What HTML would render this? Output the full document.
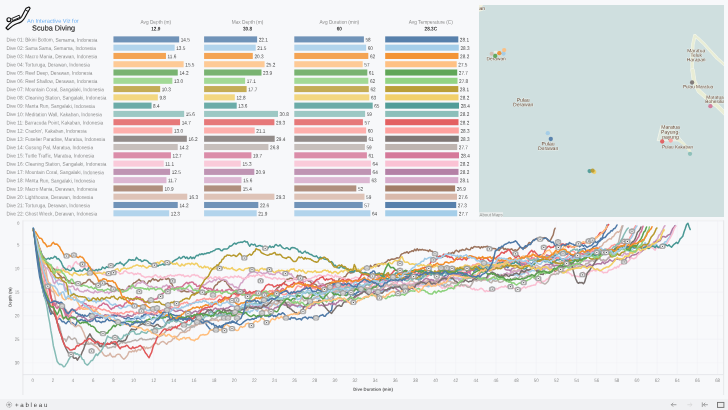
<!DOCTYPE html>
<html><head><meta charset="utf-8"><title>Scuba Diving</title>
<style>
html,body{margin:0;padding:0}
svg text{text-rendering:geometricPrecision}
svg{will-change:transform}
body{width:728px;height:410px;overflow:hidden;background:#f7f8fa;font-family:"Liberation Sans",sans-serif;position:relative}
.abs{position:absolute}
.tl{font-size:5.3px;fill:#8e8e8e;font-family:"Liberation Sans",sans-serif}
.tn{font-size:5.25px;fill:#4a4a4a;font-family:"Liberation Sans",sans-serif}
.th{font-size:5.35px;fill:#8b8b8b;font-family:"Liberation Sans",sans-serif}
.tv{font-size:5.25px;fill:#333;font-weight:bold;font-family:"Liberation Sans",sans-serif}
.mp{fill:#684a39;font-family:"Liberation Sans",sans-serif;paint-order:stroke;stroke:#eef3ee;stroke-width:0.9px;stroke-opacity:0.75}
.tk{font-size:4.9px;fill:#8f8f8f;font-family:"Liberation Sans",sans-serif}
</style></head><body>

<svg class="abs" style="left:0;top:0" width="100" height="36" viewBox="0 0 100 36">
<g fill="none" stroke="#111" stroke-width="1.15" stroke-linecap="round" stroke-linejoin="round">
<path d="M6 28 L7.9 29.7 L12.6 25.9 Q14.8 24.3 17.2 23.5 Q20.2 22.7 21.7 21.5 Q23.4 20.1 24.6 18 L27.8 12.2 L30.1 8.2 L28.9 7 L26.1 8.3 L24.2 11.8 L21.6 16.8 Q20.8 18.1 19.5 18.7 L15.5 20.2 Q13.4 20.9 12.1 21.6 L9.3 24.2 Z"/>
<circle cx="8.9" cy="19.7" r="1.95"/>
<path d="M12.1 18.3 L19.2 15.2 L20.2 17.3 L13.1 20.4 Z" stroke-width="0.95"/>
<path d="M25.9 10.3 L28.2 11.4" stroke-width="0.9"/>
</g>
<text x="27" y="22.8" transform="rotate(0.03 27 22.8)" style="font-size:5.62px;fill:#6fb1f3;font-family:'Liberation Sans',sans-serif">An Interactive Viz for</text>
<text x="32.1" y="30.6" transform="rotate(0.03 32.1 30.6)" style="font-size:7.3px;fill:#222;stroke:#222;stroke-width:0.12px;font-family:'Liberation Sans',sans-serif">Scuba Diving</text>
</svg>
<svg class="abs" style="left:0;top:0" width="480" height="220" viewBox="0 0 480 220">
<text class="th" text-anchor="middle" transform="translate(155.80 23.70) scale(0.893 1) rotate(0.03)">Avg Depth (m)</text>
<text class="tv" text-anchor="middle" transform="translate(155.80 30.45) scale(0.893 1) rotate(0.03)">12.9</text>
<text class="th" text-anchor="middle" transform="translate(247.50 23.70) scale(0.893 1) rotate(0.03)">Max Depth (m)</text>
<text class="tv" text-anchor="middle" transform="translate(247.50 30.45) scale(0.893 1) rotate(0.03)">30.8</text>
<text class="th" text-anchor="middle" transform="translate(339.30 23.70) scale(0.893 1) rotate(0.03)">Avg Duration (min)</text>
<text class="tv" text-anchor="middle" transform="translate(339.30 30.45) scale(0.893 1) rotate(0.03)">60</text>
<text class="th" text-anchor="middle" transform="translate(430.80 23.70) scale(0.893 1) rotate(0.03)">Avg Temperature (C)</text>
<text class="tv" text-anchor="middle" transform="translate(430.80 30.45) scale(0.893 1) rotate(0.03)">28.3C</text>
<text class="tl" transform="translate(6.50 41.60) scale(0.893 1) rotate(0.03)">Dive 01: Bikini Bottom, Semama, Indonesia</text>
<rect x="113.45" y="36.38" width="65.7" height="6.05" fill="#4e79a7" opacity="0.8"/>
<text class="tn" transform="translate(180.73 41.60) scale(0.893 1) rotate(0.03)">14.5</text>
<rect x="204.1" y="36.38" width="53.0" height="6.05" fill="#4e79a7" opacity="0.8"/>
<text class="tn" transform="translate(258.74 41.60) scale(0.893 1) rotate(0.03)">22.1</text>
<rect x="294.3" y="36.38" width="69.6" height="6.05" fill="#4e79a7" opacity="0.8"/>
<text class="tn" transform="translate(365.50 41.60) scale(0.893 1) rotate(0.03)">58</text>
<rect x="385.2" y="36.38" width="73.1" height="6.05" fill="#4e79a7" opacity="0.95"/>
<text class="tn" transform="translate(459.86 41.60) scale(0.893 1) rotate(0.03)">28.1</text>
<text class="tl" transform="translate(6.50 49.88) scale(0.893 1) rotate(0.03)">Dive 02: Sama Sama, Semama, Indonesia</text>
<rect x="113.45" y="44.66" width="61.2" height="6.05" fill="#a0cbe8" opacity="0.8"/>
<text class="tn" transform="translate(176.21 49.88) scale(0.893 1) rotate(0.03)">13.5</text>
<rect x="204.1" y="44.66" width="51.6" height="6.05" fill="#a0cbe8" opacity="0.8"/>
<text class="tn" transform="translate(257.30 49.88) scale(0.893 1) rotate(0.03)">21.5</text>
<rect x="294.3" y="44.66" width="71.8" height="6.05" fill="#a0cbe8" opacity="0.8"/>
<text class="tn" transform="translate(367.66 49.88) scale(0.893 1) rotate(0.03)">60</text>
<rect x="385.2" y="44.66" width="73.6" height="6.05" fill="#a0cbe8" opacity="0.95"/>
<text class="tn" transform="translate(460.38 49.88) scale(0.893 1) rotate(0.03)">28.3</text>
<text class="tl" transform="translate(6.50 58.16) scale(0.893 1) rotate(0.03)">Dive 03: Macro Mania, Derawan, Indonesia</text>
<rect x="113.45" y="52.93" width="52.5" height="6.05" fill="#f28e2b" opacity="0.8"/>
<text class="tn" transform="translate(167.60 58.16) scale(0.893 1) rotate(0.03)">11.6</text>
<rect x="204.1" y="52.93" width="48.7" height="6.05" fill="#f28e2b" opacity="0.8"/>
<text class="tn" transform="translate(254.42 58.16) scale(0.893 1) rotate(0.03)">20.3</text>
<rect x="294.3" y="52.93" width="74.0" height="6.05" fill="#f28e2b" opacity="0.8"/>
<text class="tn" transform="translate(369.94 58.16) scale(0.893 1) rotate(0.03)">62</text>
<rect x="385.2" y="52.93" width="73.3" height="6.05" fill="#f28e2b" opacity="0.95"/>
<text class="tn" transform="translate(460.12 58.16) scale(0.893 1) rotate(0.03)">28.2</text>
<text class="tl" transform="translate(6.50 66.44) scale(0.893 1) rotate(0.03)">Dive 04: Torturuga, Derawan, Indonesia</text>
<rect x="113.45" y="61.21" width="70.2" height="6.05" fill="#ffbe7d" opacity="0.8"/>
<text class="tn" transform="translate(185.27 66.44) scale(0.893 1) rotate(0.03)">15.5</text>
<rect x="204.1" y="61.21" width="60.5" height="6.05" fill="#ffbe7d" opacity="0.8"/>
<text class="tn" transform="translate(266.18 66.44) scale(0.893 1) rotate(0.03)">25.2</text>
<rect x="294.3" y="61.21" width="68.4" height="6.05" fill="#ffbe7d" opacity="0.8"/>
<text class="tn" transform="translate(364.30 66.44) scale(0.893 1) rotate(0.03)">57</text>
<rect x="385.2" y="61.21" width="71.5" height="6.05" fill="#ffbe7d" opacity="0.95"/>
<text class="tn" transform="translate(458.30 66.44) scale(0.893 1) rotate(0.03)">27.5</text>
<text class="tl" transform="translate(6.50 74.72) scale(0.893 1) rotate(0.03)">Dive 05: Reef Deep, Derawan, Indonesia</text>
<rect x="113.45" y="69.49" width="64.3" height="6.05" fill="#59a14f" opacity="0.8"/>
<text class="tn" transform="translate(179.38 74.72) scale(0.893 1) rotate(0.03)">14.2</text>
<rect x="204.1" y="69.49" width="57.4" height="6.05" fill="#59a14f" opacity="0.8"/>
<text class="tn" transform="translate(263.06 74.72) scale(0.893 1) rotate(0.03)">23.9</text>
<rect x="294.3" y="69.49" width="73.0" height="6.05" fill="#59a14f" opacity="0.8"/>
<text class="tn" transform="translate(368.86 74.72) scale(0.893 1) rotate(0.03)">61</text>
<rect x="385.2" y="69.49" width="72.0" height="6.05" fill="#59a14f" opacity="0.95"/>
<text class="tn" transform="translate(458.82 74.72) scale(0.893 1) rotate(0.03)">27.7</text>
<text class="tl" transform="translate(6.50 83.00) scale(0.893 1) rotate(0.03)">Dive 06: Reef Shallow, Derawan, Indonesia</text>
<rect x="113.45" y="77.77" width="58.9" height="6.05" fill="#8cd17d" opacity="0.8"/>
<text class="tn" transform="translate(173.94 83.00) scale(0.893 1) rotate(0.03)">13.0</text>
<rect x="204.1" y="77.77" width="41.0" height="6.05" fill="#8cd17d" opacity="0.8"/>
<text class="tn" transform="translate(246.74 83.00) scale(0.893 1) rotate(0.03)">17.1</text>
<rect x="294.3" y="77.77" width="74.0" height="6.05" fill="#8cd17d" opacity="0.8"/>
<text class="tn" transform="translate(369.94 83.00) scale(0.893 1) rotate(0.03)">62</text>
<rect x="385.2" y="77.77" width="72.3" height="6.05" fill="#8cd17d" opacity="0.95"/>
<text class="tn" transform="translate(459.08 83.00) scale(0.893 1) rotate(0.03)">27.8</text>
<text class="tl" transform="translate(6.50 91.28) scale(0.893 1) rotate(0.03)">Dive 07: Mountain Coral, Sangalaki, Indonesia</text>
<rect x="113.45" y="86.05" width="46.7" height="6.05" fill="#b6992d" opacity="0.8"/>
<text class="tn" transform="translate(161.71 91.28) scale(0.893 1) rotate(0.03)">10.3</text>
<rect x="204.1" y="86.05" width="42.5" height="6.05" fill="#b6992d" opacity="0.8"/>
<text class="tn" transform="translate(248.18 91.28) scale(0.893 1) rotate(0.03)">17.7</text>
<rect x="294.3" y="86.05" width="74.5" height="6.05" fill="#b6992d" opacity="0.8"/>
<text class="tn" transform="translate(370.42 91.28) scale(0.893 1) rotate(0.03)">62</text>
<rect x="385.2" y="86.05" width="73.1" height="6.05" fill="#b6992d" opacity="0.95"/>
<text class="tn" transform="translate(459.86 91.28) scale(0.893 1) rotate(0.03)">28.1</text>
<text class="tl" transform="translate(6.50 99.56) scale(0.893 1) rotate(0.03)">Dive 08: Cleaning Station, Sangalaki, Indonesia</text>
<rect x="113.45" y="94.33" width="44.4" height="6.05" fill="#f1ce63" opacity="0.8"/>
<text class="tn" transform="translate(159.44 99.56) scale(0.893 1) rotate(0.03)">9.8</text>
<rect x="204.1" y="94.33" width="30.7" height="6.05" fill="#f1ce63" opacity="0.8"/>
<text class="tn" transform="translate(236.42 99.56) scale(0.893 1) rotate(0.03)">12.8</text>
<rect x="294.3" y="94.33" width="75.0" height="6.05" fill="#f1ce63" opacity="0.8"/>
<text class="tn" transform="translate(370.90 99.56) scale(0.893 1) rotate(0.03)">63</text>
<rect x="385.2" y="94.33" width="73.3" height="6.05" fill="#f1ce63" opacity="0.95"/>
<text class="tn" transform="translate(460.12 99.56) scale(0.893 1) rotate(0.03)">28.2</text>
<text class="tl" transform="translate(6.50 107.84) scale(0.893 1) rotate(0.03)">Dive 09: Manta Run, Sangalaki, Indonesia</text>
<rect x="113.45" y="102.61" width="38.1" height="6.05" fill="#499894" opacity="0.8"/>
<text class="tn" transform="translate(153.10 107.84) scale(0.893 1) rotate(0.03)">8.4</text>
<rect x="204.1" y="102.61" width="32.6" height="6.05" fill="#499894" opacity="0.8"/>
<text class="tn" transform="translate(238.34 107.84) scale(0.893 1) rotate(0.03)">13.6</text>
<rect x="294.3" y="102.61" width="78.4" height="6.05" fill="#499894" opacity="0.8"/>
<text class="tn" transform="translate(374.26 107.84) scale(0.893 1) rotate(0.03)">65</text>
<rect x="385.2" y="102.61" width="73.8" height="6.05" fill="#499894" opacity="0.95"/>
<text class="tn" transform="translate(460.64 107.84) scale(0.893 1) rotate(0.03)">28.4</text>
<text class="tl" transform="translate(6.50 116.12) scale(0.893 1) rotate(0.03)">Dive 10: Meditation Wall, Kakaban, Indonesia</text>
<rect x="113.45" y="110.89" width="70.7" height="6.05" fill="#86bcb6" opacity="0.8"/>
<text class="tn" transform="translate(185.72 116.12) scale(0.893 1) rotate(0.03)">15.6</text>
<rect x="204.1" y="110.89" width="73.9" height="6.05" fill="#86bcb6" opacity="0.8"/>
<text class="tn" transform="translate(279.62 116.12) scale(0.893 1) rotate(0.03)">30.8</text>
<rect x="294.3" y="110.89" width="70.8" height="6.05" fill="#86bcb6" opacity="0.8"/>
<text class="tn" transform="translate(366.70 116.12) scale(0.893 1) rotate(0.03)">59</text>
<rect x="385.2" y="110.89" width="73.3" height="6.05" fill="#86bcb6" opacity="0.95"/>
<text class="tn" transform="translate(460.12 116.12) scale(0.893 1) rotate(0.03)">28.2</text>
<text class="tl" transform="translate(6.50 124.40) scale(0.893 1) rotate(0.03)">Dive 11: Barracuda Point, Kakaban, Indonesia</text>
<rect x="113.45" y="119.17" width="66.6" height="6.05" fill="#e15759" opacity="0.8"/>
<text class="tn" transform="translate(181.64 124.40) scale(0.893 1) rotate(0.03)">14.7</text>
<rect x="204.1" y="119.17" width="70.3" height="6.05" fill="#e15759" opacity="0.8"/>
<text class="tn" transform="translate(276.02 124.40) scale(0.893 1) rotate(0.03)">29.3</text>
<rect x="294.3" y="119.17" width="68.6" height="6.05" fill="#e15759" opacity="0.8"/>
<text class="tn" transform="translate(364.54 124.40) scale(0.893 1) rotate(0.03)">57</text>
<rect x="385.2" y="119.17" width="73.3" height="6.05" fill="#e15759" opacity="0.95"/>
<text class="tn" transform="translate(460.12 124.40) scale(0.893 1) rotate(0.03)">28.2</text>
<text class="tl" transform="translate(6.50 132.68) scale(0.893 1) rotate(0.03)">Dive 12: Crackin&#39;, Kakaban, Indonesia</text>
<rect x="113.45" y="127.45" width="58.9" height="6.05" fill="#ff9d9a" opacity="0.8"/>
<text class="tn" transform="translate(173.94 132.68) scale(0.893 1) rotate(0.03)">13.0</text>
<rect x="204.1" y="127.45" width="50.6" height="6.05" fill="#ff9d9a" opacity="0.8"/>
<text class="tn" transform="translate(256.34 132.68) scale(0.893 1) rotate(0.03)">21.1</text>
<rect x="294.3" y="127.45" width="71.8" height="6.05" fill="#ff9d9a" opacity="0.8"/>
<text class="tn" transform="translate(367.66 132.68) scale(0.893 1) rotate(0.03)">60</text>
<rect x="385.2" y="127.45" width="73.6" height="6.05" fill="#ff9d9a" opacity="0.95"/>
<text class="tn" transform="translate(460.38 132.68) scale(0.893 1) rotate(0.03)">28.3</text>
<text class="tl" transform="translate(6.50 140.96) scale(0.893 1) rotate(0.03)">Dive 13: Fuselier Paradise, Maratua, Indonesia</text>
<rect x="113.45" y="135.73" width="73.4" height="6.05" fill="#79706e" opacity="0.8"/>
<text class="tn" transform="translate(188.44 140.96) scale(0.893 1) rotate(0.03)">16.2</text>
<rect x="204.1" y="135.73" width="70.6" height="6.05" fill="#79706e" opacity="0.8"/>
<text class="tn" transform="translate(276.26 140.96) scale(0.893 1) rotate(0.03)">29.4</text>
<rect x="294.3" y="135.73" width="72.6" height="6.05" fill="#79706e" opacity="0.8"/>
<text class="tn" transform="translate(368.50 140.96) scale(0.893 1) rotate(0.03)">61</text>
<rect x="385.2" y="135.73" width="73.6" height="6.05" fill="#79706e" opacity="0.95"/>
<text class="tn" transform="translate(460.38 140.96) scale(0.893 1) rotate(0.03)">28.3</text>
<text class="tl" transform="translate(6.50 149.24) scale(0.893 1) rotate(0.03)">Dive 14: Gusung Pal, Maratua, Indonesia</text>
<rect x="113.45" y="144.01" width="64.3" height="6.05" fill="#bab0ac" opacity="0.8"/>
<text class="tn" transform="translate(179.38 149.24) scale(0.893 1) rotate(0.03)">14.2</text>
<rect x="204.1" y="144.01" width="64.3" height="6.05" fill="#bab0ac" opacity="0.8"/>
<text class="tn" transform="translate(270.02 149.24) scale(0.893 1) rotate(0.03)">26.8</text>
<rect x="294.3" y="144.01" width="70.6" height="6.05" fill="#bab0ac" opacity="0.8"/>
<text class="tn" transform="translate(366.46 149.24) scale(0.893 1) rotate(0.03)">59</text>
<rect x="385.2" y="144.01" width="72.0" height="6.05" fill="#bab0ac" opacity="0.95"/>
<text class="tn" transform="translate(458.82 149.24) scale(0.893 1) rotate(0.03)">27.7</text>
<text class="tl" transform="translate(6.50 157.52) scale(0.893 1) rotate(0.03)">Dive 15: Turtle Traffic, Maratua, Indonesia</text>
<rect x="113.45" y="152.29" width="57.5" height="6.05" fill="#d37295" opacity="0.8"/>
<text class="tn" transform="translate(172.58 157.52) scale(0.893 1) rotate(0.03)">12.7</text>
<rect x="204.1" y="152.29" width="47.3" height="6.05" fill="#d37295" opacity="0.8"/>
<text class="tn" transform="translate(252.98 157.52) scale(0.893 1) rotate(0.03)">19.7</text>
<rect x="294.3" y="152.29" width="72.6" height="6.05" fill="#d37295" opacity="0.8"/>
<text class="tn" transform="translate(368.50 157.52) scale(0.893 1) rotate(0.03)">61</text>
<rect x="385.2" y="152.29" width="73.8" height="6.05" fill="#d37295" opacity="0.95"/>
<text class="tn" transform="translate(460.64 157.52) scale(0.893 1) rotate(0.03)">28.4</text>
<text class="tl" transform="translate(6.50 165.80) scale(0.893 1) rotate(0.03)">Dive 16: Cleaning Station, Sangalaki, Indonesia</text>
<rect x="113.45" y="160.57" width="50.3" height="6.05" fill="#fabfd2" opacity="0.8"/>
<text class="tn" transform="translate(165.33 165.80) scale(0.893 1) rotate(0.03)">11.1</text>
<rect x="204.1" y="160.57" width="36.7" height="6.05" fill="#fabfd2" opacity="0.8"/>
<text class="tn" transform="translate(242.42 165.80) scale(0.893 1) rotate(0.03)">15.3</text>
<rect x="294.3" y="160.57" width="76.7" height="6.05" fill="#fabfd2" opacity="0.8"/>
<text class="tn" transform="translate(372.58 165.80) scale(0.893 1) rotate(0.03)">64</text>
<rect x="385.2" y="160.57" width="73.3" height="6.05" fill="#fabfd2" opacity="0.95"/>
<text class="tn" transform="translate(460.12 165.80) scale(0.893 1) rotate(0.03)">28.2</text>
<text class="tl" transform="translate(6.50 174.08) scale(0.893 1) rotate(0.03)">Dive 17: Mountain Coral, Sangalaki, Indonesia</text>
<rect x="113.45" y="168.85" width="56.6" height="6.05" fill="#b07aa1" opacity="0.8"/>
<text class="tn" transform="translate(171.67 174.08) scale(0.893 1) rotate(0.03)">12.5</text>
<rect x="204.1" y="168.85" width="50.2" height="6.05" fill="#b07aa1" opacity="0.8"/>
<text class="tn" transform="translate(255.86 174.08) scale(0.893 1) rotate(0.03)">20.9</text>
<rect x="294.3" y="168.85" width="76.7" height="6.05" fill="#b07aa1" opacity="0.8"/>
<text class="tn" transform="translate(372.58 174.08) scale(0.893 1) rotate(0.03)">64</text>
<rect x="385.2" y="168.85" width="73.3" height="6.05" fill="#b07aa1" opacity="0.95"/>
<text class="tn" transform="translate(460.12 174.08) scale(0.893 1) rotate(0.03)">28.2</text>
<text class="tl" transform="translate(6.50 182.36) scale(0.893 1) rotate(0.03)">Dive 18: Manta Run, Sangalaki, Indonesia</text>
<rect x="113.45" y="177.13" width="53.0" height="6.05" fill="#d4a6c8" opacity="0.8"/>
<text class="tn" transform="translate(168.05 182.36) scale(0.893 1) rotate(0.03)">11.7</text>
<rect x="204.1" y="177.13" width="37.4" height="6.05" fill="#d4a6c8" opacity="0.8"/>
<text class="tn" transform="translate(243.14 182.36) scale(0.893 1) rotate(0.03)">15.6</text>
<rect x="294.3" y="177.13" width="75.5" height="6.05" fill="#d4a6c8" opacity="0.8"/>
<text class="tn" transform="translate(371.38 182.36) scale(0.893 1) rotate(0.03)">63</text>
<rect x="385.2" y="177.13" width="73.1" height="6.05" fill="#d4a6c8" opacity="0.95"/>
<text class="tn" transform="translate(459.86 182.36) scale(0.893 1) rotate(0.03)">28.1</text>
<text class="tl" transform="translate(6.50 190.64) scale(0.893 1) rotate(0.03)">Dive 19: Macro Mania, Derawan, Indonesia</text>
<rect x="113.45" y="185.41" width="49.4" height="6.05" fill="#9d7660" opacity="0.8"/>
<text class="tn" transform="translate(164.43 190.64) scale(0.893 1) rotate(0.03)">10.9</text>
<rect x="204.1" y="185.41" width="37.0" height="6.05" fill="#9d7660" opacity="0.8"/>
<text class="tn" transform="translate(242.66 190.64) scale(0.893 1) rotate(0.03)">15.4</text>
<rect x="294.3" y="185.41" width="62.0" height="6.05" fill="#9d7660" opacity="0.8"/>
<text class="tn" transform="translate(357.94 190.64) scale(0.893 1) rotate(0.03)">52</text>
<rect x="385.2" y="185.41" width="69.9" height="6.05" fill="#9d7660" opacity="0.95"/>
<text class="tn" transform="translate(456.74 190.64) scale(0.893 1) rotate(0.03)">26.9</text>
<text class="tl" transform="translate(6.50 198.92) scale(0.893 1) rotate(0.03)">Dive 20: Lighthouse, Derawan, Indonesia</text>
<rect x="113.45" y="193.69" width="73.8" height="6.05" fill="#d7b5a6" opacity="0.8"/>
<text class="tn" transform="translate(188.89 198.92) scale(0.893 1) rotate(0.03)">16.3</text>
<rect x="204.1" y="193.69" width="70.3" height="6.05" fill="#d7b5a6" opacity="0.8"/>
<text class="tn" transform="translate(276.02 198.92) scale(0.893 1) rotate(0.03)">29.3</text>
<rect x="294.3" y="193.69" width="70.2" height="6.05" fill="#d7b5a6" opacity="0.8"/>
<text class="tn" transform="translate(366.10 198.92) scale(0.893 1) rotate(0.03)">59</text>
<rect x="385.2" y="193.69" width="71.8" height="6.05" fill="#d7b5a6" opacity="0.95"/>
<text class="tn" transform="translate(458.56 198.92) scale(0.893 1) rotate(0.03)">27.6</text>
<text class="tl" transform="translate(6.50 207.20) scale(0.893 1) rotate(0.03)">Dive 21: Torturuga, Derawan, Indonesia</text>
<rect x="113.45" y="201.97" width="64.3" height="6.05" fill="#4e79a7" opacity="0.8"/>
<text class="tn" transform="translate(179.38 207.20) scale(0.893 1) rotate(0.03)">14.2</text>
<rect x="204.1" y="201.97" width="54.2" height="6.05" fill="#4e79a7" opacity="0.8"/>
<text class="tn" transform="translate(259.94 207.20) scale(0.893 1) rotate(0.03)">22.6</text>
<rect x="294.3" y="201.97" width="68.4" height="6.05" fill="#4e79a7" opacity="0.8"/>
<text class="tn" transform="translate(364.30 207.20) scale(0.893 1) rotate(0.03)">57</text>
<rect x="385.2" y="201.97" width="71.0" height="6.05" fill="#4e79a7" opacity="0.95"/>
<text class="tn" transform="translate(457.78 207.20) scale(0.893 1) rotate(0.03)">27.3</text>
<text class="tl" transform="translate(6.50 215.48) scale(0.893 1) rotate(0.03)">Dive 22: Ghost Wreck, Derawan, Indonesia</text>
<rect x="113.45" y="210.25" width="55.7" height="6.05" fill="#a0cbe8" opacity="0.8"/>
<text class="tn" transform="translate(170.77 215.48) scale(0.893 1) rotate(0.03)">12.3</text>
<rect x="204.1" y="210.25" width="52.6" height="6.05" fill="#a0cbe8" opacity="0.8"/>
<text class="tn" transform="translate(258.26 215.48) scale(0.893 1) rotate(0.03)">21.9</text>
<rect x="294.3" y="210.25" width="76.1" height="6.05" fill="#a0cbe8" opacity="0.8"/>
<text class="tn" transform="translate(371.98 215.48) scale(0.893 1) rotate(0.03)">64</text>
<rect x="385.2" y="210.25" width="72.0" height="6.05" fill="#a0cbe8" opacity="0.95"/>
<text class="tn" transform="translate(458.82 215.48) scale(0.893 1) rotate(0.03)">27.7</text>
</svg>
<div class="abs" style="left:478.8px;top:4.7px;width:244.8px;height:211.9px;background:#cfdfdf;overflow:hidden">
<svg class="abs" style="left:0;top:0" width="245" height="212" viewBox="0 0 245 212">
<path d="M215.8 30.8 L213.8 39.7 L213.1 52.3 L213.2 64.1 L215.0 76.3 L219.8 86.0 L228.2 93.3 L238.0 100.7 L246.2 108.8" fill="none" stroke="#f1f4ea" stroke-width="3.5" stroke-linejoin="round" stroke-linecap="round"/>
<path d="M215.8 30.8 L220.2 34.3 L225.8 39.7 L231.7 46.3 L238.0 53.1 L246.2 60.3" fill="none" stroke="#f1f4ea" stroke-width="3.1" stroke-linejoin="round" stroke-linecap="round"/>
<path d="M215.8 30.8 L213.8 39.7 L213.1 52.3 L213.2 64.1 L215.0 76.3 L219.8 86.0 L228.2 93.3 L238.0 100.7 L246.2 108.8" fill="none" stroke="#e9edd5" stroke-width="2.3" stroke-linejoin="round" stroke-linecap="round"/>
<path d="M215.8 30.8 L220.2 34.3 L225.8 39.7 L231.7 46.3 L238.0 53.1 L246.2 60.3" fill="none" stroke="#e9edd5" stroke-width="1.9" stroke-linejoin="round" stroke-linecap="round"/>
<path d="M213.6 65.3 L215.2 76.3 L219.8 86.0 L228.2 93.3 L238.0 100.7 L246.2 108.8" fill="none" stroke="#f1f4ea" stroke-width="4.4" stroke-linejoin="round" stroke-linecap="round"/>
<path d="M213.6 65.3 L215.2 76.3 L219.8 86.0 L228.2 93.3 L238.0 100.7 L246.2 108.8" fill="none" stroke="#e9edd5" stroke-width="3.2" stroke-linejoin="round" stroke-linecap="round"/>
<path d="M182.0 120.5 L178.2 135.6 L199.2 135.9 L205.2 139.9 L211.8 147.9 L210.8 144.3 L200.2 131.9 L193.2 122.3 Z" fill="#dde8e0" stroke="#f1f4ea" stroke-width="0.9" stroke-linejoin="round"/>
<path d="M197.2 133.9 L204.7 138.8 L211.2 146.8" fill="none" stroke="#e9edd5" stroke-width="2.2" stroke-linecap="round" stroke-linejoin="round"/>
<ellipse cx="17.2" cy="47.1" rx="2.6" ry="1.3" fill="#eef1e8"/>
<path d="M0 0H4.2L2.6 2.2L3.8 5.6L0 6.8Z" fill="#f3f1dc" opacity="0.95"/>
<text class="mp" x="17.2" y="55.15" text-anchor="middle" transform="rotate(0.03 17.2 55.15)" style="font-size:4.8px">Derawan</text>
<text class="mp" x="44.2" y="96.65" text-anchor="middle" transform="rotate(0.03 44.2 96.65)" style="font-size:5.1px">Pulau</text>
<text class="mp" x="44.2" y="101.35" text-anchor="middle" transform="rotate(0.03 44.2 101.35)" style="font-size:5.1px">Derawan</text>
<text class="mp" x="69.1" y="140.45" text-anchor="middle" transform="rotate(0.03 69.1 140.45)" style="font-size:5.1px">Pulau</text>
<text class="mp" x="69.1" y="145.05" text-anchor="middle" transform="rotate(0.03 69.1 145.05)" style="font-size:5.1px">Derawan</text>
<text class="mp" x="217.2" y="47.35" text-anchor="middle" transform="rotate(0.03 217.2 47.35)" style="font-size:4.9px">Maratua</text>
<text class="mp" x="217.2" y="51.80" text-anchor="middle" transform="rotate(0.03 217.2 51.80)" style="font-size:4.9px">Teluk</text>
<text class="mp" x="217.2" y="56.25" text-anchor="middle" transform="rotate(0.03 217.2 56.25)" style="font-size:4.9px">Harapan</text>
<text class="mp" x="219.0" y="83.15" text-anchor="middle" transform="rotate(0.03 219.0 83.15)" style="font-size:4.65px">Pulau Maratua</text>
<text class="mp" x="236.0" y="93.65" text-anchor="middle" transform="rotate(0.03 236.0 93.65)" style="font-size:4.8px">Maratua</text>
<text class="mp" x="236.0" y="97.95" text-anchor="middle" transform="rotate(0.03 236.0 97.95)" style="font-size:4.8px">Bohesilia</text>
<text class="mp" x="191.5" y="123.65" text-anchor="middle" transform="rotate(0.03 191.5 123.65)" style="font-size:5.1px">Maratua</text>
<text class="mp" x="191.5" y="128.65" text-anchor="middle" transform="rotate(0.03 191.5 128.65)" style="font-size:5.1px">Payung-</text>
<text class="mp" x="191.5" y="133.65" text-anchor="middle" transform="rotate(0.03 191.5 133.65)" style="font-size:5.1px">payung</text>
<text class="mp" x="198.5" y="143.45" text-anchor="middle" transform="rotate(0.03 198.5 143.45)" style="font-size:4.6px">Pulau Kakaban</text>
<text class="mp" x="0.3" y="4.9" transform="rotate(0.03 0.3 4.9)" style="font-size:5.3px">an</text>
<rect x="0" y="207.2" width="24" height="5.2" fill="#edf1f0" opacity="0.85"/>
<text x="0.5" y="211.2" transform="rotate(0.03 0.5 211.2)" style="font-size:4.35px;fill:#8a8a8a;font-family:'Liberation Sans',sans-serif;paint-order:normal;stroke:none">About Maps</text>
<circle cx="12.6" cy="48.7" r="2.0" fill="#d7b5a6" opacity="0.8"/>
<circle cx="24.5" cy="48.5" r="2.15" fill="#a0cbe8" opacity="0.9"/>
<circle cx="23.2" cy="47.9" r="2.0" fill="#4e79a7" opacity="0.0"/>
<circle cx="25.2" cy="45.1" r="2.15" fill="#ffbe7d" opacity="0.9"/>
<circle cx="20.3" cy="48.2" r="2.15" fill="#f28e2b" opacity="0.9"/>
<circle cx="16.2" cy="51.0" r="2.15" fill="#59a14f" opacity="0.9"/>
<circle cx="68.8" cy="128.2" r="2.15" fill="#a0cbe8" opacity="0.9"/>
<circle cx="71.8" cy="134.0" r="2.15" fill="#4e79a7" opacity="0.9"/>
<circle cx="110.6" cy="166.1" r="2.15" fill="#499894" opacity="0.9"/>
<circle cx="115.2" cy="167.0" r="2.15" fill="#f1ce63" opacity="0.9"/>
<circle cx="113.6" cy="165.7" r="2.15" fill="#b6992d" opacity="0.9"/>
<circle cx="213.1" cy="77.5" r="2.15" fill="#79706e" opacity="0.9"/>
<circle cx="231.4" cy="101.2" r="2.15" fill="#d37295" opacity="0.9"/>
<circle cx="183.2" cy="136.5" r="2.15" fill="#e15759" opacity="0.9"/>
<circle cx="191.7" cy="135.6" r="2.15" fill="#ff9d9a" opacity="0.9"/>
<circle cx="211.0" cy="148.8" r="2.15" fill="#86bcb6" opacity="0.9"/>
</svg>

</div>
<svg class="abs" style="left:0;top:0" width="728" height="410" viewBox="0 0 728 410">
<rect x="22.9" y="220.4" width="700.7" height="154.2" fill="#f8f9fb"/>
<path d="M32.8 220.4V374.6 M52.9 220.4V374.6 M73.1 220.4V374.6 M93.2 220.4V374.6 M113.4 220.4V374.6 M133.5 220.4V374.6 M153.6 220.4V374.6 M173.8 220.4V374.6 M193.9 220.4V374.6 M214.1 220.4V374.6 M234.2 220.4V374.6 M254.3 220.4V374.6 M274.5 220.4V374.6 M294.6 220.4V374.6 M314.8 220.4V374.6 M334.9 220.4V374.6 M355.0 220.4V374.6 M375.2 220.4V374.6 M395.3 220.4V374.6 M415.5 220.4V374.6 M435.6 220.4V374.6 M455.7 220.4V374.6 M475.9 220.4V374.6 M496.0 220.4V374.6 M516.2 220.4V374.6 M536.3 220.4V374.6 M556.4 220.4V374.6 M576.6 220.4V374.6 M596.7 220.4V374.6 M616.9 220.4V374.6 M637.0 220.4V374.6 M657.1 220.4V374.6 M677.3 220.4V374.6 M697.4 220.4V374.6 M717.6 220.4V374.6 M22.9 221.3H723.6 M22.9 244.9H723.6 M22.9 268.5H723.6 M22.9 292.1H723.6 M22.9 315.7H723.6 M22.9 339.3H723.6 M22.9 362.9H723.6" stroke="#eff0f3" stroke-width="0.45" fill="none"/>
<path d="M22.9 220.4H723.6V374.6" stroke="#eceef0" stroke-width="0.6" fill="none"/>
<path d="M22.9 220.4V395 M22.9 374.6H723.6 M723.6 220.4V395" stroke="#dfe1e4" stroke-width="0.7" fill="none"/>
<text class="tk" text-anchor="middle" transform="translate(32.80 382.00) scale(0.893 1) rotate(0.03)">0</text>
<text class="tk" text-anchor="middle" transform="translate(52.94 382.00) scale(0.893 1) rotate(0.03)">2</text>
<text class="tk" text-anchor="middle" transform="translate(73.08 382.00) scale(0.893 1) rotate(0.03)">4</text>
<text class="tk" text-anchor="middle" transform="translate(93.22 382.00) scale(0.893 1) rotate(0.03)">6</text>
<text class="tk" text-anchor="middle" transform="translate(113.36 382.00) scale(0.893 1) rotate(0.03)">8</text>
<text class="tk" text-anchor="middle" transform="translate(133.50 382.00) scale(0.893 1) rotate(0.03)">10</text>
<text class="tk" text-anchor="middle" transform="translate(153.64 382.00) scale(0.893 1) rotate(0.03)">12</text>
<text class="tk" text-anchor="middle" transform="translate(173.78 382.00) scale(0.893 1) rotate(0.03)">14</text>
<text class="tk" text-anchor="middle" transform="translate(193.92 382.00) scale(0.893 1) rotate(0.03)">16</text>
<text class="tk" text-anchor="middle" transform="translate(214.06 382.00) scale(0.893 1) rotate(0.03)">18</text>
<text class="tk" text-anchor="middle" transform="translate(234.20 382.00) scale(0.893 1) rotate(0.03)">20</text>
<text class="tk" text-anchor="middle" transform="translate(254.34 382.00) scale(0.893 1) rotate(0.03)">22</text>
<text class="tk" text-anchor="middle" transform="translate(274.48 382.00) scale(0.893 1) rotate(0.03)">24</text>
<text class="tk" text-anchor="middle" transform="translate(294.62 382.00) scale(0.893 1) rotate(0.03)">26</text>
<text class="tk" text-anchor="middle" transform="translate(314.76 382.00) scale(0.893 1) rotate(0.03)">28</text>
<text class="tk" text-anchor="middle" transform="translate(334.90 382.00) scale(0.893 1) rotate(0.03)">30</text>
<text class="tk" text-anchor="middle" transform="translate(355.04 382.00) scale(0.893 1) rotate(0.03)">32</text>
<text class="tk" text-anchor="middle" transform="translate(375.18 382.00) scale(0.893 1) rotate(0.03)">34</text>
<text class="tk" text-anchor="middle" transform="translate(395.32 382.00) scale(0.893 1) rotate(0.03)">36</text>
<text class="tk" text-anchor="middle" transform="translate(415.46 382.00) scale(0.893 1) rotate(0.03)">38</text>
<text class="tk" text-anchor="middle" transform="translate(435.60 382.00) scale(0.893 1) rotate(0.03)">40</text>
<text class="tk" text-anchor="middle" transform="translate(455.74 382.00) scale(0.893 1) rotate(0.03)">42</text>
<text class="tk" text-anchor="middle" transform="translate(475.88 382.00) scale(0.893 1) rotate(0.03)">44</text>
<text class="tk" text-anchor="middle" transform="translate(496.02 382.00) scale(0.893 1) rotate(0.03)">46</text>
<text class="tk" text-anchor="middle" transform="translate(516.16 382.00) scale(0.893 1) rotate(0.03)">48</text>
<text class="tk" text-anchor="middle" transform="translate(536.30 382.00) scale(0.893 1) rotate(0.03)">50</text>
<text class="tk" text-anchor="middle" transform="translate(556.44 382.00) scale(0.893 1) rotate(0.03)">52</text>
<text class="tk" text-anchor="middle" transform="translate(576.58 382.00) scale(0.893 1) rotate(0.03)">54</text>
<text class="tk" text-anchor="middle" transform="translate(596.72 382.00) scale(0.893 1) rotate(0.03)">56</text>
<text class="tk" text-anchor="middle" transform="translate(616.86 382.00) scale(0.893 1) rotate(0.03)">58</text>
<text class="tk" text-anchor="middle" transform="translate(637.00 382.00) scale(0.893 1) rotate(0.03)">60</text>
<text class="tk" text-anchor="middle" transform="translate(657.14 382.00) scale(0.893 1) rotate(0.03)">62</text>
<text class="tk" text-anchor="middle" transform="translate(677.28 382.00) scale(0.893 1) rotate(0.03)">64</text>
<text class="tk" text-anchor="middle" transform="translate(697.42 382.00) scale(0.893 1) rotate(0.03)">66</text>
<text class="tk" text-anchor="middle" transform="translate(717.56 382.00) scale(0.893 1) rotate(0.03)">68</text>
<text class="tk" text-anchor="end" transform="translate(19.50 224.90) scale(0.893 1) rotate(0.03)">0</text>
<text class="tk" text-anchor="end" transform="translate(19.50 246.60) scale(0.893 1) rotate(0.03)">5</text>
<text class="tk" text-anchor="end" transform="translate(19.50 270.20) scale(0.893 1) rotate(0.03)">10</text>
<text class="tk" text-anchor="end" transform="translate(19.50 293.80) scale(0.893 1) rotate(0.03)">15</text>
<text class="tk" text-anchor="end" transform="translate(19.50 317.40) scale(0.893 1) rotate(0.03)">20</text>
<text class="tk" text-anchor="end" transform="translate(19.50 341.00) scale(0.893 1) rotate(0.03)">25</text>
<text class="tk" text-anchor="end" transform="translate(19.50 364.60) scale(0.893 1) rotate(0.03)">30</text>
<text x="373.1" y="390.7" text-anchor="middle" transform="rotate(0.03 373 390.7)" style="font-size:4.3px;font-weight:bold;fill:#555;font-family:'Liberation Sans',sans-serif">Dive Duration (min)</text>
<text transform="translate(11.5,297) rotate(-90.03)" text-anchor="middle" style="font-size:4.15px;font-weight:bold;fill:#5a5a5a;font-family:'Liberation Sans',sans-serif">Depth (m)</text>
<polyline points="33.3,228.2 34.6,232.2 35.8,237.4 37.1,241.6 38.3,247.3 39.6,251.4 40.9,253.5 42.1,255.8 43.4,258.0 44.6,260.2 45.9,263.9 47.1,264.8 48.4,267.6 49.7,271.0 50.9,273.7 52.2,274.5 53.4,276.4 54.7,277.9 56.0,280.7 57.2,282.7 58.5,284.6 59.7,283.6 61.0,284.0 62.3,284.6 63.5,284.3 64.8,290.4 66.0,291.8 67.3,290.6 68.5,289.4 69.8,289.4 71.1,293.2 72.3,294.5 73.6,293.4 74.8,294.2 76.1,296.7 77.4,299.8 78.6,300.2 79.9,301.6 81.1,301.9 82.4,301.6 83.7,302.2 84.9,299.3 86.2,300.0 87.4,298.3 88.7,298.0 89.9,299.7 91.2,299.3 92.5,301.0 93.7,301.6 95.0,300.7 96.2,302.8 97.5,300.9 98.8,301.5 100.0,300.2 101.3,301.4 102.5,299.8 103.8,298.8 105.0,298.8 106.3,300.5 107.6,300.8 108.8,302.0 110.1,303.9 111.3,304.5 112.6,305.4 113.9,304.4 115.1,303.8 116.4,305.3 117.6,305.5 118.9,307.7 120.2,308.4 121.4,308.4 122.7,307.0 123.9,306.7 125.2,307.4 126.4,306.9 127.7,305.6 129.0,305.4 130.2,305.3 131.5,306.4 132.7,306.3 134.0,304.8 135.3,304.1 136.5,304.3 137.8,306.3 139.0,306.3 140.3,305.7 141.6,307.8 142.8,308.6 144.1,308.8 145.3,308.6 146.6,310.4 147.8,310.3 149.1,310.8 150.4,308.5 151.6,307.6 152.9,308.7 154.1,309.3 155.4,308.8 156.7,309.3 157.9,311.6 159.2,312.4 160.4,313.3 161.7,316.0 163.0,319.5 164.2,321.4 165.5,323.3 166.7,323.7 168.0,322.1 169.2,323.2 170.5,321.1 171.8,320.4 173.0,320.6 174.3,319.4 175.5,317.8 176.8,316.7 178.1,318.3 179.3,318.7 180.6,318.0 181.8,318.8 183.1,318.6 184.4,318.0 185.6,316.5 186.9,316.1 188.1,315.3 189.4,316.8 190.6,315.1 191.9,316.3 193.2,315.9 194.4,316.1 195.7,315.0 196.9,315.5 198.2,314.5 199.5,313.6 200.7,314.9 202.0,313.2 203.2,314.7 204.5,314.8 205.7,316.0 207.0,316.6 208.3,314.8 209.5,314.9 210.8,314.9 212.0,314.7 213.3,312.7 214.6,313.4 215.8,311.0 217.1,309.5 218.3,311.2 219.6,311.1 220.9,313.2 222.1,313.7 223.4,316.6 224.6,318.4 225.9,317.0 227.1,316.8 228.4,315.9 229.7,316.7 230.9,315.1 232.2,315.8 233.4,314.4 234.7,315.4 236.0,314.3 237.2,313.0 238.5,312.0 239.7,313.0 241.0,312.5 242.3,313.4 243.5,312.8 244.8,313.4 246.0,311.7 247.3,312.3 248.5,310.9 249.8,312.7 251.1,310.7 252.3,311.1 253.6,309.5 254.8,308.6 256.1,310.3 257.4,311.2 258.6,308.6 259.9,308.1 261.1,308.0 262.4,307.0 263.7,307.5 264.9,307.5 266.2,307.5 267.4,308.1 268.7,307.2 269.9,305.3 271.2,305.8 272.5,304.4 273.7,304.3 275.0,304.9 276.2,303.2 277.5,305.2 278.8,306.1 280.0,305.2 281.3,303.8 282.5,303.9 283.8,304.7 285.1,304.7 286.3,305.2 287.6,304.9 288.8,304.7 290.1,304.3 291.3,303.3 292.6,303.0 293.9,304.9 295.1,305.6 296.4,305.6 297.6,307.2 298.9,305.7 300.2,307.4 301.4,305.9 302.7,306.3 303.9,306.4 305.2,306.6 306.4,304.7 307.7,305.1 309.0,302.7 310.2,300.7 311.5,299.2 312.7,299.6 314.0,297.3 315.3,297.9 316.5,298.5 317.8,298.8 319.0,298.2 320.3,297.6 321.6,296.9 322.8,296.3 324.1,296.8 325.3,298.6 326.6,299.6 327.8,298.7 329.1,300.6 330.4,299.2 331.6,300.5 332.9,298.2 334.1,295.9 335.4,295.6 336.7,293.2 337.9,292.8 339.2,292.3 340.4,291.2 341.7,291.1 343.0,293.0 344.2,294.3 345.5,294.9 346.7,295.1 348.0,295.0 349.2,292.5 350.5,292.7 351.8,294.5 353.0,295.1 354.3,295.5 355.5,293.7 356.8,292.2 358.1,291.4 359.3,291.2 360.6,290.5 361.8,291.2 363.1,290.8 364.4,290.8 365.6,290.4 366.9,291.5 368.1,291.6 369.4,290.8 370.6,290.1 371.9,288.6 373.2,290.1 374.4,290.5 375.7,290.0 376.9,292.1 378.2,292.4 379.5,291.8 380.7,290.8 382.0,291.7 383.2,290.3 384.5,289.7 385.8,291.3 387.0,290.1 388.3,290.8 389.5,289.6 390.8,288.3 392.0,287.2 393.3,286.4 394.6,284.4 395.8,285.6 397.1,284.4 398.3,286.5 399.6,287.7 400.9,288.0 402.1,290.0 403.4,290.1 404.6,288.7 405.9,289.2 407.1,288.8 408.4,286.1 409.7,284.6 410.9,284.9 412.2,285.4 413.4,286.0 414.7,286.9 416.0,287.1 417.2,285.6 418.5,285.7 419.7,285.2 421.0,285.4 422.3,284.2 423.5,284.1 424.8,284.7 426.0,285.9 427.3,286.6 428.5,286.8 429.8,285.9 431.1,284.1 432.3,285.8 433.6,285.5 434.8,284.9 436.1,284.8 437.4,284.5 438.6,285.2 439.9,286.3 441.1,285.7 442.4,285.4 443.7,285.8 444.9,283.8 446.2,283.1 447.4,281.2 448.7,279.7 449.9,280.7 451.2,279.2 452.5,279.0 453.7,278.2 455.0,278.1 456.2,279.0 457.5,278.4 458.8,278.1 460.0,278.7 461.3,278.2 462.5,279.2 463.8,278.5 465.1,277.7 466.3,276.9 467.6,277.4 468.8,278.3 470.1,276.2 471.3,277.1 472.6,275.8 473.9,275.8 475.1,274.8 476.4,276.0 477.6,277.1 478.9,277.1 480.2,277.6 481.4,278.8 482.7,279.2 483.9,279.2 485.2,278.6 486.5,279.7 487.7,280.9 489.0,279.4 490.2,279.9 491.5,279.4 492.7,278.9 494.0,279.6 495.3,279.2 496.5,278.5 497.8,275.7 499.0,275.0 500.3,274.5 501.6,274.6 502.8,275.2 504.1,274.5 505.3,275.2 506.6,275.5 507.8,274.5 509.1,273.7 510.4,275.0 511.6,274.2 512.9,274.7 514.1,275.5 515.4,274.6 516.7,274.7 517.9,275.9 519.2,275.1 520.4,273.4 521.7,274.6 523.0,273.3 524.2,273.7 525.5,272.3 526.7,272.2 528.0,272.2 529.2,271.5 530.5,271.8 531.8,270.5 533.0,270.5 534.3,270.7 535.5,270.5 536.8,270.3 538.1,269.3 539.3,269.8 540.6,269.8 541.8,268.8 543.1,267.9 544.4,268.0 545.6,267.7 546.9,268.2 548.1,269.3 549.4,267.7 550.6,267.8 551.9,266.9 553.2,264.1 554.4,262.9 555.7,263.4 556.9,262.8 558.2,263.1 559.5,261.8 560.7,263.6 562.0,262.1 563.2,261.1 564.5,262.4 565.8,263.3 567.0,261.9 568.3,261.9 569.5,260.7 570.8,258.9 572.0,257.8 573.3,258.8 574.6,259.2 575.8,258.0 577.1,258.7 578.3,257.4 579.6,258.4 580.9,258.5 582.1,258.6 583.4,259.0 584.6,256.7 585.9,256.1 587.1,257.3 588.4,256.4 589.7,255.7 590.9,255.5 592.2,254.4 593.4,254.9 594.7,256.4 596.0,256.0 597.2,255.7 598.5,253.0 599.7,252.8 601.0,251.6 602.3,249.9 603.5,250.0 604.8,249.1 606.0,249.3 607.3,250.6 608.5,249.5 609.8,249.7 611.1,250.0 612.3,250.0 613.6,251.0 614.8,249.4 616.1,249.3 617.4,248.6 618.6,249.5 619.9,249.3 621.1,248.2 622.4,247.8 623.7,248.8 624.9,251.3 626.2,250.0 627.4,250.5 628.7,251.2 629.9,251.3 631.2,250.5 632.5,249.1 633.7,248.4 635.0,248.0 636.2,247.8 637.5,248.3 638.8,246.1 640.0,246.3 641.3,244.4 642.5,244.6 643.8,244.6 645.1,242.6 646.3,244.3 647.6,245.3 648.8,243.7 650.1,244.8 651.3,246.5 652.6,247.2 653.9,245.7 655.1,244.9 656.4,244.1 657.6,246.4 658.9,247.3 660.2,245.4 661.4,245.3 662.7,244.1 663.9,243.5 665.2,241.6 666.5,242.0 667.7,239.4 669.0,237.8 670.2,236.1 671.5,233.8 672.7,229.6 674.0,227.7 675.3,225.5 675.5,226.0" fill="none" stroke="#a0cbe8" stroke-width="1.5" stroke-linejoin="round" stroke-linecap="round"/>
<polyline points="33.3,228.4 34.6,237.8 35.8,249.2 37.1,259.2 38.3,267.8 39.6,276.5 40.9,282.2 42.1,287.1 43.4,291.7 44.6,297.0 45.9,299.1 47.1,300.9 48.4,303.9 49.7,310.7 50.9,314.2 52.2,312.7 53.4,311.1 54.7,312.3 56.0,318.0 57.2,319.5 58.5,318.8 59.7,318.6 61.0,320.1 62.3,321.8 63.5,321.4 64.8,322.7 66.0,323.8 67.3,322.1 68.5,321.0 69.8,321.7 71.1,323.7 72.3,322.7 73.6,323.8 74.8,326.0 76.1,324.3 77.4,321.0 78.6,320.3 79.9,320.6 81.1,319.4 82.4,320.0 83.7,320.9 84.9,320.0 86.2,322.2 87.4,321.1 88.7,320.7 89.9,321.8 91.2,320.9 92.5,320.7 93.7,319.0 95.0,318.0 96.2,317.2 97.5,317.3 98.8,317.7 100.0,318.1 101.3,316.8 102.5,317.9 103.8,315.7 105.0,316.6 106.3,316.7 107.6,315.3 108.8,315.4 110.1,316.7 111.3,315.2 112.6,315.4 113.9,316.1 115.1,315.3 116.4,316.2 117.6,315.4 118.9,315.6 120.2,315.5 121.4,316.7 122.7,316.8 123.9,318.1 125.2,318.6 126.4,319.1 127.7,317.2 129.0,317.7 130.2,319.3 131.5,318.8 132.7,318.7 134.0,319.0 135.3,317.3 136.5,319.0 137.8,318.1 139.0,318.1 140.3,319.1 141.6,316.1 142.8,316.3 144.1,314.3 145.3,315.1 146.6,314.0 147.8,314.5 149.1,313.6 150.4,313.6 151.6,314.5 152.9,314.6 154.1,315.0 155.4,314.0 156.7,315.4 157.9,316.1 159.2,315.4 160.4,316.1 161.7,316.1 163.0,315.9 164.2,316.4 165.5,314.8 166.7,316.1 168.0,316.8 169.2,314.5 170.5,313.5 171.8,314.4 173.0,314.8 174.3,315.3 175.5,315.7 176.8,315.5 178.1,315.7 179.3,315.5 180.6,315.5 181.8,317.1 183.1,317.4 184.4,318.9 185.6,319.5 186.9,319.8 188.1,318.2 189.4,318.5 190.6,317.8 191.9,316.3 193.2,316.1 194.4,315.8 195.7,317.0 196.9,318.4 198.2,317.9 199.5,319.5 200.7,319.5 202.0,319.3 203.2,319.7 204.5,322.3 205.7,323.4 207.0,325.5 208.3,326.9 209.5,328.7 210.8,329.5 212.0,330.1 213.3,330.1 214.6,327.8 215.8,327.7 217.1,327.3 218.3,326.6 219.6,326.8 220.9,326.8 222.1,325.5 223.4,325.9 224.6,325.4 225.9,323.0 227.1,323.4 228.4,323.2 229.7,322.1 230.9,322.4 232.2,321.0 233.4,321.4 234.7,322.4 236.0,323.0 237.2,323.6 238.5,324.4 239.7,324.9 241.0,324.4 242.3,323.3 243.5,322.1 244.8,321.2 246.0,320.4 247.3,319.5 248.5,319.4 249.8,319.9 251.1,319.5 252.3,318.7 253.6,319.3 254.8,318.3 256.1,318.3 257.4,316.5 258.6,316.9 259.9,316.1 261.1,317.4 262.4,315.4 263.7,314.9 264.9,315.9 266.2,315.5 267.4,315.6 268.7,316.8 269.9,316.4 271.2,315.1 272.5,314.9 273.7,316.5 275.0,315.5 276.2,317.0 277.5,315.2 278.8,313.6 280.0,314.5 281.3,314.0 282.5,312.7 283.8,313.6 285.1,315.1 286.3,317.2 287.6,319.0 288.8,318.6 290.1,319.4 291.3,317.3 292.6,318.1 293.9,317.7 295.1,317.9 296.4,319.5 297.6,319.2 298.9,318.7 300.2,318.7 301.4,320.0 302.7,317.9 303.9,317.6 305.2,316.9 306.4,317.9 307.7,318.9 309.0,317.1 310.2,317.6 311.5,317.3 312.7,318.2 314.0,316.3 315.3,316.9 316.5,315.9 317.8,316.5 319.0,316.8 320.3,315.4 321.6,315.3 322.8,314.6 324.1,316.2 325.3,316.2 326.6,314.1 327.8,313.6 329.1,312.2 330.4,311.0 331.6,310.4 332.9,300.9 334.1,290.9 335.4,290.6 336.7,289.0 337.9,289.2 339.2,290.7 340.4,292.2 341.7,291.9 343.0,293.7 344.2,294.3 345.5,292.9 346.7,292.3 348.0,292.2 349.2,294.0 350.5,294.9 351.8,293.5 353.0,294.9 354.3,293.7 355.5,294.7 356.8,292.7 358.1,292.3 359.3,291.4 360.6,290.6 361.8,289.0 363.1,285.9 364.4,285.2 365.6,283.0 366.9,281.0 368.1,278.3 369.4,274.9 370.6,272.7 371.9,272.2 373.2,270.9 374.4,271.3 375.7,274.1 376.9,274.8 378.2,276.6 379.5,277.5 380.7,277.5 382.0,280.1 383.2,279.4 384.5,280.7 385.8,279.5 387.0,280.0 388.3,279.8 389.5,280.1 390.8,279.8 392.0,277.7 393.3,278.8 394.6,279.2 395.8,278.5 397.1,278.9 398.3,278.8 399.6,280.0 400.9,278.3 402.1,278.9 403.4,278.8 404.6,277.2 405.9,276.3 407.1,276.7 408.4,275.7 409.7,274.2 410.9,273.3 412.2,274.3 413.4,274.8 414.7,276.6 416.0,278.7 417.2,278.9 418.5,279.9 419.7,278.1 421.0,279.1 422.3,277.1 423.5,276.8 424.8,274.2 426.0,272.6 427.3,272.2 428.5,273.6 429.8,274.2 431.1,275.2 432.3,273.7 433.6,274.6 434.8,274.6 436.1,275.6 437.4,275.1 438.6,274.9 439.9,274.5 441.1,274.8 442.4,275.8 443.7,276.9 444.9,275.9 446.2,275.0 447.4,274.2 448.7,271.5 449.9,270.1 451.2,271.2 452.5,272.0 453.7,271.5 455.0,272.4 456.2,274.1 457.5,274.0 458.8,274.0 460.0,275.6 461.3,274.6 462.5,275.5 463.8,275.0 465.1,272.9 466.3,272.3 467.6,270.1 468.8,268.9 470.1,270.6 471.3,270.3 472.6,269.1 473.9,271.4 475.1,270.0 476.4,269.3 477.6,270.0 478.9,270.2 480.2,268.7 481.4,269.6 482.7,268.1 483.9,267.4 485.2,267.5 486.5,268.2 487.7,266.1 489.0,265.9 490.2,267.5 491.5,267.5 492.7,266.1 494.0,265.1 495.3,265.6 496.5,264.9 497.8,264.5 499.0,264.8 500.3,265.5 501.6,266.3 502.8,265.6 504.1,267.2 505.3,267.1 506.6,266.4 507.8,267.7 509.1,265.9 510.4,264.8 511.6,262.9 512.9,261.0 514.1,259.7 515.4,260.5 516.7,259.8 517.9,259.5 519.2,261.3 520.4,263.0 521.7,263.0 523.0,262.9 524.2,263.0 525.5,261.8 526.7,262.5 528.0,263.2 529.2,263.4 530.5,263.3 531.8,264.1 533.0,262.0 534.3,262.5 535.5,259.7 536.8,259.0 538.1,255.6 539.3,255.3 540.6,254.9 541.8,255.4 543.1,256.7 544.4,256.8 545.6,259.5 546.9,260.2 548.1,258.9 549.4,258.6 550.6,258.6 551.9,257.8 553.2,257.9 554.4,255.7 555.7,255.7 556.9,253.8 558.2,253.2 559.5,253.4 560.7,253.8 562.0,251.8 563.2,252.1 564.5,252.5 565.8,253.9 567.0,254.4 568.3,253.5 569.5,254.0 570.8,255.1 572.0,255.8 573.3,256.2 574.6,254.7 575.8,254.5 577.1,253.3 578.3,252.0 579.6,249.5 580.9,249.6 582.1,249.1 583.4,248.6 584.6,248.2 585.9,250.4 587.1,251.4 588.4,251.2 589.7,249.6 590.9,249.2 592.2,248.3 593.4,246.7 594.7,246.1 596.0,245.9 597.2,244.5 598.5,241.6 599.7,240.1 601.0,238.2 602.3,237.9 603.5,233.9 604.8,231.9 606.0,229.0 607.0,225.0" fill="none" stroke="#4e79a7" stroke-width="1.5" stroke-linejoin="round" stroke-linecap="round"/>
<polyline points="33.3,228.5 34.6,233.0 35.8,238.6 37.1,242.6 38.3,246.9 39.6,251.7 40.9,256.8 42.1,261.3 43.4,265.1 44.6,266.2 45.9,269.6 47.1,277.2 48.4,282.8 49.7,285.3 50.9,290.0 52.2,291.8 53.4,291.1 54.7,295.4 56.0,302.2 57.2,306.0 58.5,307.6 59.7,307.6 61.0,308.6 62.3,306.9 63.5,308.5 64.8,309.4 66.0,309.7 67.3,311.6 68.5,313.5 69.8,318.5 71.1,323.0 72.3,324.3 73.6,324.8 74.8,326.5 76.1,326.7 77.4,325.5 78.6,325.3 79.9,326.1 81.1,327.1 82.4,330.0 83.7,332.6 84.9,335.9 86.2,339.0 87.4,341.2 88.7,343.1 89.9,343.6 91.2,342.7 92.5,344.2 93.7,345.1 95.0,345.8 96.2,346.7 97.5,347.7 98.8,349.5 100.0,351.0 101.3,351.1 102.5,352.9 103.8,354.9 105.0,355.8 106.3,356.3 107.6,355.3 108.8,355.5 110.1,353.2 111.3,355.7 112.6,356.9 113.9,356.6 115.1,356.8 116.4,354.9 117.6,354.3 118.9,354.3 120.2,354.8 121.4,356.8 122.7,358.2 123.9,359.3 125.2,358.1 126.4,356.8 127.7,354.9 129.0,351.8 130.2,351.6 131.5,352.1 132.7,350.7 134.0,351.8 135.3,349.9 136.5,351.6 137.8,349.9 139.0,349.6 140.3,350.2 141.6,348.6 142.8,347.1 144.1,346.7 145.3,348.8 146.6,347.2 147.8,348.5 149.1,347.7 150.4,347.7 151.6,346.7 152.9,345.2 154.1,344.4 155.4,343.3 156.7,343.3 157.9,344.6 159.2,344.1 160.4,342.6 161.7,341.8 163.0,341.4 164.2,342.2 165.5,343.3 166.7,344.3 168.0,342.3 169.2,341.7 170.5,341.6 171.8,340.5 173.0,338.7 174.3,338.5 175.5,336.6 176.8,336.9 178.1,335.7 179.3,334.1 180.6,332.5 181.8,332.5 183.1,331.9 184.4,332.5 185.6,332.3 186.9,331.3 188.1,330.4 189.4,330.5 190.6,327.5 191.9,325.5 193.2,326.2 194.4,324.8 195.7,325.1 196.9,325.4 198.2,323.0 199.5,324.1 200.7,324.0 202.0,323.3 203.2,323.7 204.5,321.5 205.7,320.5 207.0,320.6 208.3,321.2 209.5,320.5 210.8,320.6 212.0,320.0 213.3,320.1 214.6,320.1 215.8,320.3 217.1,319.6 218.3,321.2 219.6,319.6 220.9,320.1 222.1,318.9 223.4,319.5 224.6,317.5 225.9,318.0 227.1,316.1 228.4,316.3 229.7,315.2 230.9,316.7 232.2,315.8 233.4,314.8 234.7,314.4 236.0,313.9 237.2,313.0 238.5,314.5 239.7,314.0 241.0,314.4 242.3,313.1 243.5,312.8 244.8,310.5 246.0,309.9 247.3,310.3 248.5,308.8 249.8,307.6 251.1,307.5 252.3,306.7 253.6,307.0 254.8,307.7 256.1,307.6 257.4,306.7 258.6,306.6 259.9,308.6 261.1,307.7 262.4,310.1 263.7,310.5 264.9,311.0 266.2,309.6 267.4,310.9 268.7,309.1 269.9,306.4 271.2,306.5 272.5,304.1 273.7,302.6 275.0,303.7 276.2,304.7 277.5,304.0 278.8,302.7 280.0,302.3 281.3,301.9 282.5,303.2 283.8,302.7 285.1,304.4 286.3,305.4 287.6,305.1 288.8,306.4 290.1,305.4 291.3,305.0 292.6,303.0 293.9,304.3 295.1,303.8 296.4,303.5 297.6,302.7 298.9,302.4 300.2,301.3 301.4,298.8 302.7,297.4 303.9,297.6 305.2,297.6 306.4,297.8 307.7,297.5 309.0,296.3 310.2,294.3 311.5,294.7 312.7,293.2 314.0,293.3 315.3,294.3 316.5,293.8 317.8,294.5 319.0,294.2 320.3,294.1 321.6,293.0 322.8,293.9 324.1,293.7 325.3,292.1 326.6,291.2 327.8,291.7 329.1,290.2 330.4,291.2 331.6,291.9 332.9,291.7 334.1,290.8 335.4,291.3 336.7,289.5 337.9,289.1 339.2,288.0 340.4,289.0 341.7,287.8 343.0,287.9 344.2,288.8 345.5,288.1 346.7,288.2 348.0,287.2 349.2,287.4 350.5,288.1 351.8,288.7 353.0,288.0 354.3,289.1 355.5,290.0 356.8,289.1 358.1,289.3 359.3,289.6 360.6,287.9 361.8,289.3 363.1,287.7 364.4,287.4 365.6,288.1 366.9,287.8 368.1,287.7 369.4,287.3 370.6,285.7 371.9,287.1 373.2,286.9 374.4,287.6 375.7,287.0 376.9,287.7 378.2,286.8 379.5,285.5 380.7,285.1 382.0,286.9 383.2,287.2 384.5,287.4 385.8,285.6 387.0,285.6 388.3,286.4 389.5,286.4 390.8,286.2 392.0,283.7 393.3,282.6 394.6,283.3 395.8,282.6 397.1,283.7 398.3,285.6 399.6,284.9 400.9,285.5 402.1,286.6 403.4,286.5 404.6,287.7 405.9,285.3 407.1,283.8 408.4,284.1 409.7,281.5 410.9,280.7 412.2,281.0 413.4,281.2 414.7,282.7 416.0,283.5 417.2,283.2 418.5,284.2 419.7,284.1 421.0,282.5 422.3,283.5 423.5,281.7 424.8,281.9 426.0,281.1 427.3,281.1 428.5,280.2 429.8,281.9 431.1,281.0 432.3,281.8 433.6,282.7 434.8,283.0 436.1,283.0 437.4,282.3 438.6,281.8 439.9,280.6 441.1,278.2 442.4,277.0 443.7,277.4 444.9,277.8 446.2,278.1 447.4,281.0 448.7,281.4 449.9,281.6 451.2,281.9 452.5,282.5 453.7,283.0 455.0,281.6 456.2,282.0 457.5,283.1 458.8,283.1 460.0,280.9 461.3,281.9 462.5,279.3 463.8,276.6 465.1,276.6 466.3,275.2 467.6,276.1 468.8,275.4 470.1,275.5 471.3,276.3 472.6,274.7 473.9,275.8 475.1,276.1 476.4,277.3 477.6,276.8 478.9,277.7 480.2,278.9 481.4,278.7 482.7,280.1 483.9,280.0 485.2,280.1 486.5,279.0 487.7,279.7 489.0,280.0 490.2,279.3 491.5,278.3 492.7,277.8 494.0,276.8 495.3,275.5 496.5,275.3 497.8,275.1 499.0,275.8 500.3,275.4 501.6,274.7 502.8,274.9 504.1,275.9 505.3,276.3 506.6,275.4 507.8,274.8 509.1,274.1 510.4,273.8 511.6,272.7 512.9,271.1 514.1,270.2 515.4,270.9 516.7,271.5 517.9,269.4 519.2,269.5 520.4,271.9 521.7,272.6 523.0,272.4 524.2,272.1 525.5,272.0 526.7,270.5 528.0,270.2 529.2,270.1 530.5,269.7 531.8,268.9 533.0,268.2 534.3,267.5 535.5,266.0 536.8,265.1 538.1,266.2 539.3,267.1 540.6,267.4 541.8,267.4 543.1,266.3 544.4,267.1 545.6,268.5 546.9,267.8 548.1,268.2 549.4,269.6 550.6,267.4 551.9,265.9 553.2,264.4 554.4,263.7 555.7,263.0 556.9,263.8 558.2,263.1 559.5,263.2 560.7,261.8 562.0,261.4 563.2,262.7 564.5,262.4 565.8,261.4 567.0,261.9 568.3,259.8 569.5,259.1 570.8,259.7 572.0,258.8 573.3,260.0 574.6,259.0 575.8,259.2 577.1,258.8 578.3,258.0 579.6,257.7 580.9,257.0 582.1,255.2 583.4,254.1 584.6,255.6 585.9,254.8 587.1,255.4 588.4,254.1 589.7,252.2 590.9,253.0 592.2,253.0 593.4,252.6 594.7,251.4 596.0,251.7 597.2,250.4 598.5,249.7 599.7,246.8 601.0,246.4 602.3,245.5 603.5,243.0 604.8,242.1 606.0,241.7 607.3,240.4 608.5,239.3 609.8,238.6 611.1,239.1 612.3,236.9 613.6,236.5 614.8,234.3 616.1,232.8 617.4,231.8 618.6,232.3 619.9,231.2 621.1,228.8 622.0,226.0" fill="none" stroke="#d7b5a6" stroke-width="1.5" stroke-linejoin="round" stroke-linecap="round"/>
<polyline points="33.3,229.2 34.6,233.7 35.8,236.6 37.1,239.4 38.3,243.7 39.6,247.7 40.9,251.3 42.1,255.9 43.4,256.3 44.6,259.0 45.9,261.2 47.1,262.6 48.4,263.8 49.7,265.3 50.9,265.7 52.2,267.7 53.4,268.4 54.7,269.5 56.0,271.5 57.2,271.9 58.5,274.3 59.7,275.2 61.0,276.4 62.3,277.9 63.5,277.3 64.8,277.7 66.0,280.1 67.3,279.7 68.5,281.3 69.8,280.9 71.1,283.2 72.3,283.5 73.6,283.3 74.8,282.9 76.1,282.7 77.4,283.3 78.6,281.7 79.9,283.8 81.1,285.1 82.4,283.9 83.7,282.7 84.9,282.8 86.2,282.1 87.4,280.6 88.7,279.4 89.9,279.5 91.2,281.7 92.5,282.1 93.7,284.0 95.0,284.1 96.2,285.0 97.5,285.3 98.8,284.8 100.0,284.7 101.3,283.5 102.5,282.6 103.8,283.3 105.0,283.9 106.3,283.6 107.6,283.6 108.8,285.8 110.1,285.6 111.3,286.2 112.6,287.8 113.9,287.9 115.1,289.2 116.4,290.0 117.6,288.8 118.9,288.5 120.2,289.4 121.4,289.7 122.7,289.6 123.9,290.1 125.2,290.9 126.4,289.7 127.7,287.6 129.0,285.9 130.2,286.5 131.5,286.1 132.7,284.2 134.0,282.8 135.3,282.5 136.5,281.4 137.8,280.5 139.0,279.4 140.3,280.7 141.6,281.5 142.8,281.3 144.1,281.3 145.3,283.4 146.6,284.2 147.8,282.7 149.1,280.7 150.4,281.7 151.6,279.9 152.9,278.4 154.1,280.2 155.4,279.5 156.7,279.9 157.9,281.3 159.2,280.5 160.4,279.0 161.7,279.7 163.0,279.1 164.2,277.2 165.5,279.0 166.7,279.4 168.0,278.2 169.2,279.1 170.5,283.1 171.8,283.8 173.0,286.5 174.3,289.1 175.5,289.1 176.8,288.9 178.1,288.9 179.3,290.3 180.6,291.5 181.8,291.8 183.1,290.9 184.4,290.7 185.6,291.5 186.9,291.8 188.1,291.7 189.4,291.4 190.6,291.1 191.9,291.9 193.2,293.1 194.4,293.5 195.7,293.2 196.9,293.5 198.2,292.5 199.5,291.9 200.7,293.1 202.0,293.1 203.2,293.0 204.5,294.4 205.7,294.5 207.0,292.5 208.3,290.4 209.5,291.5 210.8,291.5 212.0,291.3 213.3,289.2 214.6,286.2 215.8,285.0 217.1,284.4 218.3,282.1 219.6,282.0 220.9,280.7 222.1,280.3 223.4,279.6 224.6,281.2 225.9,281.3 227.1,283.8 228.4,285.1 229.7,287.1 230.9,287.8 232.2,289.8 233.4,290.7 234.7,291.1 236.0,292.6 237.2,293.7 238.5,293.9 239.7,293.8 241.0,294.4 242.3,292.9 243.5,291.6 244.8,291.3 246.0,292.2 247.3,292.9 248.5,293.6 249.8,294.1 251.1,292.9 252.3,293.7 253.6,293.4 254.8,294.5 256.1,294.9 257.4,294.6 258.6,295.3 259.9,294.1 261.1,294.0 262.4,292.3 263.7,291.7 264.9,292.9 266.2,294.0 267.4,292.1 268.7,292.0 269.9,290.7 271.2,291.1 272.5,291.2 273.7,292.5 275.0,290.9 276.2,289.4 277.5,287.7 278.8,287.5 280.0,285.3 281.3,284.7 282.5,284.1 283.8,283.4 285.1,281.5 286.3,279.5 287.6,279.2 288.8,279.1 290.1,278.2 291.3,278.2 292.6,279.0 293.9,279.3 295.1,278.9 296.4,277.9 297.6,275.4 298.9,276.7 300.2,275.2 301.4,276.7 302.7,276.8 303.9,277.1 305.2,276.8 306.4,278.6 307.7,280.3 309.0,281.3 310.2,281.4 311.5,283.2 312.7,283.8 314.0,283.9 315.3,284.4 316.5,285.1 317.8,287.1 319.0,286.9 320.3,285.8 321.6,284.6 322.8,283.8 324.1,285.7 325.3,284.6 326.6,283.9 327.8,283.6 329.1,283.1 330.4,282.8 331.6,283.3 332.9,283.1 334.1,283.2 335.4,282.9 336.7,281.6 337.9,281.9 339.2,278.9 340.4,277.3 341.7,278.4 343.0,278.2 344.2,276.8 345.5,276.6 346.7,274.5 348.0,272.9 349.2,272.2 350.5,273.1 351.8,272.7 353.0,272.5 354.3,270.3 355.5,270.7 356.8,270.1 358.1,270.7 359.3,271.0 360.6,270.8 361.8,268.7 363.1,268.6 364.4,268.4 365.6,267.0 366.9,268.7 368.1,268.8 369.4,267.6 370.6,265.4 371.9,266.9 373.2,267.0 374.4,264.8 375.7,264.6 376.9,264.5 378.2,266.4 379.5,265.6 380.7,263.9 382.0,263.2 383.2,264.2 384.5,262.8 385.8,262.1 387.0,261.3 388.3,259.7 389.5,260.3 390.8,259.5 392.0,259.0 393.3,259.3 394.6,259.1 395.8,258.5 397.1,257.7 398.3,258.0 399.6,257.8 400.9,254.9 402.1,253.8 403.4,253.4 404.6,252.6 405.9,252.7 407.1,251.7 408.4,253.3 409.7,251.8 410.9,251.7 412.2,250.7 413.4,251.4 414.7,249.2 416.0,250.7 417.2,248.7 418.5,250.5 419.7,249.4 421.0,250.0 422.3,249.3 423.5,250.1 424.8,250.1 426.0,250.3 427.3,250.4 428.5,251.5 429.8,249.8 431.1,251.3 432.3,251.2 433.6,252.8 434.8,254.9 436.1,255.4 437.4,256.7 438.6,257.5 439.9,256.0 441.1,256.6 442.4,257.3 443.7,256.1 444.9,256.3 446.2,255.6 447.4,254.6 448.7,252.9 449.9,253.6 451.2,253.3 452.5,252.3 453.7,253.5 455.0,251.3 456.2,250.2 457.5,251.2 458.8,252.0 460.0,250.2 461.3,250.6 462.5,249.4 463.8,250.2 465.1,250.1 466.3,248.3 467.6,249.3 468.8,249.7 470.1,249.8 471.3,247.5 472.6,248.3 473.9,246.8 475.1,246.6 476.4,247.0 477.6,246.9 478.9,246.7 480.2,248.4 481.4,246.7 482.7,247.7 483.9,246.6 485.2,247.0 486.5,246.4 487.7,246.3 489.0,247.2 490.2,248.6 491.5,248.7 492.7,248.5 494.0,248.5 495.3,248.7 496.5,249.7 497.8,249.5 499.0,250.5 500.3,248.7 501.6,247.9 502.8,247.5 504.1,249.5 505.3,248.6 506.6,249.7 507.8,249.0 509.1,249.4 510.4,249.5 511.6,248.8 512.9,250.4 514.1,250.2 515.4,249.8 516.7,250.6 517.9,249.7 519.2,248.1 520.4,247.0 521.7,247.8 523.0,248.0 524.2,248.3 525.5,247.8 526.7,246.0 528.0,244.4 529.2,242.5 530.5,243.1 531.8,242.4 533.0,240.3 534.3,239.5 535.5,239.1 536.8,238.3 538.1,238.9 539.3,239.9 540.6,238.3 541.8,238.0 543.1,238.0 544.4,237.6 545.6,238.0 546.9,238.7 548.1,240.8 549.4,241.3 550.6,240.0 551.9,237.3 553.2,234.9 554.4,229.7 555.1,228.2" fill="none" stroke="#9d7660" stroke-width="1.5" stroke-linejoin="round" stroke-linecap="round"/>
<polyline points="33.3,229.5 34.6,233.9 35.8,238.5 37.1,243.8 38.3,247.4 39.6,249.9 40.9,252.9 42.1,256.9 43.4,262.0 44.6,266.4 45.9,268.0 47.1,268.0 48.4,269.6 49.7,272.0 50.9,275.3 52.2,277.7 53.4,282.2 54.7,283.7 56.0,281.0 57.2,281.0 58.5,279.5 59.7,279.8 61.0,281.1 62.3,281.3 63.5,281.6 64.8,286.8 66.0,289.9 67.3,287.7 68.5,286.1 69.8,286.8 71.1,286.7 72.3,285.9 73.6,286.7 74.8,289.6 76.1,290.0 77.4,288.2 78.6,289.9 79.9,291.3 81.1,291.4 82.4,291.7 83.7,291.9 84.9,290.4 86.2,291.0 87.4,289.8 88.7,291.0 89.9,291.6 91.2,292.2 92.5,292.5 93.7,293.0 95.0,290.8 96.2,291.9 97.5,292.7 98.8,292.0 100.0,291.7 101.3,291.1 102.5,291.5 103.8,291.4 105.0,292.9 106.3,292.5 107.6,291.9 108.8,293.7 110.1,291.9 111.3,292.3 112.6,290.7 113.9,291.7 115.1,291.2 116.4,290.5 117.6,290.5 118.9,290.7 120.2,292.1 121.4,292.5 122.7,291.8 123.9,291.8 125.2,291.0 126.4,289.6 127.7,287.5 129.0,287.8 130.2,288.6 131.5,288.7 132.7,286.8 134.0,286.2 135.3,286.4 136.5,284.0 137.8,283.1 139.0,282.6 140.3,283.3 141.6,282.1 142.8,281.3 144.1,283.1 145.3,283.3 146.6,284.6 147.8,285.6 149.1,286.8 150.4,286.4 151.6,286.2 152.9,287.9 154.1,287.6 155.4,287.1 156.7,286.7 157.9,288.3 159.2,288.1 160.4,288.3 161.7,288.3 163.0,286.0 164.2,286.6 165.5,285.6 166.7,284.9 168.0,286.7 169.2,286.3 170.5,285.9 171.8,287.0 173.0,287.0 174.3,288.0 175.5,289.1 176.8,289.3 178.1,290.9 179.3,289.6 180.6,290.6 181.8,289.7 183.1,289.4 184.4,288.9 185.6,288.6 186.9,288.8 188.1,289.5 189.4,290.9 190.6,290.8 191.9,291.0 193.2,290.9 194.4,289.1 195.7,288.7 196.9,289.1 198.2,288.8 199.5,288.0 200.7,286.9 202.0,286.3 203.2,284.6 204.5,285.0 205.7,284.1 207.0,282.9 208.3,282.2 209.5,280.9 210.8,281.8 212.0,282.0 213.3,280.6 214.6,279.5 215.8,280.6 217.1,279.1 218.3,277.7 219.6,279.4 220.9,279.9 222.1,278.9 223.4,280.3 224.6,279.6 225.9,280.1 227.1,281.3 228.4,283.8 229.7,284.1 230.9,284.7 232.2,284.1 233.4,285.9 234.7,287.3 236.0,286.8 237.2,287.8 238.5,288.2 239.7,285.4 241.0,282.9 242.3,282.6 243.5,280.2 244.8,278.5 246.0,277.5 247.3,276.4 248.5,274.5 249.8,273.0 251.1,272.5 252.3,272.0 253.6,271.6 254.8,272.1 256.1,272.3 257.4,273.2 258.6,271.6 259.9,272.2 261.1,272.7 262.4,273.9 263.7,273.0 264.9,273.7 266.2,273.0 267.4,272.3 268.7,273.5 269.9,274.4 271.2,273.8 272.5,274.5 273.7,274.6 275.0,274.6 276.2,272.5 277.5,272.5 278.8,271.7 280.0,273.1 281.3,273.9 282.5,274.3 283.8,274.9 285.1,273.3 286.3,271.7 287.6,271.2 288.8,273.0 290.1,274.5 291.3,273.9 292.6,276.3 293.9,277.7 295.1,279.0 296.4,279.8 297.6,279.2 298.9,278.1 300.2,278.3 301.4,280.0 302.7,280.0 303.9,281.7 305.2,281.4 306.4,280.0 307.7,280.1 309.0,280.5 310.2,280.6 311.5,280.6 312.7,281.7 314.0,282.2 315.3,281.7 316.5,280.7 317.8,281.1 319.0,283.4 320.3,284.3 321.6,284.2 322.8,284.2 324.1,285.2 325.3,285.9 326.6,286.8 327.8,288.2 329.1,288.2 330.4,286.6 331.6,286.0 332.9,285.5 334.1,285.8 335.4,287.7 336.7,286.5 337.9,285.7 339.2,284.9 340.4,284.2 341.7,286.1 343.0,286.4 344.2,286.9 345.5,287.8 346.7,286.4 348.0,286.2 349.2,284.7 350.5,284.7 351.8,283.2 353.0,282.5 354.3,281.2 355.5,279.9 356.8,279.8 358.1,281.3 359.3,281.1 360.6,280.8 361.8,280.7 363.1,281.0 364.4,282.4 365.6,283.9 366.9,283.7 368.1,284.8 369.4,285.1 370.6,287.1 371.9,287.5 373.2,287.2 374.4,285.5 375.7,285.0 376.9,284.1 378.2,282.9 379.5,282.1 380.7,284.0 382.0,282.9 383.2,281.7 384.5,280.3 385.8,281.9 387.0,282.2 388.3,280.5 389.5,281.2 390.8,281.5 392.0,281.4 393.3,280.2 394.6,280.5 395.8,282.1 397.1,282.6 398.3,281.1 399.6,281.0 400.9,281.4 402.1,282.2 403.4,283.9 404.6,283.3 405.9,284.8 407.1,285.0 408.4,285.2 409.7,285.4 410.9,285.6 412.2,284.4 413.4,283.9 414.7,282.9 416.0,282.7 417.2,282.4 418.5,283.5 419.7,281.3 421.0,282.6 422.3,282.4 423.5,280.8 424.8,281.6 426.0,282.2 427.3,282.6 428.5,282.4 429.8,281.5 431.1,280.3 432.3,280.2 433.6,280.7 434.8,282.2 436.1,280.6 437.4,280.1 438.6,279.2 439.9,280.8 441.1,280.4 442.4,280.2 443.7,280.9 444.9,281.2 446.2,279.0 447.4,278.7 448.7,278.2 449.9,276.7 451.2,277.4 452.5,278.1 453.7,276.8 455.0,278.8 456.2,278.0 457.5,278.0 458.8,280.2 460.0,279.2 461.3,280.7 462.5,280.7 463.8,280.5 465.1,280.5 466.3,278.2 467.6,278.7 468.8,277.5 470.1,277.9 471.3,277.7 472.6,279.1 473.9,280.1 475.1,279.3 476.4,278.1 477.6,278.2 478.9,278.3 480.2,278.5 481.4,278.4 482.7,278.8 483.9,278.8 485.2,279.4 486.5,278.5 487.7,277.8 489.0,275.7 490.2,273.9 491.5,272.9 492.7,272.4 494.0,274.4 495.3,275.7 496.5,276.4 497.8,275.1 499.0,275.7 500.3,276.6 501.6,276.9 502.8,276.1 504.1,273.7 505.3,274.7 506.6,272.8 507.8,273.3 509.1,274.3 510.4,272.9 511.6,271.9 512.9,273.0 514.1,271.3 515.4,271.4 516.7,271.7 517.9,271.3 519.2,270.3 520.4,270.0 521.7,270.3 523.0,271.7 524.2,270.8 525.5,271.5 526.7,272.5 528.0,273.0 529.2,275.3 530.5,275.3 531.8,276.4 533.0,276.3 534.3,276.4 535.5,274.1 536.8,273.4 538.1,271.4 539.3,271.5 540.6,269.7 541.8,269.8 543.1,269.3 544.4,269.7 545.6,267.7 546.9,266.9 548.1,268.0 549.4,266.3 550.6,267.1 551.9,268.9 553.2,268.8 554.4,269.7 555.7,268.4 556.9,268.7 558.2,267.7 559.5,266.8 560.7,267.0 562.0,267.9 563.2,267.8 564.5,268.4 565.8,266.4 567.0,265.9 568.3,267.5 569.5,267.5 570.8,268.6 572.0,266.4 573.3,266.7 574.6,267.1 575.8,265.4 577.1,265.3 578.3,263.6 579.6,263.3 580.9,260.8 582.1,260.3 583.4,261.5 584.6,260.3 585.9,261.1 587.1,260.5 588.4,260.8 589.7,262.1 590.9,260.3 592.2,259.0 593.4,259.6 594.7,259.4 596.0,257.9 597.2,258.0 598.5,258.8 599.7,258.8 601.0,259.8 602.3,260.6 603.5,261.9 604.8,260.3 606.0,261.1 607.3,259.2 608.5,257.3 609.8,256.6 611.1,254.5 612.3,254.8 613.6,254.1 614.8,255.5 616.1,254.1 617.4,253.8 618.6,254.6 619.9,254.1 621.1,255.6 622.4,255.8 623.7,253.8 624.9,252.8 626.2,254.5 627.4,253.8 628.7,254.2 629.9,252.4 631.2,253.1 632.5,253.2 633.7,251.1 635.0,251.0 636.2,251.5 637.5,249.5 638.8,248.6 640.0,247.6 641.3,247.7 642.5,246.9 643.8,247.2 645.1,246.1 646.3,245.0 647.6,246.7 648.8,246.2 650.1,245.3 651.3,244.4 652.6,244.4 653.9,241.8 655.1,241.4 656.4,239.9 657.6,238.8 658.9,235.2 660.2,234.3 661.4,232.0 662.7,229.9 663.9,227.0 664.9,225.7" fill="none" stroke="#d4a6c8" stroke-width="1.5" stroke-linejoin="round" stroke-linecap="round"/>
<polyline points="33.3,228.8 34.6,235.4 35.8,241.9 37.1,247.9 38.3,252.5 39.6,256.9 40.9,263.7 42.1,269.5 43.4,273.6 44.6,277.1 45.9,280.9 47.1,281.5 48.4,285.0 49.7,292.9 50.9,297.5 52.2,301.0 53.4,304.2 54.7,305.5 56.0,303.7 57.2,302.1 58.5,302.0 59.7,303.2 61.0,305.3 62.3,306.3 63.5,306.9 64.8,311.5 66.0,313.3 67.3,315.1 68.5,317.2 69.8,315.8 71.1,315.8 72.3,316.8 73.6,318.8 74.8,319.0 76.1,318.3 77.4,316.3 78.6,315.9 79.9,316.3 81.1,316.0 82.4,317.7 83.7,316.8 84.9,318.1 86.2,319.1 87.4,320.1 88.7,320.5 89.9,319.8 91.2,319.1 92.5,319.1 93.7,318.0 95.0,316.7 96.2,315.4 97.5,315.0 98.8,315.2 100.0,316.2 101.3,315.7 102.5,315.4 103.8,316.0 105.0,314.8 106.3,315.0 107.6,316.8 108.8,315.6 110.1,315.9 111.3,315.5 112.6,315.1 113.9,314.1 115.1,313.6 116.4,313.6 117.6,314.8 118.9,315.6 120.2,316.3 121.4,316.4 122.7,316.6 123.9,316.9 125.2,316.6 126.4,316.4 127.7,314.6 129.0,316.0 130.2,315.8 131.5,316.3 132.7,315.9 134.0,313.7 135.3,314.4 136.5,312.3 137.8,313.4 139.0,313.8 140.3,311.6 141.6,312.4 142.8,311.3 144.1,312.6 145.3,312.9 146.6,314.0 147.8,313.0 149.1,313.4 150.4,314.3 151.6,313.5 152.9,314.4 154.1,314.2 155.4,313.6 156.7,312.2 157.9,311.4 159.2,312.0 160.4,310.8 161.7,310.4 163.0,310.1 164.2,311.3 165.5,311.1 166.7,309.3 168.0,308.5 169.2,307.9 170.5,307.8 171.8,310.4 173.0,309.5 174.3,310.6 175.5,311.5 176.8,311.3 178.1,310.8 179.3,310.2 180.6,309.9 181.8,310.2 183.1,311.4 184.4,312.1 185.6,311.2 186.9,311.2 188.1,311.0 189.4,311.5 190.6,312.4 191.9,313.5 193.2,312.2 194.4,311.5 195.7,311.0 196.9,312.0 198.2,312.0 199.5,310.3 200.7,310.5 202.0,308.8 203.2,310.1 204.5,309.3 205.7,309.1 207.0,309.6 208.3,311.7 209.5,313.4 210.8,311.4 212.0,311.9 213.3,309.7 214.6,308.5 215.8,308.0 217.1,309.2 218.3,309.0 219.6,309.3 220.9,308.5 222.1,309.1 223.4,308.1 224.6,309.7 225.9,308.3 227.1,308.1 228.4,307.9 229.7,306.7 230.9,306.1 232.2,306.0 233.4,306.0 234.7,307.0 236.0,307.4 237.2,306.4 238.5,305.5 239.7,307.8 241.0,308.8 242.3,308.4 243.5,308.1 244.8,307.7 246.0,307.2 247.3,306.0 248.5,305.4 249.8,305.5 251.1,306.9 252.3,306.0 253.6,307.6 254.8,306.8 256.1,306.2 257.4,307.0 258.6,306.1 259.9,306.0 261.1,306.4 262.4,307.2 263.7,305.8 264.9,306.6 266.2,307.6 267.4,307.2 268.7,308.6 269.9,309.8 271.2,308.9 272.5,310.1 273.7,309.4 275.0,307.6 276.2,307.7 277.5,306.7 278.8,307.3 280.0,305.3 281.3,305.1 282.5,304.1 283.8,304.6 285.1,305.4 286.3,304.8 287.6,304.2 288.8,305.1 290.1,306.9 291.3,305.1 292.6,304.8 293.9,305.0 295.1,305.8 296.4,306.1 297.6,306.3 298.9,305.1 300.2,304.7 301.4,306.1 302.7,306.9 303.9,306.8 305.2,306.8 306.4,306.6 307.7,307.9 309.0,308.3 310.2,308.4 311.5,306.5 312.7,304.5 314.0,305.5 315.3,304.1 316.5,303.2 317.8,303.0 319.0,305.4 320.3,305.4 321.6,305.1 322.8,305.6 324.1,306.2 325.3,304.9 326.6,305.2 327.8,305.1 329.1,303.3 330.4,304.4 331.6,303.1 332.9,304.6 334.1,303.4 335.4,304.8 336.7,302.8 337.9,302.4 339.2,300.6 340.4,300.5 341.7,300.9 343.0,299.9 344.2,300.8 345.5,301.6 346.7,301.9 348.0,301.1 349.2,299.3 350.5,298.3 351.8,298.8 353.0,299.0 354.3,298.3 355.5,297.1 356.8,296.1 358.1,295.6 359.3,294.8 360.6,293.0 361.8,292.3 363.1,291.9 364.4,291.3 365.6,291.8 366.9,293.5 368.1,292.4 369.4,292.2 370.6,292.1 371.9,293.3 373.2,292.3 374.4,290.7 375.7,292.2 376.9,291.9 378.2,290.0 379.5,290.5 380.7,290.2 382.0,290.0 383.2,288.8 384.5,290.0 385.8,290.4 387.0,291.1 388.3,288.8 389.5,287.8 390.8,288.0 392.0,287.7 393.3,287.9 394.6,287.1 395.8,288.4 397.1,289.6 398.3,290.3 399.6,291.5 400.9,291.9 402.1,290.0 403.4,289.3 404.6,290.7 405.9,290.6 407.1,288.9 408.4,288.6 409.7,289.3 410.9,287.6 412.2,286.2 413.4,287.0 414.7,285.7 416.0,283.8 417.2,284.5 418.5,284.4 419.7,282.0 421.0,282.7 422.3,281.8 423.5,280.1 424.8,279.1 426.0,278.2 427.3,278.9 428.5,279.1 429.8,280.3 431.1,279.4 432.3,279.9 433.6,280.1 434.8,282.7 436.1,281.3 437.4,281.6 438.6,281.5 439.9,280.8 441.1,279.6 442.4,279.0 443.7,277.4 444.9,277.3 446.2,278.0 447.4,276.8 448.7,274.8 449.9,273.5 451.2,274.2 452.5,273.7 453.7,275.4 455.0,274.1 456.2,273.8 457.5,275.2 458.8,274.7 460.0,273.9 461.3,274.0 462.5,272.8 463.8,273.2 465.1,274.1 466.3,273.7 467.6,272.0 468.8,271.6 470.1,273.5 471.3,274.9 472.6,276.6 473.9,275.3 475.1,277.2 476.4,277.4 477.6,276.1 478.9,275.3 480.2,272.9 481.4,270.8 482.7,268.8 483.9,268.4 485.2,269.7 486.5,270.6 487.7,270.5 489.0,270.9 490.2,269.8 491.5,269.1 492.7,269.8 494.0,269.6 495.3,267.2 496.5,268.1 497.8,266.5 499.0,265.7 500.3,266.1 501.6,266.0 502.8,265.6 504.1,267.0 505.3,269.5 506.6,269.9 507.8,270.0 509.1,269.9 510.4,271.0 511.6,269.0 512.9,268.3 514.1,267.7 515.4,267.9 516.7,267.1 517.9,266.8 519.2,265.1 520.4,265.6 521.7,265.1 523.0,264.8 524.2,263.9 525.5,264.8 526.7,264.8 528.0,265.7 529.2,265.4 530.5,265.7 531.8,265.6 533.0,267.2 534.3,267.9 535.5,267.8 536.8,268.8 538.1,268.3 539.3,268.9 540.6,268.9 541.8,269.0 543.1,266.2 544.4,265.6 545.6,264.5 546.9,264.5 548.1,264.5 549.4,265.0 550.6,264.1 551.9,264.1 553.2,265.7 554.4,266.2 555.7,265.3 556.9,265.6 558.2,265.4 559.5,266.0 560.7,266.8 562.0,265.8 563.2,267.0 564.5,266.5 565.8,265.8 567.0,266.2 568.3,265.9 569.5,264.4 570.8,265.4 572.0,264.1 573.3,263.0 574.6,264.9 575.8,264.1 577.1,263.3 578.3,264.0 579.6,263.5 580.9,264.3 582.1,265.0 583.4,265.6 584.6,266.8 585.9,267.2 587.1,266.2 588.4,265.9 589.7,264.2 590.9,265.1 592.2,265.8 593.4,264.4 594.7,264.6 596.0,264.3 597.2,263.7 598.5,263.7 599.7,263.7 601.0,264.1 602.3,262.2 603.5,262.8 604.8,263.8 606.0,262.4 607.3,262.2 608.5,261.3 609.8,259.6 611.1,260.6 612.3,261.2 613.6,260.9 614.8,259.3 616.1,259.2 617.4,259.1 618.6,259.2 619.9,259.8 621.1,259.0 622.4,260.1 623.7,261.2 624.9,260.6 626.2,258.1 627.4,256.7 628.7,256.6 629.9,257.9 631.2,255.9 632.5,255.0 633.7,255.1 635.0,254.5 636.2,254.6 637.5,253.3 638.8,252.5 640.0,252.7 641.3,251.7 642.5,250.7 643.8,249.7 645.1,247.0 646.3,247.4 647.6,247.8 648.8,246.0 650.1,246.5 651.3,245.2 652.6,244.4 653.9,243.4 655.1,242.1 656.4,241.0 657.6,241.9 658.9,241.1 660.2,240.8 661.4,238.1 662.7,236.4 663.9,236.5 665.2,237.2 666.5,236.6 667.7,235.4 669.0,234.7 670.2,234.3 671.5,231.3 672.7,228.6 674.0,227.4 675.0,225.7" fill="none" stroke="#b07aa1" stroke-width="1.5" stroke-linejoin="round" stroke-linecap="round"/>
<polyline points="33.3,230.1 34.6,234.6 35.8,237.7 37.1,242.7 38.3,245.5 39.6,249.3 40.9,253.6 42.1,255.7 43.4,258.1 44.6,262.0 45.9,264.2 47.1,264.2 48.4,266.8 49.7,270.7 50.9,271.7 52.2,273.2 53.4,275.1 54.7,274.4 56.0,269.3 57.2,266.7 58.5,269.8 59.7,273.3 61.0,270.5 62.3,268.3 63.5,267.8 64.8,268.8 66.0,269.9 67.3,268.5 68.5,265.8 69.8,265.7 71.1,267.9 72.3,267.8 73.6,264.6 74.8,262.6 76.1,261.5 77.4,263.7 78.6,264.1 79.9,264.3 81.1,266.7 82.4,267.0 83.7,267.7 84.9,267.0 86.2,266.3 87.4,266.1 88.7,267.4 89.9,269.0 91.2,268.4 92.5,269.1 93.7,269.8 95.0,271.1 96.2,272.7 97.5,273.2 98.8,271.5 100.0,272.7 101.3,272.7 102.5,274.1 103.8,274.5 105.0,274.6 106.3,275.2 107.6,274.7 108.8,272.4 110.1,273.2 111.3,272.3 112.6,271.5 113.9,270.4 115.1,271.1 116.4,271.6 117.6,272.1 118.9,272.5 120.2,274.2 121.4,273.6 122.7,273.6 123.9,271.7 125.2,270.8 126.4,271.4 127.7,272.8 129.0,273.4 130.2,273.1 131.5,272.6 132.7,273.3 134.0,274.7 135.3,273.6 136.5,274.3 137.8,273.1 139.0,273.9 140.3,273.7 141.6,276.0 142.8,276.1 144.1,276.9 145.3,277.7 146.6,277.0 147.8,276.8 149.1,276.6 150.4,276.9 151.6,277.3 152.9,276.5 154.1,275.9 155.4,274.8 156.7,275.7 157.9,277.0 159.2,277.2 160.4,276.0 161.7,277.9 163.0,277.6 164.2,278.8 165.5,276.7 166.7,276.8 168.0,275.4 169.2,275.9 170.5,274.8 171.8,276.0 173.0,275.6 174.3,276.2 175.5,275.1 176.8,275.5 178.1,274.7 179.3,274.6 180.6,274.7 181.8,275.7 183.1,274.8 184.4,276.7 185.6,276.3 186.9,276.1 188.1,275.5 189.4,276.8 190.6,276.5 191.9,275.1 193.2,274.9 194.4,274.6 195.7,275.8 196.9,275.2 198.2,275.8 199.5,277.3 200.7,277.5 202.0,277.6 203.2,278.7 204.5,277.9 205.7,277.0 207.0,278.4 208.3,279.0 209.5,277.6 210.8,276.9 212.0,278.6 213.3,278.6 214.6,277.0 215.8,276.7 217.1,278.5 218.3,277.2 219.6,276.9 220.9,278.7 222.1,278.5 223.4,277.7 224.6,277.3 225.9,276.7 227.1,276.7 228.4,277.9 229.7,277.7 230.9,276.3 232.2,277.0 233.4,277.7 234.7,276.0 236.0,276.6 237.2,277.2 238.5,275.9 239.7,277.2 241.0,277.0 242.3,278.8 243.5,278.2 244.8,278.5 246.0,278.7 247.3,276.5 248.5,277.2 249.8,275.7 251.1,275.6 252.3,276.3 253.6,275.3 254.8,276.7 256.1,275.1 257.4,275.3 258.6,274.2 259.9,275.4 261.1,276.2 262.4,275.5 263.7,274.5 264.9,276.2 266.2,277.4 267.4,277.1 268.7,277.8 269.9,277.8 271.2,278.5 272.5,279.2 273.7,277.8 275.0,277.8 276.2,278.2 277.5,279.4 278.8,278.0 280.0,278.7 281.3,279.3 282.5,278.8 283.8,278.5 285.1,279.3 286.3,280.6 287.6,280.7 288.8,281.1 290.1,281.1 291.3,280.1 292.6,280.4 293.9,279.0 295.1,278.4 296.4,278.4 297.6,278.3 298.9,277.8 300.2,278.3 301.4,278.7 302.7,279.4 303.9,279.5 305.2,279.5 306.4,280.0 307.7,279.2 309.0,278.8 310.2,278.9 311.5,278.2 312.7,277.4 314.0,277.3 315.3,275.9 316.5,276.9 317.8,275.8 319.0,275.0 320.3,275.3 321.6,275.7 322.8,277.1 324.1,275.5 325.3,276.4 326.6,275.4 327.8,274.3 329.1,275.1 330.4,275.8 331.6,275.1 332.9,276.9 334.1,277.5 335.4,274.9 336.7,276.9 337.9,276.2 339.2,277.5 340.4,276.9 341.7,278.6 343.0,278.2 344.2,278.1 345.5,278.6 346.7,280.1 348.0,280.2 349.2,279.9 350.5,280.4 351.8,278.5 353.0,278.5 354.3,277.8 355.5,277.0 356.8,277.6 358.1,277.8 359.3,279.7 360.6,281.0 361.8,281.8 363.1,282.0 364.4,281.8 365.6,281.4 366.9,280.3 368.1,278.2 369.4,277.3 370.6,277.7 371.9,278.1 373.2,277.8 374.4,280.4 375.7,281.2 376.9,282.1 378.2,283.0 379.5,282.3 380.7,282.1 382.0,284.0 383.2,284.6 384.5,284.4 385.8,285.4 387.0,286.4 388.3,285.5 389.5,286.1 390.8,285.1 392.0,283.6 393.3,283.9 394.6,282.9 395.8,282.8 397.1,284.2 398.3,284.7 399.6,285.5 400.9,286.7 402.1,284.6 403.4,286.3 404.6,286.4 405.9,284.9 407.1,283.5 408.4,282.5 409.7,283.3 410.9,284.3 412.2,283.6 413.4,284.4 414.7,284.9 416.0,285.5 417.2,286.4 418.5,287.0 419.7,285.7 421.0,285.2 422.3,286.1 423.5,285.9 424.8,285.8 426.0,283.5 427.3,282.9 428.5,282.4 429.8,284.0 431.1,283.0 432.3,283.4 433.6,284.6 434.8,284.3 436.1,283.5 437.4,283.9 438.6,284.8 439.9,285.1 441.1,287.4 442.4,288.5 443.7,287.2 444.9,288.3 446.2,286.5 447.4,287.4 448.7,285.7 449.9,286.5 451.2,285.2 452.5,286.9 453.7,286.9 455.0,288.2 456.2,285.7 457.5,285.6 458.8,285.8 460.0,286.5 461.3,285.2 462.5,286.0 463.8,286.5 465.1,285.1 466.3,284.9 467.6,285.5 468.8,286.1 470.1,287.6 471.3,288.6 472.6,289.5 473.9,288.2 475.1,290.0 476.4,289.3 477.6,290.1 478.9,289.6 480.2,288.6 481.4,288.3 482.7,289.1 483.9,290.6 485.2,291.8 486.5,290.5 487.7,291.3 489.0,291.3 490.2,290.5 491.5,290.6 492.7,290.8 494.0,290.2 495.3,289.5 496.5,288.6 497.8,288.9 499.0,287.8 500.3,287.5 501.6,286.6 502.8,286.9 504.1,286.9 505.3,285.7 506.6,287.2 507.8,286.4 509.1,285.6 510.4,285.5 511.6,286.2 512.9,287.5 514.1,288.5 515.4,288.8 516.7,288.2 517.9,290.0 519.2,289.0 520.4,290.4 521.7,288.5 523.0,287.7 524.2,286.6 525.5,288.0 526.7,287.4 528.0,286.4 529.2,286.5 530.5,286.0 531.8,285.5 533.0,285.3 534.3,285.0 535.5,284.9 536.8,282.5 538.1,281.1 539.3,282.4 540.6,283.2 541.8,282.1 543.1,281.2 544.4,281.4 545.6,280.2 546.9,279.1 548.1,279.0 549.4,277.0 550.6,275.5 551.9,274.9 553.2,274.3 554.4,273.0 555.7,270.4 556.9,270.8 558.2,269.5 559.5,270.4 560.7,270.9 562.0,270.3 563.2,271.1 564.5,270.4 565.8,271.5 567.0,273.0 568.3,271.9 569.5,273.6 570.8,273.9 572.0,275.9 573.3,275.3 574.6,275.9 575.8,276.2 577.1,276.3 578.3,276.6 579.6,276.8 580.9,274.4 582.1,273.3 583.4,272.3 584.6,274.1 585.9,274.1 587.1,274.6 588.4,274.4 589.7,271.9 590.9,270.7 592.2,271.1 593.4,269.8 594.7,270.5 596.0,271.0 597.2,269.8 598.5,269.3 599.7,270.8 601.0,271.2 602.3,271.9 603.5,272.9 604.8,272.4 606.0,272.5 607.3,272.4 608.5,270.3 609.8,269.9 611.1,269.8 612.3,269.4 613.6,268.6 614.8,267.2 616.1,268.2 617.4,266.3 618.6,267.1 619.9,264.6 621.1,264.6 622.4,263.3 623.7,263.9 624.9,262.5 626.2,262.2 627.4,262.2 628.7,260.9 629.9,259.6 631.2,257.8 632.5,258.4 633.7,258.8 635.0,258.2 636.2,257.5 637.5,254.9 638.8,254.4 640.0,252.1 641.3,250.5 642.5,249.1 643.8,247.7 645.1,247.9 646.3,247.8 647.6,248.6 648.8,247.5 650.1,247.2 651.3,247.5 652.6,247.8 653.9,249.4 655.1,250.1 656.4,247.4 657.6,247.7 658.9,247.9 660.2,247.7 661.4,248.2 662.7,246.5 663.9,246.2 665.2,245.1 666.5,244.1 667.7,242.2 669.0,239.6 670.2,238.0 671.5,235.4 672.7,233.1 674.0,229.2 675.3,226.8 676.0,226.0" fill="none" stroke="#fabfd2" stroke-width="1.5" stroke-linejoin="round" stroke-linecap="round"/>
<polyline points="33.3,229.8 34.6,235.3 35.8,240.4 37.1,245.4 38.3,251.9 39.6,256.5 40.9,262.1 42.1,269.9 43.4,273.9 44.6,276.9 45.9,278.6 47.1,279.9 48.4,283.9 49.7,291.9 50.9,297.7 52.2,300.4 53.4,301.6 54.7,304.3 56.0,307.2 57.2,308.4 58.5,306.6 59.7,308.2 61.0,307.9 62.3,308.1 63.5,309.7 64.8,313.1 66.0,317.0 67.3,314.3 68.5,312.3 69.8,312.4 71.1,309.8 72.3,308.9 73.6,309.9 74.8,310.3 76.1,310.3 77.4,309.3 78.6,307.6 79.9,306.6 81.1,306.1 82.4,305.7 83.7,303.1 84.9,303.8 86.2,304.1 87.4,306.2 88.7,305.4 89.9,305.9 91.2,308.2 92.5,310.3 93.7,311.6 95.0,311.2 96.2,309.0 97.5,308.5 98.8,306.5 100.0,305.4 101.3,305.2 102.5,303.6 103.8,302.9 105.0,304.3 106.3,304.2 107.6,305.0 108.8,306.6 110.1,308.2 111.3,309.4 112.6,307.9 113.9,308.0 115.1,306.4 116.4,306.0 117.6,306.2 118.9,305.2 120.2,304.9 121.4,306.1 122.7,306.7 123.9,305.1 125.2,303.0 126.4,302.8 127.7,300.8 129.0,301.7 130.2,299.7 131.5,299.1 132.7,300.3 134.0,300.0 135.3,298.4 136.5,296.7 137.8,297.5 139.0,297.8 140.3,297.5 141.6,300.6 142.8,300.3 144.1,302.4 145.3,302.4 146.6,302.5 147.8,300.8 149.1,301.9 150.4,302.5 151.6,299.7 152.9,299.2 154.1,299.6 155.4,299.0 156.7,299.0 157.9,297.3 159.2,295.5 160.4,296.0 161.7,293.9 163.0,293.5 164.2,291.8 165.5,289.4 166.7,289.2 168.0,288.1 169.2,286.1 170.5,289.0 171.8,289.0 173.0,289.1 174.3,288.3 175.5,288.1 176.8,287.0 178.1,287.0 179.3,287.3 180.6,287.0 181.8,286.9 183.1,285.8 184.4,284.3 185.6,283.2 186.9,282.4 188.1,283.9 189.4,282.6 190.6,282.5 191.9,281.9 193.2,282.5 194.4,284.3 195.7,284.2 196.9,286.5 198.2,286.3 199.5,285.3 200.7,287.0 202.0,286.3 203.2,286.6 204.5,288.2 205.7,287.8 207.0,289.3 208.3,288.1 209.5,288.8 210.8,288.5 212.0,290.4 213.3,289.6 214.6,290.6 215.8,290.8 217.1,289.4 218.3,291.0 219.6,291.4 220.9,291.1 222.1,289.9 223.4,292.0 224.6,291.7 225.9,290.1 227.1,290.2 228.4,289.5 229.7,289.1 230.9,290.2 232.2,290.4 233.4,290.5 234.7,291.6 236.0,290.0 237.2,290.7 238.5,290.0 239.7,289.3 241.0,290.1 242.3,290.2 243.5,289.9 244.8,289.6 246.0,292.4 247.3,294.3 248.5,295.9 249.8,296.7 251.1,296.8 252.3,295.3 253.6,294.8 254.8,294.5 256.1,294.2 257.4,294.3 258.6,292.6 259.9,293.4 261.1,293.6 262.4,293.8 263.7,293.9 264.9,293.8 266.2,295.9 267.4,295.8 268.7,296.4 269.9,294.4 271.2,293.6 272.5,292.6 273.7,291.9 275.0,291.5 276.2,289.7 277.5,289.7 278.8,291.0 280.0,291.4 281.3,289.3 282.5,288.4 283.8,289.2 285.1,291.0 286.3,290.5 287.6,291.0 288.8,293.3 290.1,294.1 291.3,292.6 292.6,292.5 293.9,292.1 295.1,293.5 296.4,292.6 297.6,293.5 298.9,292.5 300.2,291.7 301.4,290.1 302.7,289.7 303.9,288.7 305.2,286.1 306.4,285.9 307.7,285.6 309.0,286.0 310.2,285.4 311.5,285.7 312.7,287.4 314.0,287.7 315.3,287.8 316.5,286.8 317.8,287.3 319.0,285.9 320.3,287.2 321.6,286.2 322.8,285.6 324.1,285.0 325.3,286.1 326.6,288.3 327.8,287.1 329.1,288.3 330.4,288.9 331.6,287.7 332.9,287.6 334.1,285.5 335.4,284.5 336.7,285.1 337.9,284.2 339.2,285.7 340.4,285.7 341.7,284.1 343.0,283.2 344.2,282.8 345.5,284.8 346.7,284.1 348.0,283.2 349.2,285.5 350.5,286.6 351.8,286.5 353.0,286.8 354.3,285.2 355.5,284.7 356.8,284.3 358.1,284.1 359.3,284.8 360.6,285.8 361.8,287.2 363.1,287.7 364.4,287.0 365.6,285.4 366.9,284.1 368.1,283.0 369.4,282.4 370.6,282.6 371.9,282.7 373.2,282.8 374.4,283.2 375.7,281.2 376.9,280.0 378.2,279.7 379.5,280.1 380.7,279.1 382.0,280.4 383.2,280.6 384.5,281.2 385.8,280.1 387.0,279.0 388.3,279.7 389.5,280.2 390.8,278.3 392.0,277.9 393.3,276.7 394.6,276.7 395.8,278.1 397.1,277.7 398.3,278.1 399.6,278.2 400.9,277.8 402.1,278.5 403.4,278.8 404.6,277.4 405.9,279.1 407.1,277.9 408.4,279.3 409.7,278.5 410.9,276.9 412.2,276.2 413.4,275.7 414.7,276.7 416.0,275.5 417.2,274.2 418.5,272.8 419.7,274.0 421.0,272.5 422.3,272.1 423.5,272.6 424.8,273.3 426.0,274.5 427.3,274.6 428.5,273.7 429.8,274.8 431.1,274.4 432.3,272.8 433.6,273.4 434.8,273.7 436.1,273.2 437.4,273.3 438.6,272.4 439.9,271.2 441.1,272.0 442.4,272.5 443.7,270.3 444.9,270.2 446.2,270.4 447.4,271.2 448.7,271.5 449.9,270.2 451.2,268.9 452.5,269.3 453.7,269.0 455.0,270.7 456.2,269.9 457.5,270.7 458.8,271.0 460.0,270.9 461.3,272.5 462.5,273.0 463.8,272.5 465.1,272.6 466.3,272.6 467.6,273.4 468.8,271.3 470.1,272.1 471.3,270.2 472.6,270.1 473.9,270.1 475.1,268.0 476.4,268.0 477.6,266.8 478.9,265.5 480.2,266.1 481.4,266.5 482.7,265.6 483.9,266.1 485.2,265.0 486.5,264.2 487.7,265.5 489.0,264.8 490.2,264.7 491.5,264.4 492.7,266.6 494.0,266.1 495.3,264.8 496.5,265.4 497.8,264.4 499.0,262.7 500.3,261.4 501.6,261.1 502.8,261.3 504.1,261.1 505.3,262.9 506.6,261.8 507.8,262.7 509.1,262.1 510.4,262.0 511.6,261.1 512.9,260.9 514.1,260.3 515.4,262.1 516.7,262.5 517.9,262.5 519.2,264.3 520.4,263.5 521.7,265.2 523.0,266.8 524.2,266.5 525.5,264.6 526.7,262.5 528.0,262.8 529.2,259.6 530.5,259.5 531.8,257.1 533.0,258.5 534.3,259.5 535.5,260.1 536.8,261.3 538.1,261.0 539.3,261.0 540.6,260.9 541.8,259.6 543.1,259.8 544.4,257.8 545.6,256.5 546.9,254.8 548.1,255.6 549.4,255.9 550.6,255.3 551.9,256.2 553.2,256.6 554.4,256.7 555.7,258.4 556.9,257.5 558.2,257.1 559.5,258.4 560.7,259.3 562.0,259.0 563.2,259.2 564.5,260.6 565.8,259.5 567.0,258.8 568.3,260.3 569.5,258.6 570.8,258.5 572.0,258.5 573.3,257.2 574.6,256.6 575.8,256.4 577.1,256.1 578.3,255.9 579.6,254.3 580.9,253.4 582.1,253.5 583.4,254.3 584.6,254.6 585.9,253.0 587.1,253.1 588.4,251.6 589.7,251.7 590.9,251.5 592.2,251.1 593.4,251.3 594.7,251.9 596.0,251.1 597.2,251.9 598.5,251.9 599.7,251.5 601.0,251.4 602.3,251.2 603.5,251.9 604.8,252.7 606.0,251.0 607.3,250.7 608.5,250.8 609.8,249.4 611.1,250.5 612.3,249.7 613.6,250.1 614.8,248.6 616.1,248.8 617.4,247.5 618.6,247.9 619.9,246.9 621.1,246.9 622.4,248.7 623.7,248.9 624.9,246.3 626.2,245.6 627.4,246.4 628.7,246.7 629.9,245.4 631.2,246.2 632.5,244.3 633.7,242.4 635.0,242.0 636.2,240.6 637.5,238.4 638.8,236.5 640.0,233.1 641.3,231.5 642.5,227.8 643.0,226.2" fill="none" stroke="#d37295" stroke-width="1.5" stroke-linejoin="round" stroke-linecap="round"/>
<polyline points="33.3,229.4 34.6,236.7 35.8,242.6 37.1,249.8 38.3,257.5 39.6,263.6 40.9,270.5 42.1,278.3 43.4,282.1 44.6,285.7 45.9,291.1 47.1,294.9 48.4,298.7 49.7,306.4 50.9,311.7 52.2,312.2 53.4,311.7 54.7,313.9 56.0,318.1 57.2,323.3 58.5,324.0 59.7,326.7 61.0,332.4 62.3,337.6 63.5,338.9 64.8,338.9 66.0,341.5 67.3,338.9 68.5,336.3 69.8,337.4 71.1,339.1 72.3,339.5 73.6,338.5 74.8,338.0 76.1,339.2 77.4,343.6 78.6,343.3 79.9,344.0 81.1,343.9 82.4,343.8 83.7,344.5 84.9,344.9 86.2,344.1 87.4,343.7 88.7,344.3 89.9,344.0 91.2,343.4 92.5,344.3 93.7,344.3 95.0,343.5 96.2,343.8 97.5,343.9 98.8,343.5 100.0,346.1 101.3,346.4 102.5,346.9 103.8,346.0 105.0,346.4 106.3,345.9 107.6,348.1 108.8,348.1 110.1,347.5 111.3,347.6 112.6,346.7 113.9,346.5 115.1,347.5 116.4,345.1 117.6,345.3 118.9,344.4 120.2,343.1 121.4,342.3 122.7,343.0 123.9,341.8 125.2,343.3 126.4,342.8 127.7,342.1 129.0,342.0 130.2,341.7 131.5,341.4 132.7,340.7 134.0,340.5 135.3,339.8 136.5,340.7 137.8,340.5 139.0,339.6 140.3,338.7 141.6,338.3 142.8,339.8 144.1,339.4 145.3,339.8 146.6,339.8 147.8,339.5 149.1,339.4 150.4,338.8 151.6,339.5 152.9,338.2 154.1,338.4 155.4,338.7 156.7,337.9 157.9,337.0 159.2,336.7 160.4,336.0 161.7,335.5 163.0,334.8 164.2,333.1 165.5,331.9 166.7,328.9 168.0,328.6 169.2,327.1 170.5,327.7 171.8,326.4 173.0,327.2 174.3,327.0 175.5,327.5 176.8,328.6 178.1,328.6 179.3,328.9 180.6,328.8 181.8,330.0 183.1,331.2 184.4,331.6 185.6,329.7 186.9,328.1 188.1,327.6 189.4,327.6 190.6,326.2 191.9,327.5 193.2,326.4 194.4,327.0 195.7,324.6 196.9,322.9 198.2,323.1 199.5,323.7 200.7,322.3 202.0,323.3 203.2,321.2 204.5,322.4 205.7,323.0 207.0,322.3 208.3,321.6 209.5,321.1 210.8,319.6 212.0,318.0 213.3,318.9 214.6,319.4 215.8,318.4 217.1,317.7 218.3,316.4 219.6,315.3 220.9,316.0 222.1,314.5 223.4,314.1 224.6,313.9 225.9,311.2 227.1,309.9 228.4,311.9 229.7,310.8 230.9,310.4 232.2,311.2 233.4,312.1 234.7,311.8 236.0,312.2 237.2,312.5 238.5,309.8 239.7,310.0 241.0,308.8 242.3,309.5 243.5,309.6 244.8,310.0 246.0,308.7 247.3,307.2 248.5,307.9 249.8,308.6 251.1,308.1 252.3,307.9 253.6,307.9 254.8,308.7 256.1,309.4 257.4,309.6 258.6,308.3 259.9,307.8 261.1,306.8 262.4,304.8 263.7,304.3 264.9,303.6 266.2,303.8 267.4,302.8 268.7,302.9 269.9,303.6 271.2,303.5 272.5,303.3 273.7,302.7 275.0,300.9 276.2,300.4 277.5,301.6 278.8,302.6 280.0,302.1 281.3,303.4 282.5,302.5 283.8,302.5 285.1,302.7 286.3,302.8 287.6,302.2 288.8,302.0 290.1,303.8 291.3,302.9 292.6,302.5 293.9,300.8 295.1,298.9 296.4,297.8 297.6,296.4 298.9,296.1 300.2,296.2 301.4,296.6 302.7,299.1 303.9,301.0 305.2,300.5 306.4,299.9 307.7,299.4 309.0,300.0 310.2,299.4 311.5,300.6 312.7,299.2 314.0,299.0 315.3,297.7 316.5,296.6 317.8,296.9 319.0,294.5 320.3,293.5 321.6,291.8 322.8,291.5 324.1,293.7 325.3,295.4 326.6,294.8 327.8,297.0 329.1,298.6 330.4,298.1 331.6,297.3 332.9,297.4 334.1,294.5 335.4,292.4 336.7,291.7 337.9,290.9 339.2,290.6 340.4,292.0 341.7,292.3 343.0,290.5 344.2,291.9 345.5,291.2 346.7,290.4 348.0,290.4 349.2,290.5 350.5,289.5 351.8,288.9 353.0,289.4 354.3,288.0 355.5,288.9 356.8,288.0 358.1,288.6 359.3,287.7 360.6,287.0 361.8,286.2 363.1,286.1 364.4,287.8 365.6,287.3 366.9,289.0 368.1,290.1 369.4,288.9 370.6,290.0 371.9,289.4 373.2,288.4 374.4,290.3 375.7,290.1 376.9,289.0 378.2,289.4 379.5,289.4 380.7,288.7 382.0,287.4 383.2,286.8 384.5,286.6 385.8,284.8 387.0,283.9 388.3,285.5 389.5,285.2 390.8,284.2 392.0,284.1 393.3,285.2 394.6,285.0 395.8,285.0 397.1,285.7 398.3,286.1 399.6,285.9 400.9,285.6 402.1,284.8 403.4,284.7 404.6,284.8 405.9,286.3 407.1,286.6 408.4,286.1 409.7,284.5 410.9,286.1 412.2,284.5 413.4,285.2 414.7,284.6 416.0,283.6 417.2,283.1 418.5,282.1 419.7,280.6 421.0,281.7 422.3,282.9 423.5,282.7 424.8,282.6 426.0,284.9 427.3,285.8 428.5,285.3 429.8,285.1 431.1,283.3 432.3,283.3 433.6,282.5 434.8,281.8 436.1,279.7 437.4,280.2 438.6,282.0 439.9,282.7 441.1,284.4 442.4,284.4 443.7,285.6 444.9,286.8 446.2,286.2 447.4,284.6 448.7,285.2 449.9,284.9 451.2,283.1 452.5,282.5 453.7,283.6 455.0,282.9 456.2,283.9 457.5,283.3 458.8,285.3 460.0,285.9 461.3,284.0 462.5,285.2 463.8,285.0 465.1,285.1 466.3,286.0 467.6,287.1 468.8,287.2 470.1,286.7 471.3,285.0 472.6,282.8 473.9,280.5 475.1,280.1 476.4,281.1 477.6,280.5 478.9,279.8 480.2,280.7 481.4,280.9 482.7,279.6 483.9,277.6 485.2,279.2 486.5,278.9 487.7,279.3 489.0,281.3 490.2,282.4 491.5,282.8 492.7,280.6 494.0,280.8 495.3,281.2 496.5,281.1 497.8,280.0 499.0,282.0 500.3,282.3 501.6,281.9 502.8,281.5 504.1,279.8 505.3,280.3 506.6,281.4 507.8,281.1 509.1,281.8 510.4,280.6 511.6,280.6 512.9,278.6 514.1,278.2 515.4,277.3 516.7,278.7 517.9,278.7 519.2,277.3 520.4,275.8 521.7,276.6 523.0,278.1 524.2,277.3 525.5,277.0 526.7,275.8 528.0,275.4 529.2,276.5 530.5,275.6 531.8,277.5 533.0,276.6 534.3,278.4 535.5,279.1 536.8,279.6 538.1,279.2 539.3,279.7 540.6,280.2 541.8,282.8 543.1,283.1 544.4,284.0 545.6,283.8 546.9,282.5 548.1,281.3 549.4,278.1 550.6,275.4 551.9,274.4 553.2,274.3 554.4,274.3 555.7,274.6 556.9,273.1 558.2,274.1 559.5,272.0 560.7,271.4 562.0,272.8 563.2,272.0 564.5,271.7 565.8,271.5 567.0,270.8 568.3,270.1 569.5,268.7 570.8,269.0 572.0,267.2 573.3,267.8 574.6,266.6 575.8,267.3 577.1,267.5 578.3,266.5 579.6,265.9 580.9,266.2 582.1,266.4 583.4,266.9 584.6,266.1 585.9,263.5 587.1,263.7 588.4,263.0 589.7,260.8 590.9,261.2 592.2,259.8 593.4,261.4 594.7,260.9 596.0,259.0 597.2,260.1 598.5,258.6 599.7,257.9 601.0,260.5 602.3,260.1 603.5,259.6 604.8,261.0 606.0,260.0 607.3,259.1 608.5,258.0 609.8,257.3 611.1,254.5 612.3,252.5 613.6,251.0 614.8,249.1 616.1,246.4 617.4,244.5 618.6,242.2 619.9,236.2 621.1,231.4 622.4,227.2 622.9,225.7" fill="none" stroke="#bab0ac" stroke-width="1.5" stroke-linejoin="round" stroke-linecap="round"/>
<polyline points="33.3,228.4 34.6,237.3 35.8,245.6 37.1,253.5 38.3,260.9 39.6,268.9 40.9,276.6 42.1,284.6 43.4,292.5 44.6,296.9 45.9,298.6 47.1,300.8 48.4,304.2 49.7,308.1 50.9,310.4 52.2,313.0 53.4,313.6 54.7,315.1 56.0,318.1 57.2,322.1 58.5,326.5 59.7,331.8 61.0,334.4 62.3,339.6 63.5,342.2 64.8,345.7 66.0,348.5 67.3,351.0 68.5,353.2 69.8,353.2 71.1,353.5 72.3,355.4 73.6,358.1 74.8,358.3 76.1,357.8 77.4,360.2 78.6,358.1 79.9,356.1 81.1,355.1 82.4,351.6 83.7,349.1 84.9,345.2 86.2,342.1 87.4,337.8 88.7,335.8 89.9,333.9 91.2,336.4 92.5,338.6 93.7,339.4 95.0,340.8 96.2,341.7 97.5,342.2 98.8,345.0 100.0,346.6 101.3,346.6 102.5,344.3 103.8,342.8 105.0,344.4 106.3,344.2 107.6,344.3 108.8,344.3 110.1,344.0 111.3,341.9 112.6,343.5 113.9,343.5 115.1,344.7 116.4,342.8 117.6,341.9 118.9,340.4 120.2,341.3 121.4,341.0 122.7,341.4 123.9,340.5 125.2,340.5 126.4,338.6 127.7,335.5 129.0,333.2 130.2,331.1 131.5,329.0 132.7,329.5 134.0,329.4 135.3,329.9 136.5,329.2 137.8,327.0 139.0,325.7 140.3,324.8 141.6,324.4 142.8,323.4 144.1,324.5 145.3,324.7 146.6,324.0 147.8,324.2 149.1,324.7 150.4,325.1 151.6,325.6 152.9,326.0 154.1,327.0 155.4,325.6 156.7,324.6 157.9,324.6 159.2,326.1 160.4,326.5 161.7,327.7 163.0,326.7 164.2,326.4 165.5,325.1 166.7,322.3 168.0,320.1 169.2,320.1 170.5,319.5 171.8,318.6 173.0,318.0 174.3,320.2 175.5,321.6 176.8,321.5 178.1,319.6 179.3,318.1 180.6,319.0 181.8,318.5 183.1,319.5 184.4,318.4 185.6,318.5 186.9,316.6 188.1,315.9 189.4,317.7 190.6,318.3 191.9,319.3 193.2,318.3 194.4,318.1 195.7,317.4 196.9,317.4 198.2,316.4 199.5,316.2 200.7,313.9 202.0,314.1 203.2,313.3 204.5,313.8 205.7,312.6 207.0,311.0 208.3,309.7 209.5,310.3 210.8,309.5 212.0,311.3 213.3,312.9 214.6,312.6 215.8,314.0 217.1,314.5 218.3,314.1 219.6,312.1 220.9,313.3 222.1,311.4 223.4,309.4 224.6,310.1 225.9,310.9 227.1,310.8 228.4,310.5 229.7,309.7 230.9,311.3 232.2,310.8 233.4,311.1 234.7,311.3 236.0,310.3 237.2,311.6 238.5,310.7 239.7,311.2 241.0,310.1 242.3,309.4 243.5,309.5 244.8,308.2 246.0,308.6 247.3,306.9 248.5,306.2 249.8,307.4 251.1,307.8 252.3,308.3 253.6,308.3 254.8,307.2 256.1,306.9 257.4,307.9 258.6,307.6 259.9,308.2 261.1,308.3 262.4,306.7 263.7,304.9 264.9,306.0 266.2,306.1 267.4,305.1 268.7,304.1 269.9,302.8 271.2,301.3 272.5,299.5 273.7,298.7 275.0,299.7 276.2,300.0 277.5,300.2 278.8,301.2 280.0,300.2 281.3,299.3 282.5,300.4 283.8,298.5 285.1,302.3 286.3,303.7 287.6,307.2 288.8,307.5 290.1,308.7 291.3,309.1 292.6,310.8 293.9,311.4 295.1,313.0 296.4,312.6 297.6,313.7 298.9,313.8 300.2,313.0 301.4,310.2 302.7,309.8 303.9,307.0 305.2,305.4 306.4,305.1 307.7,303.6 309.0,301.7 310.2,301.1 311.5,300.9 312.7,302.4 314.0,302.3 315.3,302.8 316.5,301.6 317.8,302.2 319.0,300.2 320.3,300.4 321.6,301.3 322.8,303.2 324.1,305.1 325.3,307.5 326.6,308.8 327.8,310.2 329.1,311.5 330.4,312.7 331.6,313.4 332.9,311.3 334.1,309.9 335.4,308.3 336.7,306.2 337.9,305.7 339.2,305.2 340.4,306.2 341.7,306.3 343.0,303.3 344.2,302.0 345.5,301.8 346.7,300.1 348.0,299.2 349.2,298.0 350.5,296.8 351.8,298.3 353.0,298.6 354.3,296.9 355.5,295.7 356.8,295.5 358.1,294.8 359.3,294.4 360.6,293.9 361.8,293.5 363.1,291.7 364.4,291.2 365.6,292.6 366.9,293.0 368.1,294.6 369.4,294.9 370.6,294.1 371.9,295.2 373.2,294.5 374.4,293.4 375.7,293.2 376.9,295.2 378.2,293.9 379.5,293.3 380.7,292.8 382.0,293.2 383.2,292.1 384.5,290.6 385.8,289.7 387.0,289.8 388.3,288.6 389.5,289.3 390.8,287.2 392.0,287.3 393.3,288.4 394.6,286.9 395.8,287.1 397.1,287.0 398.3,287.0 399.6,286.3 400.9,288.2 402.1,289.6 403.4,290.2 404.6,290.2 405.9,289.5 407.1,289.5 408.4,290.7 409.7,288.8 410.9,287.8 412.2,288.4 413.4,288.7 414.7,287.5 416.0,284.5 417.2,283.9 418.5,283.2 419.7,283.4 421.0,281.6 422.3,282.6 423.5,282.6 424.8,283.0 426.0,283.9 427.3,282.9 428.5,282.1 429.8,281.5 431.1,283.3 432.3,284.0 433.6,283.3 434.8,283.6 436.1,284.1 437.4,283.8 438.6,281.9 439.9,280.9 441.1,279.9 442.4,278.3 443.7,279.1 444.9,278.3 446.2,279.0 447.4,278.9 448.7,278.0 449.9,277.4 451.2,278.4 452.5,278.1 453.7,279.5 455.0,280.9 456.2,281.3 457.5,282.4 458.8,282.7 460.0,282.3 461.3,281.5 462.5,281.7 463.8,281.8 465.1,279.9 466.3,280.7 467.6,281.4 468.8,282.0 470.1,281.1 471.3,281.5 472.6,280.4 473.9,278.3 475.1,278.8 476.4,279.4 477.6,278.5 478.9,278.2 480.2,278.5 481.4,278.5 482.7,278.5 483.9,278.5 485.2,278.0 486.5,277.9 487.7,275.7 489.0,273.7 490.2,273.5 491.5,272.2 492.7,272.3 494.0,273.3 495.3,273.8 496.5,275.5 497.8,274.4 499.0,275.8 500.3,277.1 501.6,275.3 502.8,276.5 504.1,275.7 505.3,274.2 506.6,274.8 507.8,276.1 509.1,276.5 510.4,275.1 511.6,275.2 512.9,275.3 514.1,273.8 515.4,273.5 516.7,273.0 517.9,273.9 519.2,274.7 520.4,272.5 521.7,270.5 523.0,271.3 524.2,272.1 525.5,271.1 526.7,269.2 528.0,270.4 529.2,269.7 530.5,269.2 531.8,268.3 533.0,267.9 534.3,268.3 535.5,269.5 536.8,271.2 538.1,270.7 539.3,272.8 540.6,274.4 541.8,274.0 543.1,274.5 544.4,272.9 545.6,272.9 546.9,272.7 548.1,272.4 549.4,271.5 550.6,271.8 551.9,270.6 553.2,270.2 554.4,270.8 555.7,271.0 556.9,270.0 558.2,268.9 559.5,267.6 560.7,267.7 562.0,267.0 563.2,266.6 564.5,266.8 565.8,265.9 567.0,262.6 568.3,261.7 569.5,262.6 570.8,263.0 572.0,265.7 573.3,270.9 574.6,275.6 575.8,279.0 577.1,281.9 578.3,283.3 579.6,282.5 580.9,282.8 582.1,282.6 583.4,283.8 584.6,282.0 585.9,277.8 587.1,273.3 588.4,271.6 589.7,270.3 590.9,268.1 592.2,266.7 593.4,264.9 594.7,262.6 596.0,260.5 597.2,258.5 598.5,257.8 599.7,256.7 601.0,253.9 602.3,253.6 603.5,251.8 604.8,251.9 606.0,252.4 607.3,250.7 608.5,250.0 609.8,249.3 611.1,250.2 612.3,251.3 613.6,250.2 614.8,248.9 616.1,248.2 617.4,247.0 618.6,247.5 619.9,246.9 621.1,246.3 622.4,247.1 623.7,246.0 624.9,246.3 626.2,247.5 627.4,246.1 628.7,246.8 629.9,246.2 631.2,243.2 632.5,241.7 633.7,241.1 635.0,239.2 636.2,236.1 637.5,232.2 638.8,231.0 640.0,229.4 641.0,227.0" fill="none" stroke="#79706e" stroke-width="1.5" stroke-linejoin="round" stroke-linecap="round"/>
<polyline points="33.3,229.2 34.6,234.3 35.8,241.7 37.1,247.7 38.3,254.0 39.6,259.9 40.9,263.6 42.1,269.6 43.4,274.7 44.6,281.1 45.9,286.2 47.1,291.3 48.4,295.9 49.7,301.9 50.9,304.8 52.2,306.7 53.4,308.2 54.7,310.8 56.0,315.8 57.2,319.7 58.5,317.4 59.7,315.2 61.0,315.8 62.3,317.6 63.5,317.7 64.8,318.1 66.0,318.0 67.3,318.5 68.5,319.3 69.8,316.3 71.1,313.3 72.3,311.2 73.6,311.4 74.8,311.2 76.1,309.4 77.4,308.9 78.6,308.1 79.9,309.3 81.1,307.9 82.4,308.7 83.7,307.5 84.9,307.6 86.2,308.3 87.4,308.5 88.7,308.3 89.9,306.0 91.2,306.4 92.5,306.0 93.7,307.9 95.0,307.1 96.2,308.4 97.5,308.0 98.8,308.4 100.0,308.9 101.3,309.6 102.5,310.1 103.8,309.2 105.0,309.7 106.3,310.5 107.6,311.1 108.8,310.8 110.1,312.2 111.3,313.1 112.6,312.8 113.9,312.7 115.1,312.7 116.4,314.2 117.6,312.8 118.9,314.3 120.2,312.7 121.4,312.6 122.7,313.7 123.9,313.8 125.2,312.5 126.4,311.7 127.7,312.0 129.0,312.4 130.2,311.2 131.5,311.4 132.7,311.5 134.0,312.8 135.3,313.7 136.5,313.5 137.8,312.6 139.0,312.8 140.3,312.9 141.6,313.1 142.8,312.2 144.1,312.4 145.3,312.1 146.6,312.0 147.8,313.5 149.1,313.0 150.4,312.6 151.6,311.9 152.9,311.4 154.1,312.9 155.4,314.0 156.7,313.8 157.9,312.4 159.2,311.2 160.4,311.8 161.7,310.9 163.0,310.1 164.2,310.6 165.5,308.8 166.7,308.2 168.0,308.5 169.2,307.4 170.5,306.7 171.8,306.8 173.0,308.3 174.3,307.2 175.5,308.3 176.8,307.4 178.1,307.8 179.3,305.8 180.6,304.2 181.8,303.4 183.1,303.8 184.4,302.3 185.6,302.9 186.9,302.0 188.1,303.4 189.4,304.6 190.6,304.9 191.9,303.6 193.2,302.5 194.4,302.7 195.7,301.7 196.9,299.8 198.2,300.2 199.5,300.0 200.7,299.6 202.0,299.6 203.2,298.7 204.5,298.3 205.7,299.7 207.0,298.8 208.3,299.5 209.5,298.4 210.8,299.5 212.0,299.0 213.3,299.5 214.6,299.2 215.8,298.1 217.1,297.2 218.3,295.8 219.6,295.5 220.9,295.6 222.1,297.7 223.4,298.0 224.6,298.0 225.9,299.6 227.1,300.5 228.4,299.2 229.7,299.0 230.9,300.5 232.2,300.3 233.4,300.3 234.7,298.7 236.0,296.8 237.2,296.8 238.5,295.8 239.7,294.6 241.0,292.5 242.3,293.3 243.5,294.5 244.8,294.1 246.0,294.0 247.3,293.1 248.5,293.3 249.8,293.0 251.1,292.3 252.3,294.6 253.6,294.0 254.8,293.5 256.1,294.7 257.4,294.1 258.6,295.4 259.9,294.0 261.1,293.3 262.4,292.5 263.7,291.0 264.9,292.3 266.2,292.1 267.4,292.0 268.7,292.8 269.9,290.7 271.2,291.5 272.5,290.4 273.7,291.4 275.0,292.0 276.2,291.0 277.5,292.4 278.8,292.4 280.0,292.0 281.3,293.3 282.5,294.5 283.8,294.6 285.1,294.6 286.3,293.6 287.6,294.7 288.8,295.5 290.1,295.6 291.3,294.0 292.6,293.7 293.9,292.6 295.1,289.6 296.4,287.3 297.6,286.1 298.9,286.0 300.2,286.9 301.4,287.1 302.7,285.1 303.9,285.1 305.2,286.0 306.4,287.4 307.7,287.5 309.0,288.7 310.2,288.0 311.5,288.1 312.7,288.5 314.0,288.1 315.3,289.3 316.5,289.5 317.8,289.9 319.0,290.3 320.3,290.5 321.6,288.8 322.8,289.2 324.1,289.3 325.3,288.2 326.6,287.5 327.8,288.8 329.1,287.0 330.4,286.0 331.6,288.1 332.9,289.0 334.1,287.9 335.4,287.2 336.7,288.0 337.9,287.9 339.2,287.4 340.4,286.9 341.7,287.1 343.0,286.6 344.2,285.6 345.5,287.1 346.7,286.3 348.0,285.1 349.2,285.1 350.5,283.2 351.8,282.1 353.0,282.0 354.3,280.5 355.5,280.8 356.8,279.9 358.1,281.3 359.3,281.3 360.6,282.1 361.8,280.6 363.1,280.0 364.4,281.2 365.6,282.2 366.9,282.3 368.1,282.1 369.4,283.5 370.6,285.3 371.9,285.0 373.2,282.2 374.4,281.5 375.7,280.5 376.9,277.9 378.2,275.7 379.5,276.6 380.7,275.2 382.0,276.5 383.2,276.1 384.5,278.7 385.8,278.4 387.0,278.9 388.3,279.1 389.5,278.9 390.8,279.2 392.0,278.0 393.3,277.3 394.6,278.9 395.8,277.8 397.1,277.1 398.3,277.5 399.6,277.8 400.9,275.3 402.1,274.2 403.4,272.8 404.6,274.5 405.9,273.8 407.1,274.8 408.4,275.3 409.7,274.9 410.9,277.2 412.2,275.6 413.4,273.9 414.7,274.1 416.0,271.7 417.2,270.8 418.5,270.2 419.7,269.9 421.0,271.8 422.3,273.3 423.5,274.0 424.8,274.7 426.0,275.6 427.3,276.7 428.5,275.2 429.8,274.4 431.1,274.6 432.3,273.5 433.6,272.6 434.8,273.1 436.1,272.9 437.4,271.2 438.6,270.5 439.9,269.4 441.1,269.5 442.4,270.4 443.7,270.0 444.9,269.8 446.2,268.2 447.4,268.4 448.7,270.2 449.9,270.2 451.2,270.8 452.5,269.2 453.7,268.2 455.0,268.2 456.2,269.1 457.5,270.0 458.8,270.7 460.0,270.5 461.3,271.4 462.5,270.6 463.8,269.5 465.1,266.7 466.3,267.7 467.6,266.8 468.8,265.9 470.1,266.3 471.3,266.9 472.6,265.1 473.9,264.9 475.1,264.9 476.4,264.0 477.6,263.4 478.9,263.6 480.2,264.3 481.4,267.1 482.7,267.6 483.9,266.8 485.2,268.0 486.5,266.8 487.7,267.7 489.0,267.5 490.2,266.2 491.5,267.8 492.7,265.8 494.0,266.6 495.3,264.6 496.5,263.6 497.8,260.6 499.0,259.9 500.3,261.1 501.6,262.1 502.8,262.6 504.1,263.0 505.3,263.5 506.6,262.7 507.8,263.5 509.1,264.2 510.4,264.3 511.6,261.5 512.9,261.4 514.1,259.3 515.4,258.4 516.7,259.6 517.9,259.2 519.2,259.6 520.4,261.4 521.7,262.0 523.0,262.5 524.2,262.4 525.5,262.3 526.7,260.7 528.0,259.9 529.2,258.8 530.5,260.0 531.8,259.8 533.0,257.7 534.3,257.8 535.5,259.4 536.8,258.8 538.1,261.1 539.3,259.9 540.6,261.3 541.8,260.3 543.1,260.1 544.4,258.5 545.6,257.9 546.9,257.9 548.1,257.5 549.4,258.4 550.6,258.2 551.9,258.9 553.2,259.8 554.4,260.1 555.7,260.8 556.9,258.7 558.2,257.7 559.5,259.4 560.7,259.4 562.0,259.0 563.2,259.8 564.5,260.1 565.8,257.9 567.0,256.9 568.3,254.9 569.5,253.1 570.8,251.3 572.0,251.0 573.3,251.2 574.6,252.1 575.8,253.4 577.1,255.1 578.3,254.6 579.6,254.5 580.9,254.4 582.1,256.3 583.4,256.2 584.6,255.8 585.9,255.5 587.1,253.3 588.4,254.7 589.7,254.4 590.9,251.8 592.2,249.9 593.4,250.7 594.7,249.6 596.0,248.5 597.2,247.6 598.5,247.7 599.7,248.6 601.0,249.9 602.3,249.7 603.5,251.3 604.8,251.2 606.0,248.9 607.3,249.6 608.5,248.9 609.8,247.9 611.1,246.4 612.3,245.4 613.6,245.2 614.8,244.4 616.1,245.0 617.4,246.0 618.6,245.8 619.9,243.7 621.1,243.6 622.4,241.9 623.7,244.7 624.9,243.7 626.2,242.1 627.4,240.3 628.7,240.5 629.9,237.5 631.2,235.7 632.5,233.0 633.7,229.2 635.0,227.0 635.6,225.7" fill="none" stroke="#ff9d9a" stroke-width="1.5" stroke-linejoin="round" stroke-linecap="round"/>
<polyline points="33.3,229.5 34.6,235.3 35.8,239.8 37.1,245.6 38.3,251.3 39.6,256.9 40.9,261.2 42.1,264.6 43.4,268.5 44.6,272.7 45.9,276.6 47.1,282.0 48.4,286.8 49.7,289.4 50.9,295.8 52.2,302.4 53.4,307.2 54.7,312.7 56.0,317.2 57.2,322.4 58.5,328.2 59.7,331.3 61.0,334.9 62.3,338.6 63.5,342.6 64.8,345.4 66.0,347.0 67.3,347.4 68.5,348.3 69.8,349.9 71.1,350.0 72.3,349.8 73.6,349.0 74.8,349.2 76.1,346.6 77.4,345.3 78.6,346.0 79.9,344.6 81.1,344.2 82.4,343.3 83.7,342.4 84.9,340.3 86.2,340.9 87.4,340.4 88.7,338.6 89.9,338.7 91.2,339.4 92.5,340.9 93.7,341.4 95.0,343.0 96.2,342.3 97.5,341.5 98.8,342.3 100.0,343.8 101.3,343.4 102.5,344.1 103.8,344.4 105.0,345.0 106.3,344.5 107.6,343.1 108.8,344.2 110.1,343.5 111.3,343.2 112.6,342.3 113.9,341.9 115.1,341.7 116.4,342.6 117.6,345.2 118.9,347.0 120.2,348.8 121.4,346.9 122.7,347.1 123.9,346.6 125.2,346.4 126.4,345.3 127.7,345.8 129.0,347.7 130.2,348.5 131.5,348.8 132.7,346.9 134.0,348.2 135.3,347.7 136.5,347.2 137.8,347.0 139.0,346.2 140.3,345.5 141.6,346.8 142.8,348.1 144.1,350.3 145.3,352.8 146.6,354.2 147.8,356.1 149.1,357.7 150.4,354.6 151.6,352.4 152.9,347.5 154.1,344.3 155.4,342.5 156.7,338.4 157.9,336.3 159.2,335.2 160.4,333.8 161.7,331.9 163.0,330.3 164.2,329.1 165.5,328.9 166.7,330.6 168.0,330.1 169.2,329.3 170.5,330.2 171.8,328.9 173.0,327.6 174.3,327.7 175.5,326.4 176.8,327.9 178.1,325.7 179.3,325.5 180.6,323.9 181.8,323.2 183.1,324.2 184.4,322.2 185.6,322.5 186.9,321.9 188.1,319.5 189.4,320.5 190.6,317.9 191.9,318.5 193.2,318.7 194.4,316.5 195.7,315.1 196.9,314.1 198.2,314.1 199.5,313.5 200.7,311.5 202.0,310.0 203.2,309.0 204.5,308.1 205.7,307.4 207.0,307.9 208.3,306.8 209.5,307.4 210.8,306.1 212.0,306.9 213.3,304.2 214.6,304.1 215.8,303.1 217.1,303.0 218.3,300.5 219.6,299.3 220.9,300.4 222.1,299.7 223.4,298.6 224.6,297.0 225.9,297.4 227.1,298.4 228.4,297.4 229.7,297.5 230.9,296.4 232.2,293.5 233.4,293.7 234.7,293.5 236.0,294.7 237.2,295.0 238.5,295.1 239.7,293.8 241.0,294.1 242.3,295.0 243.5,294.5 244.8,294.4 246.0,292.9 247.3,293.4 248.5,292.3 249.8,291.4 251.1,293.0 252.3,292.7 253.6,291.8 254.8,291.9 256.1,290.8 257.4,291.7 258.6,293.0 259.9,292.7 261.1,292.0 262.4,290.3 263.7,289.6 264.9,287.4 266.2,285.4 267.4,284.9 268.7,284.3 269.9,284.8 271.2,284.9 272.5,285.1 273.7,286.9 275.0,286.5 276.2,286.0 277.5,284.9 278.8,285.9 280.0,284.7 281.3,285.7 282.5,283.8 283.8,282.7 285.1,284.6 286.3,284.6 287.6,285.8 288.8,285.9 290.1,285.8 291.3,284.6 292.6,284.4 293.9,282.4 295.1,283.5 296.4,283.4 297.6,283.2 298.9,282.0 300.2,281.9 301.4,282.7 302.7,282.3 303.9,284.8 305.2,286.1 306.4,285.8 307.7,285.3 309.0,284.9 310.2,285.6 311.5,284.0 312.7,283.7 314.0,282.4 315.3,280.9 316.5,279.8 317.8,279.2 319.0,279.0 320.3,277.6 321.6,277.2 322.8,276.8 324.1,279.2 325.3,280.2 326.6,278.9 327.8,279.8 329.1,279.3 330.4,278.9 331.6,278.4 332.9,280.3 334.1,279.9 335.4,282.1 336.7,281.1 337.9,282.7 339.2,281.6 340.4,281.6 341.7,280.1 343.0,279.4 344.2,280.6 345.5,280.4 346.7,280.1 348.0,279.2 349.2,279.4 350.5,280.5 351.8,281.2 353.0,281.5 354.3,280.8 355.5,280.4 356.8,281.1 358.1,280.9 359.3,278.4 360.6,276.9 361.8,274.3 363.1,274.7 364.4,274.4 365.6,273.1 366.9,275.2 368.1,275.8 369.4,275.7 370.6,276.7 371.9,276.4 373.2,276.1 374.4,274.4 375.7,275.0 376.9,274.4 378.2,273.9 379.5,273.6 380.7,273.8 382.0,273.7 383.2,274.2 384.5,275.6 385.8,274.7 387.0,276.1 388.3,274.1 389.5,275.4 390.8,274.4 392.0,273.2 393.3,271.6 394.6,270.3 395.8,270.3 397.1,270.6 398.3,269.4 399.6,271.0 400.9,272.5 402.1,272.7 403.4,273.1 404.6,271.7 405.9,271.7 407.1,270.8 408.4,273.2 409.7,274.2 410.9,272.9 412.2,271.5 413.4,271.9 414.7,272.5 416.0,271.1 417.2,270.5 418.5,271.8 419.7,271.7 421.0,269.1 422.3,268.0 423.5,268.2 424.8,267.2 426.0,267.2 427.3,266.5 428.5,264.4 429.8,264.5 431.1,261.5 432.3,261.4 433.6,261.9 434.8,259.5 436.1,259.8 437.4,258.7 438.6,256.6 439.9,256.5 441.1,257.0 442.4,255.9 443.7,254.3 444.9,254.4 446.2,255.3 447.4,257.0 448.7,256.3 449.9,257.6 451.2,256.9 452.5,257.8 453.7,259.7 455.0,260.4 456.2,258.6 457.5,259.6 458.8,259.1 460.0,258.7 461.3,259.7 462.5,259.7 463.8,258.0 465.1,258.8 466.3,259.9 467.6,258.2 468.8,258.0 470.1,256.1 471.3,257.0 472.6,256.4 473.9,257.3 475.1,257.7 476.4,259.0 477.6,258.6 478.9,257.8 480.2,258.6 481.4,260.7 482.7,259.8 483.9,258.2 485.2,258.1 486.5,257.9 487.7,258.8 489.0,260.5 490.2,261.4 491.5,260.8 492.7,260.2 494.0,258.3 495.3,258.3 496.5,257.5 497.8,256.1 499.0,255.5 500.3,253.9 501.6,252.2 502.8,252.6 504.1,253.2 505.3,251.5 506.6,251.7 507.8,249.9 509.1,249.8 510.4,251.5 511.6,253.5 512.9,255.0 514.1,256.0 515.4,257.6 516.7,257.2 517.9,255.4 519.2,256.3 520.4,259.0 521.7,257.3 523.0,257.9 524.2,257.5 525.5,257.1 526.7,257.7 528.0,254.8 529.2,253.0 530.5,251.5 531.8,250.3 533.0,252.2 534.3,251.1 535.5,252.7 536.8,254.1 538.1,255.9 539.3,256.3 540.6,255.7 541.8,255.8 543.1,254.2 544.4,252.6 545.6,249.0 546.9,247.8 548.1,246.5 549.4,246.1 550.6,247.7 551.9,247.2 553.2,247.2 554.4,245.6 555.7,246.1 556.9,245.4 558.2,246.7 559.5,246.0 560.7,245.1 562.0,243.9 563.2,244.0 564.5,244.9 565.8,244.1 567.0,246.2 568.3,247.4 569.5,246.4 570.8,246.5 572.0,247.1 573.3,246.6 574.6,247.2 575.8,245.0 577.1,243.8 578.3,244.7 579.6,244.6 580.9,243.8 582.1,243.0 583.4,243.2 584.6,243.0 585.9,242.2 587.1,241.4 588.4,241.2 589.7,240.4 590.9,240.1 592.2,239.7 593.4,239.5 594.7,239.0 596.0,237.7 597.2,237.0 598.5,235.3 599.7,233.2 601.0,232.4 602.3,233.2 603.5,231.3 604.8,230.2 606.0,228.9 607.3,226.3 608.5,224.5 608.7,224.6" fill="none" stroke="#e15759" stroke-width="1.5" stroke-linejoin="round" stroke-linecap="round"/>
<polyline points="33.3,229.1 34.6,236.6 35.8,243.8 37.1,250.2 38.3,259.0 39.6,269.7 40.9,277.4 42.1,286.9 43.4,292.6 44.6,296.7 45.9,301.7 47.1,307.7 48.4,316.1 49.7,322.8 50.9,330.7 52.2,338.0 53.4,345.9 54.7,351.0 56.0,356.7 57.2,361.5 58.5,363.3 59.7,364.5 61.0,364.3 62.3,365.1 63.5,366.7 64.8,366.5 66.0,364.4 67.3,362.6 68.5,360.0 69.8,357.9 71.1,356.0 72.3,354.5 73.6,353.3 74.8,352.5 76.1,354.3 77.4,353.8 78.6,355.0 79.9,355.0 81.1,356.7 82.4,359.4 83.7,359.8 84.9,363.2 86.2,364.3 87.4,365.1 88.7,363.9 89.9,362.4 91.2,360.6 92.5,360.5 93.7,358.3 95.0,356.0 96.2,354.0 97.5,355.5 98.8,353.5 100.0,352.4 101.3,350.7 102.5,348.6 103.8,346.0 105.0,343.2 106.3,339.4 107.6,336.0 108.8,337.1 110.1,337.6 111.3,337.9 112.6,337.8 113.9,335.9 115.1,335.2 116.4,337.3 117.6,336.5 118.9,338.4 120.2,339.4 121.4,338.9 122.7,337.9 123.9,335.1 125.2,335.7 126.4,334.2 127.7,334.5 129.0,334.5 130.2,331.9 131.5,331.6 132.7,331.2 134.0,331.1 135.3,333.9 136.5,334.4 137.8,334.0 139.0,334.0 140.3,333.3 141.6,331.5 142.8,332.1 144.1,332.6 145.3,332.9 146.6,333.2 147.8,331.4 149.1,331.1 150.4,330.9 151.6,329.5 152.9,330.2 154.1,328.6 155.4,328.3 156.7,327.8 157.9,328.7 159.2,328.8 160.4,328.4 161.7,327.9 163.0,327.1 164.2,326.5 165.5,324.5 166.7,322.4 168.0,322.0 169.2,323.1 170.5,321.1 171.8,321.6 173.0,320.5 174.3,319.7 175.5,321.2 176.8,321.7 178.1,320.6 179.3,321.2 180.6,321.9 181.8,322.5 183.1,323.8 184.4,324.8 185.6,325.1 186.9,324.3 188.1,324.8 189.4,325.0 190.6,324.1 191.9,322.2 193.2,320.8 194.4,321.4 195.7,321.7 196.9,322.1 198.2,321.8 199.5,319.8 200.7,317.9 202.0,318.4 203.2,318.1 204.5,317.7 205.7,315.5 207.0,315.1 208.3,314.6 209.5,312.4 210.8,311.6 212.0,312.5 213.3,313.9 214.6,315.4 215.8,314.5 217.1,316.3 218.3,314.7 219.6,316.0 220.9,314.5 222.1,315.2 223.4,316.1 224.6,314.6 225.9,314.2 227.1,315.2 228.4,314.9 229.7,314.5 230.9,312.1 232.2,313.2 233.4,312.2 234.7,310.9 236.0,311.8 237.2,310.9 238.5,311.1 239.7,310.9 241.0,308.2 242.3,307.5 243.5,308.0 244.8,306.3 246.0,305.2 247.3,305.6 248.5,306.1 249.8,304.2 251.1,303.2 252.3,304.4 253.6,303.7 254.8,303.1 256.1,303.2 257.4,304.4 258.6,303.8 259.9,302.5 261.1,301.5 262.4,301.9 263.7,301.0 264.9,300.0 266.2,298.4 267.4,299.0 268.7,297.1 269.9,296.7 271.2,295.7 272.5,295.1 273.7,294.4 275.0,294.3 276.2,296.4 277.5,296.0 278.8,297.7 280.0,298.1 281.3,298.6 282.5,299.4 283.8,299.2 285.1,300.0 286.3,298.2 287.6,298.1 288.8,297.9 290.1,296.2 291.3,295.3 292.6,295.9 293.9,296.2 295.1,296.4 296.4,294.2 297.6,293.3 298.9,293.4 300.2,293.3 301.4,292.7 302.7,291.8 303.9,292.1 305.2,293.5 306.4,292.6 307.7,292.0 309.0,293.7 310.2,292.5 311.5,292.9 312.7,293.0 314.0,293.3 315.3,295.0 316.5,293.8 317.8,293.1 319.0,292.3 320.3,292.4 321.6,291.2 322.8,291.7 324.1,293.1 325.3,293.5 326.6,291.8 327.8,290.0 329.1,288.8 330.4,289.2 331.6,288.9 332.9,290.1 334.1,289.1 335.4,289.1 336.7,288.9 337.9,288.9 339.2,289.4 340.4,289.8 341.7,290.0 343.0,288.7 344.2,289.0 345.5,287.1 346.7,287.3 348.0,287.0 349.2,287.8 350.5,287.3 351.8,287.8 353.0,288.1 354.3,286.1 355.5,286.5 356.8,287.2 358.1,286.8 359.3,286.3 360.6,285.0 361.8,286.1 363.1,285.2 364.4,285.9 365.6,284.1 366.9,284.8 368.1,284.7 369.4,285.3 370.6,284.0 371.9,283.0 373.2,281.8 374.4,281.4 375.7,280.0 376.9,280.3 378.2,278.1 379.5,278.0 380.7,277.9 382.0,277.4 383.2,277.5 384.5,279.5 385.8,279.3 387.0,278.7 388.3,279.5 389.5,279.5 390.8,278.9 392.0,280.3 393.3,279.6 394.6,279.7 395.8,280.7 397.1,280.1 398.3,279.0 399.6,277.9 400.9,278.3 402.1,279.3 403.4,277.8 404.6,279.8 405.9,280.6 407.1,280.9 408.4,280.3 409.7,278.9 410.9,278.3 412.2,280.4 413.4,278.6 414.7,277.8 416.0,278.8 417.2,279.1 418.5,279.0 419.7,278.2 421.0,277.1 422.3,278.0 423.5,277.7 424.8,274.9 426.0,275.9 427.3,274.1 428.5,273.7 429.8,274.1 431.1,275.0 432.3,273.9 433.6,273.7 434.8,272.5 436.1,272.2 437.4,273.8 438.6,273.9 439.9,273.1 441.1,275.3 442.4,274.5 443.7,273.3 444.9,272.6 446.2,274.6 447.4,273.4 448.7,274.1 449.9,272.6 451.2,274.2 452.5,272.6 453.7,271.2 455.0,271.1 456.2,270.3 457.5,270.5 458.8,270.6 460.0,270.2 461.3,270.5 462.5,268.3 463.8,269.7 465.1,267.6 466.3,269.3 467.6,269.2 468.8,268.8 470.1,268.2 471.3,267.0 472.6,266.7 473.9,267.9 475.1,269.1 476.4,268.4 477.6,267.4 478.9,268.7 480.2,266.7 481.4,265.9 482.7,266.5 483.9,265.3 485.2,265.0 486.5,266.4 487.7,267.8 489.0,267.5 490.2,267.8 491.5,266.3 492.7,265.9 494.0,265.2 495.3,266.9 496.5,266.9 497.8,266.8 499.0,265.4 500.3,267.0 501.6,266.9 502.8,265.0 504.1,263.6 505.3,262.0 506.6,260.9 507.8,259.9 509.1,261.4 510.4,260.4 511.6,260.3 512.9,261.5 514.1,262.1 515.4,261.9 516.7,261.8 517.9,259.9 519.2,258.3 520.4,258.2 521.7,259.1 523.0,256.7 524.2,256.2 525.5,257.3 526.7,257.2 528.0,258.4 529.2,259.6 530.5,260.5 531.8,260.1 533.0,260.2 534.3,258.8 535.5,260.5 536.8,260.0 538.1,258.6 539.3,257.2 540.6,257.0 541.8,258.3 543.1,256.8 544.4,257.3 545.6,257.7 546.9,256.2 548.1,257.1 549.4,256.6 550.6,257.0 551.9,256.4 553.2,256.2 554.4,253.7 555.7,254.1 556.9,254.5 558.2,252.1 559.5,253.2 560.7,252.0 562.0,252.6 563.2,251.2 564.5,250.7 565.8,251.9 567.0,252.3 568.3,252.7 569.5,252.4 570.8,250.9 572.0,250.4 573.3,249.4 574.6,249.1 575.8,250.2 577.1,249.1 578.3,251.0 579.6,251.0 580.9,249.8 582.1,250.3 583.4,251.9 584.6,252.6 585.9,253.5 587.1,253.9 588.4,252.4 589.7,254.0 590.9,253.9 592.2,253.7 593.4,253.5 594.7,251.1 596.0,249.6 597.2,250.0 598.5,250.1 599.7,251.7 601.0,251.0 602.3,250.0 603.5,250.1 604.8,249.4 606.0,250.1 607.3,249.8 608.5,249.6 609.8,249.7 611.1,250.3 612.3,248.4 613.6,246.7 614.8,246.7 616.1,245.0 617.4,243.8 618.6,244.3 619.9,242.7 621.1,240.0 622.4,238.3 623.7,235.0 624.9,232.9 626.2,230.5 627.4,228.8 628.3,228.0" fill="none" stroke="#86bcb6" stroke-width="1.5" stroke-linejoin="round" stroke-linecap="round"/>
<polyline points="33.3,229.1 34.6,233.4 35.8,239.0 37.1,243.4 38.3,247.6 39.6,250.2 40.9,252.0 42.1,255.0 43.4,257.9 44.6,258.4 45.9,259.6 47.1,258.9 48.4,258.2 49.7,259.2 50.9,257.7 52.2,258.3 53.4,257.9 54.7,256.3 56.0,257.0 57.2,259.0 58.5,258.6 59.7,260.3 61.0,261.7 62.3,264.8 63.5,267.2 64.8,268.2 66.0,269.7 67.3,269.0 68.5,269.9 69.8,270.6 71.1,270.3 72.3,268.3 73.6,268.0 74.8,270.5 76.1,271.3 77.4,271.3 78.6,271.3 79.9,269.9 81.1,271.1 82.4,270.9 83.7,269.3 84.9,268.4 86.2,270.1 87.4,270.5 88.7,267.8 89.9,267.3 91.2,269.7 92.5,270.0 93.7,271.1 95.0,270.3 96.2,269.5 97.5,270.7 98.8,269.2 100.0,269.9 101.3,269.4 102.5,267.0 103.8,267.9 105.0,268.7 106.3,266.8 107.6,267.3 108.8,267.4 110.1,266.4 111.3,266.6 112.6,266.7 113.9,266.2 115.1,265.4 116.4,263.8 117.6,263.4 118.9,263.6 120.2,262.1 121.4,263.8 122.7,264.1 123.9,265.7 125.2,263.7 126.4,262.8 127.7,261.5 129.0,259.5 130.2,259.7 131.5,260.2 132.7,259.8 134.0,260.3 135.3,259.9 136.5,257.4 137.8,258.8 139.0,260.0 140.3,259.8 141.6,261.5 142.8,261.3 144.1,260.1 145.3,260.3 146.6,260.5 147.8,261.4 149.1,263.0 150.4,263.5 151.6,264.1 152.9,265.1 154.1,264.2 155.4,263.4 156.7,265.3 157.9,266.2 159.2,265.0 160.4,265.1 161.7,264.6 163.0,263.9 164.2,265.1 165.5,264.6 166.7,263.8 168.0,264.4 169.2,264.6 170.5,263.0 171.8,262.7 173.0,261.4 174.3,260.5 175.5,259.8 176.8,259.2 178.1,258.3 179.3,257.0 180.6,258.6 181.8,257.9 183.1,256.6 184.4,256.6 185.6,258.3 186.9,257.0 188.1,258.8 189.4,258.2 190.6,256.8 191.9,258.6 193.2,257.3 194.4,258.4 195.7,256.3 196.9,255.2 198.2,255.7 199.5,254.1 200.7,254.7 202.0,253.7 203.2,254.6 204.5,253.6 205.7,253.8 207.0,253.0 208.3,252.7 209.5,253.0 210.8,251.8 212.0,251.8 213.3,250.7 214.6,250.5 215.8,249.2 217.1,249.0 218.3,248.8 219.6,249.0 220.9,250.5 222.1,250.8 223.4,249.2 224.6,248.9 225.9,249.0 227.1,249.0 228.4,248.0 229.7,246.0 230.9,246.2 232.2,245.3 233.4,243.9 234.7,243.1 236.0,244.2 237.2,243.1 238.5,242.5 239.7,242.4 241.0,242.1 242.3,242.4 243.5,241.6 244.8,241.0 246.0,242.1 247.3,241.7 248.5,244.4 249.8,246.2 251.1,244.1 252.3,244.4 253.6,245.0 254.8,244.2 256.1,246.4 257.4,246.2 258.6,245.8 259.9,245.4 261.1,246.0 262.4,246.3 263.7,247.6 264.9,248.0 266.2,248.8 267.4,248.3 268.7,247.3 269.9,245.9 271.2,247.4 272.5,246.5 273.7,247.3 275.0,245.2 276.2,244.5 277.5,245.8 278.8,245.9 280.0,244.8 281.3,246.3 282.5,247.7 283.8,248.4 285.1,248.8 286.3,247.7 287.6,248.0 288.8,249.3 290.1,249.5 291.3,247.8 292.6,247.6 293.9,247.8 295.1,248.1 296.4,249.0 297.6,249.3 298.9,252.0 300.2,251.2 301.4,252.9 302.7,253.2 303.9,252.0 305.2,251.1 306.4,252.9 307.7,252.5 309.0,253.6 310.2,254.4 311.5,254.6 312.7,255.6 314.0,256.2 315.3,256.5 316.5,255.8 317.8,257.7 319.0,258.5 320.3,257.1 321.6,257.9 322.8,257.9 324.1,259.0 325.3,259.2 326.6,259.4 327.8,259.6 329.1,261.7 330.4,262.0 331.6,261.6 332.9,263.3 334.1,265.7 335.4,265.2 336.7,267.2 337.9,267.7 339.2,267.9 340.4,266.7 341.7,266.2 343.0,267.9 344.2,267.7 345.5,269.0 346.7,268.4 348.0,270.8 349.2,270.4 350.5,271.7 351.8,271.8 353.0,271.8 354.3,271.9 355.5,269.5 356.8,270.4 358.1,269.2 359.3,271.6 360.6,272.8 361.8,272.5 363.1,273.1 364.4,272.6 365.6,272.6 366.9,273.2 368.1,273.6 369.4,275.1 370.6,276.6 371.9,276.5 373.2,274.5 374.4,275.4 375.7,274.6 376.9,273.9 378.2,273.3 379.5,273.0 380.7,275.5 382.0,275.7 383.2,277.2 384.5,276.2 385.8,278.1 387.0,278.5 388.3,278.9 389.5,277.9 390.8,277.2 392.0,274.7 393.3,274.5 394.6,274.7 395.8,273.0 397.1,272.9 398.3,274.1 399.6,275.5 400.9,275.9 402.1,274.4 403.4,273.3 404.6,273.9 405.9,274.0 407.1,274.8 408.4,274.4 409.7,274.2 410.9,273.4 412.2,272.2 413.4,272.0 414.7,271.6 416.0,271.0 417.2,270.9 418.5,270.2 419.7,270.3 421.0,269.8 422.3,270.8 423.5,271.3 424.8,273.0 426.0,274.5 427.3,273.5 428.5,273.7 429.8,273.3 431.1,273.9 432.3,272.6 433.6,273.2 434.8,272.1 436.1,273.6 437.4,272.2 438.6,272.2 439.9,272.7 441.1,273.4 442.4,274.1 443.7,272.1 444.9,270.9 446.2,270.8 447.4,270.8 448.7,270.6 449.9,269.8 451.2,268.3 452.5,268.9 453.7,268.7 455.0,269.4 456.2,269.6 457.5,270.2 458.8,269.5 460.0,269.2 461.3,267.8 462.5,268.9 463.8,268.9 465.1,265.7 466.3,266.2 467.6,266.8 468.8,266.7 470.1,267.6 471.3,268.5 472.6,268.8 473.9,267.4 475.1,269.1 476.4,267.7 477.6,268.3 478.9,267.0 480.2,268.8 481.4,268.1 482.7,268.9 483.9,269.3 485.2,267.7 486.5,268.7 487.7,270.0 489.0,270.1 490.2,269.7 491.5,268.0 492.7,267.7 494.0,268.5 495.3,267.6 496.5,265.5 497.8,263.2 499.0,263.2 500.3,262.9 501.6,262.8 502.8,262.4 504.1,264.4 505.3,263.4 506.6,263.2 507.8,264.5 509.1,264.8 510.4,264.3 511.6,263.5 512.9,263.4 514.1,263.5 515.4,261.2 516.7,262.4 517.9,263.7 519.2,263.7 520.4,265.7 521.7,266.8 523.0,268.5 524.2,269.1 525.5,268.6 526.7,267.5 528.0,266.2 529.2,266.3 530.5,265.6 531.8,265.8 533.0,264.2 534.3,264.7 535.5,262.0 536.8,262.0 538.1,260.1 539.3,260.0 540.6,260.5 541.8,259.7 543.1,259.3 544.4,261.6 545.6,261.7 546.9,261.6 548.1,261.4 549.4,262.5 550.6,262.8 551.9,263.5 553.2,261.8 554.4,262.1 555.7,261.0 556.9,259.7 558.2,260.0 559.5,259.6 560.7,258.5 562.0,260.3 563.2,259.4 564.5,258.6 565.8,260.4 567.0,260.8 568.3,261.5 569.5,260.1 570.8,260.8 572.0,260.6 573.3,260.8 574.6,260.9 575.8,259.7 577.1,260.8 578.3,258.6 579.6,258.5 580.9,259.9 582.1,259.4 583.4,258.6 584.6,257.8 585.9,257.6 587.1,255.6 588.4,256.6 589.7,256.1 590.9,255.3 592.2,255.1 593.4,253.9 594.7,255.4 596.0,255.2 597.2,253.8 598.5,252.4 599.7,253.5 601.0,254.5 602.3,252.9 603.5,253.4 604.8,254.2 606.0,252.6 607.3,252.8 608.5,252.5 609.8,251.1 611.1,252.0 612.3,251.0 613.6,252.1 614.8,250.7 616.1,249.6 617.4,249.8 618.6,249.4 619.9,249.8 621.1,248.4 622.4,248.0 623.7,246.6 624.9,247.2 626.2,248.1 627.4,247.6 628.7,247.5 629.9,248.4 631.2,247.7 632.5,246.9 633.7,247.7 635.0,247.9 636.2,247.0 637.5,248.2 638.8,246.7 640.0,246.8 641.3,248.4 642.5,249.2 643.8,247.4 645.1,247.4 646.3,246.6 647.6,247.9 648.8,248.6 650.1,247.5 651.3,246.2 652.6,246.0 653.9,246.4 655.1,247.7 656.4,245.6 657.6,247.0 658.9,247.7 660.2,246.9 661.4,244.9 662.7,244.8 663.9,245.6 665.2,244.3 666.5,245.4 667.7,245.9 669.0,244.8 670.2,246.2 671.5,247.3 672.7,245.8 674.0,244.3 675.3,243.4 676.5,242.4 677.8,243.5 679.0,241.4 680.3,238.7 681.6,237.6 682.8,236.2 684.1,231.8 685.3,228.6 686.6,224.5 687.9,223.3 689.1,226.7 690.2,229.6" fill="none" stroke="#499894" stroke-width="1.5" stroke-linejoin="round" stroke-linecap="round"/>
<polyline points="33.3,229.8 34.6,234.8 35.8,238.1 37.1,243.0 38.3,246.7 39.6,249.2 40.9,253.7 42.1,257.2 43.4,261.2 44.6,263.2 45.9,263.9 47.1,264.5 48.4,265.3 49.7,265.9 50.9,266.8 52.2,269.1 53.4,271.4 54.7,272.1 56.0,271.2 57.2,272.0 58.5,272.1 59.7,272.9 61.0,271.3 62.3,271.2 63.5,269.6 64.8,271.5 66.0,272.1 67.3,272.0 68.5,272.5 69.8,274.3 71.1,274.5 72.3,275.7 73.6,273.0 74.8,272.8 76.1,273.4 77.4,274.4 78.6,275.1 79.9,275.4 81.1,274.3 82.4,274.9 83.7,274.7 84.9,274.1 86.2,273.3 87.4,275.2 88.7,274.6 89.9,273.3 91.2,272.8 92.5,272.1 93.7,271.6 95.0,273.4 96.2,273.5 97.5,273.2 98.8,273.1 100.0,272.9 101.3,273.4 102.5,273.7 103.8,272.2 105.0,272.5 106.3,273.9 107.6,274.0 108.8,273.5 110.1,273.0 111.3,272.5 112.6,271.4 113.9,271.0 115.1,270.0 116.4,269.1 117.6,268.6 118.9,270.6 120.2,271.2 121.4,268.9 122.7,268.7 123.9,267.9 125.2,268.2 126.4,269.0 127.7,268.3 129.0,268.5 130.2,267.5 131.5,267.7 132.7,266.4 134.0,266.0 135.3,265.7 136.5,265.0 137.8,265.1 139.0,266.0 140.3,265.7 141.6,266.7 142.8,265.4 144.1,266.4 145.3,267.2 146.6,268.0 147.8,267.5 149.1,266.0 150.4,266.2 151.6,266.0 152.9,265.1 154.1,265.1 155.4,263.5 156.7,262.7 157.9,262.2 159.2,263.7 160.4,261.4 161.7,260.7 163.0,261.4 164.2,262.3 165.5,261.5 166.7,261.4 168.0,262.8 169.2,262.5 170.5,262.3 171.8,263.1 173.0,264.3 174.3,263.8 175.5,264.2 176.8,262.9 178.1,264.5 179.3,265.7 180.6,266.0 181.8,264.0 183.1,265.3 184.4,265.7 185.6,264.0 186.9,264.0 188.1,263.4 189.4,263.5 190.6,264.6 191.9,263.1 193.2,264.0 194.4,264.7 195.7,263.3 196.9,263.4 198.2,265.5 199.5,266.9 200.7,266.3 202.0,267.7 203.2,267.7 204.5,266.1 205.7,267.5 207.0,266.9 208.3,267.3 209.5,269.1 210.8,267.9 212.0,269.4 213.3,268.7 214.6,269.1 215.8,268.3 217.1,268.7 218.3,267.8 219.6,268.3 220.9,268.1 222.1,268.4 223.4,266.8 224.6,268.2 225.9,267.4 227.1,268.8 228.4,268.5 229.7,269.0 230.9,268.6 232.2,267.6 233.4,269.6 234.7,269.8 236.0,270.7 237.2,270.2 238.5,269.3 239.7,268.8 241.0,269.7 242.3,270.3 243.5,270.4 244.8,268.9 246.0,268.4 247.3,268.6 248.5,267.8 249.8,267.9 251.1,268.4 252.3,268.1 253.6,268.4 254.8,269.5 256.1,270.5 257.4,270.0 258.6,271.2 259.9,269.4 261.1,268.5 262.4,268.3 263.7,269.8 264.9,268.8 266.2,269.9 267.4,269.2 268.7,270.4 269.9,270.2 271.2,269.4 272.5,271.2 273.7,272.2 275.0,272.5 276.2,271.2 277.5,271.0 278.8,270.0 280.0,271.1 281.3,270.3 282.5,270.5 283.8,270.7 285.1,271.7 286.3,270.8 287.6,270.3 288.8,271.5 290.1,269.8 291.3,268.9 292.6,269.2 293.9,268.6 295.1,270.8 296.4,270.7 297.6,271.6 298.9,269.8 300.2,270.2 301.4,271.5 302.7,270.0 303.9,271.6 305.2,272.9 306.4,273.2 307.7,271.3 309.0,271.5 310.2,271.7 311.5,271.5 312.7,272.5 314.0,271.5 315.3,270.7 316.5,272.4 317.8,272.1 319.0,272.3 320.3,272.0 321.6,272.1 322.8,270.8 324.1,270.2 325.3,270.1 326.6,271.0 327.8,270.4 329.1,272.4 330.4,271.4 331.6,272.9 332.9,273.1 334.1,271.8 335.4,271.5 336.7,272.4 337.9,273.8 339.2,272.6 340.4,271.5 341.7,270.8 343.0,272.0 344.2,270.5 345.5,269.5 346.7,270.7 348.0,271.4 349.2,270.1 350.5,270.3 351.8,268.9 353.0,269.3 354.3,268.4 355.5,269.4 356.8,269.4 358.1,269.7 359.3,270.7 360.6,269.7 361.8,268.6 363.1,267.5 364.4,268.2 365.6,268.6 366.9,269.1 368.1,268.2 369.4,267.6 370.6,267.7 371.9,268.0 373.2,266.9 374.4,266.2 375.7,266.9 376.9,265.0 378.2,263.8 379.5,263.7 380.7,264.2 382.0,263.6 383.2,264.8 384.5,263.4 385.8,263.7 387.0,265.2 388.3,263.5 389.5,262.2 390.8,263.5 392.0,263.8 393.3,262.0 394.6,260.9 395.8,260.3 397.1,261.1 398.3,260.3 399.6,260.2 400.9,257.6 402.1,256.7 403.4,260.1 404.6,262.0 405.9,262.3 407.1,262.0 408.4,262.7 409.7,264.3 410.9,264.2 412.2,263.7 413.4,264.0 414.7,264.7 416.0,263.9 417.2,265.3 418.5,266.1 419.7,265.7 421.0,264.5 422.3,265.8 423.5,264.8 424.8,265.6 426.0,266.3 427.3,265.5 428.5,264.7 429.8,265.2 431.1,264.5 432.3,266.5 433.6,267.1 434.8,266.7 436.1,265.8 437.4,265.8 438.6,267.5 439.9,268.3 441.1,268.9 442.4,267.0 443.7,266.8 444.9,267.7 446.2,268.4 447.4,266.9 448.7,267.7 449.9,268.7 451.2,268.2 452.5,268.9 453.7,266.9 455.0,267.5 456.2,268.3 457.5,268.1 458.8,268.5 460.0,267.7 461.3,266.9 462.5,267.2 463.8,266.4 465.1,265.1 466.3,265.4 467.6,265.3 468.8,265.9 470.1,266.8 471.3,266.9 472.6,266.7 473.9,265.6 475.1,266.7 476.4,264.9 477.6,264.6 478.9,263.9 480.2,264.5 481.4,265.0 482.7,266.7 483.9,266.7 485.2,265.3 486.5,264.9 487.7,264.8 489.0,266.1 490.2,265.4 491.5,264.4 492.7,264.3 494.0,264.8 495.3,265.9 496.5,264.5 497.8,265.3 499.0,263.9 500.3,264.6 501.6,264.0 502.8,264.4 504.1,265.3 505.3,263.6 506.6,262.8 507.8,262.9 509.1,264.4 510.4,265.3 511.6,266.5 512.9,266.2 514.1,266.7 515.4,267.6 516.7,265.6 517.9,265.9 519.2,266.3 520.4,267.0 521.7,266.4 523.0,267.6 524.2,266.9 525.5,265.8 526.7,265.3 528.0,266.2 529.2,265.9 530.5,267.6 531.8,269.0 533.0,267.1 534.3,268.1 535.5,269.7 536.8,268.7 538.1,267.9 539.3,268.2 540.6,270.0 541.8,268.0 543.1,266.9 544.4,267.2 545.6,266.6 546.9,267.0 548.1,268.1 549.4,269.7 550.6,269.9 551.9,269.3 553.2,270.4 554.4,268.8 555.7,270.0 556.9,269.8 558.2,268.9 559.5,270.4 560.7,271.4 562.0,271.3 563.2,273.1 564.5,272.7 565.8,272.0 567.0,270.2 568.3,269.5 569.5,269.9 570.8,269.6 572.0,268.7 573.3,268.6 574.6,268.8 575.8,268.0 577.1,268.2 578.3,267.8 579.6,268.1 580.9,268.2 582.1,266.8 583.4,266.2 584.6,266.3 585.9,267.7 587.1,268.4 588.4,267.3 589.7,266.7 590.9,266.8 592.2,266.9 593.4,268.4 594.7,269.2 596.0,269.5 597.2,268.7 598.5,270.0 599.7,270.6 601.0,270.2 602.3,269.6 603.5,268.5 604.8,268.0 606.0,267.3 607.3,266.9 608.5,267.1 609.8,265.8 611.1,264.8 612.3,263.6 613.6,262.0 614.8,260.8 616.1,258.7 617.4,257.5 618.6,259.0 619.9,258.4 621.1,259.6 622.4,258.6 623.7,258.3 624.9,256.2 626.2,256.2 627.4,256.0 628.7,256.2 629.9,253.2 631.2,252.3 632.5,253.5 633.7,252.6 635.0,250.8 636.2,251.6 637.5,249.7 638.8,249.1 640.0,250.2 641.3,250.7 642.5,248.9 643.8,249.5 645.1,249.4 646.3,248.2 647.6,246.9 648.8,247.3 650.1,247.0 651.3,245.3 652.6,243.5 653.9,244.1 655.1,243.0 656.4,242.4 657.6,240.7 658.9,240.0 660.2,239.5 661.4,235.5 662.7,232.2 663.9,229.5 664.0,230.8" fill="none" stroke="#f1ce63" stroke-width="1.5" stroke-linejoin="round" stroke-linecap="round"/>
<polyline points="33.3,229.6 34.6,234.4 35.8,239.1 37.1,244.5 38.3,250.0 39.6,252.4 40.9,253.4 42.1,256.7 43.4,257.9 44.6,260.0 45.9,261.6 47.1,264.2 48.4,267.1 49.7,268.2 50.9,271.2 52.2,271.5 53.4,273.4 54.7,275.5 56.0,277.5 57.2,277.8 58.5,278.2 59.7,277.3 61.0,278.4 62.3,280.7 63.5,280.9 64.8,282.1 66.0,282.6 67.3,286.8 68.5,294.9 69.8,298.2 71.1,295.0 72.3,295.1 73.6,293.8 74.8,294.7 76.1,295.4 77.4,295.7 78.6,296.8 79.9,296.4 81.1,296.8 82.4,296.7 83.7,297.1 84.9,297.1 86.2,298.0 87.4,299.8 88.7,301.0 89.9,300.5 91.2,300.6 92.5,298.3 93.7,298.1 95.0,298.9 96.2,299.9 97.5,297.8 98.8,299.5 100.0,300.2 101.3,298.1 102.5,298.1 103.8,299.5 105.0,298.4 106.3,297.3 107.6,297.8 108.8,297.9 110.1,298.2 111.3,296.6 112.6,296.8 113.9,296.1 115.1,298.1 116.4,298.9 117.6,299.6 118.9,297.6 120.2,296.9 121.4,298.5 122.7,298.3 123.9,299.4 125.2,299.5 126.4,297.9 127.7,297.5 129.0,299.1 130.2,298.6 131.5,298.9 132.7,299.6 134.0,298.5 135.3,298.2 136.5,299.2 137.8,298.4 139.0,299.0 140.3,299.6 141.6,299.2 142.8,299.1 144.1,301.1 145.3,302.0 146.6,301.9 147.8,301.8 149.1,303.1 150.4,302.4 151.6,301.2 152.9,301.6 154.1,301.9 155.4,302.3 156.7,302.0 157.9,302.4 159.2,301.4 160.4,302.9 161.7,304.2 163.0,304.4 164.2,304.7 165.5,305.3 166.7,304.1 168.0,303.4 169.2,304.1 170.5,302.8 171.8,302.3 173.0,302.8 174.3,301.3 175.5,303.2 176.8,303.8 178.1,302.7 179.3,302.4 180.6,301.3 181.8,300.9 183.1,299.4 184.4,299.2 185.6,298.4 186.9,298.3 188.1,298.7 189.4,299.0 190.6,296.4 191.9,294.7 193.2,294.7 194.4,295.1 195.7,293.7 196.9,292.5 198.2,292.4 199.5,289.4 200.7,285.9 202.0,284.1 203.2,282.5 204.5,279.8 205.7,278.8 207.0,277.4 208.3,276.4 209.5,273.9 210.8,271.2 212.0,269.6 213.3,268.3 214.6,267.1 215.8,266.6 217.1,264.8 218.3,265.5 219.6,262.8 220.9,262.3 222.1,259.5 223.4,258.8 224.6,256.6 225.9,256.3 227.1,254.9 228.4,255.3 229.7,255.2 230.9,256.0 232.2,255.7 233.4,255.1 234.7,255.4 236.0,256.5 237.2,255.8 238.5,254.4 239.7,253.3 241.0,254.6 242.3,256.6 243.5,257.3 244.8,258.3 246.0,256.5 247.3,256.0 248.5,255.0 249.8,254.0 251.1,255.3 252.3,254.2 253.6,251.8 254.8,251.4 256.1,248.6 257.4,249.5 258.6,249.7 259.9,250.2 261.1,252.4 262.4,253.3 263.7,253.8 264.9,254.4 266.2,254.9 267.4,255.3 268.7,255.1 269.9,254.0 271.2,254.2 272.5,253.7 273.7,253.0 275.0,252.5 276.2,254.8 277.5,254.5 278.8,254.8 280.0,254.3 281.3,255.4 282.5,257.1 283.8,257.6 285.1,258.1 286.3,258.4 287.6,257.3 288.8,257.1 290.1,257.5 291.3,259.1 292.6,260.6 293.9,261.6 295.1,261.5 296.4,260.8 297.6,258.6 298.9,256.9 300.2,257.8 301.4,257.0 302.7,258.0 303.9,259.2 305.2,257.5 306.4,258.9 307.7,258.4 309.0,258.9 310.2,258.8 311.5,260.0 312.7,260.5 314.0,261.5 315.3,261.7 316.5,262.2 317.8,261.8 319.0,259.8 320.3,258.6 321.6,258.8 322.8,257.7 324.1,257.1 325.3,257.7 326.6,259.0 327.8,259.1 329.1,261.4 330.4,261.8 331.6,263.0 332.9,265.4 334.1,266.9 335.4,266.9 336.7,267.5 337.9,265.9 339.2,265.0 340.4,266.0 341.7,264.9 343.0,266.8 344.2,266.5 345.5,267.0 346.7,269.1 348.0,268.6 349.2,270.2 350.5,269.2 351.8,270.3 353.0,270.3 354.3,264.6 355.5,266.9 356.8,271.2 358.1,270.9 359.3,271.1 360.6,272.2 361.8,273.1 363.1,273.5 364.4,274.0 365.6,274.5 366.9,273.9 368.1,274.3 369.4,274.8 370.6,275.9 371.9,274.9 373.2,274.2 374.4,274.6 375.7,274.5 376.9,274.4 378.2,274.3 379.5,274.8 380.7,273.7 382.0,273.6 383.2,275.4 384.5,274.9 385.8,275.0 387.0,273.4 388.3,272.7 389.5,275.5 390.8,274.9 392.0,277.2 393.3,276.8 394.6,278.1 395.8,278.1 397.1,277.3 398.3,277.6 399.6,279.4 400.9,279.2 402.1,279.4 403.4,277.4 404.6,278.9 405.9,278.1 407.1,277.7 408.4,276.9 409.7,275.7 410.9,275.2 412.2,276.4 413.4,277.7 414.7,277.8 416.0,278.6 417.2,277.8 418.5,276.7 419.7,276.8 421.0,275.2 422.3,273.9 423.5,272.9 424.8,273.3 426.0,274.3 427.3,273.5 428.5,273.2 429.8,273.1 431.1,271.4 432.3,272.2 433.6,272.9 434.8,270.8 436.1,272.3 437.4,272.0 438.6,271.4 439.9,269.8 441.1,270.5 442.4,270.9 443.7,271.6 444.9,270.1 446.2,269.7 447.4,271.7 448.7,273.0 449.9,272.0 451.2,272.2 452.5,270.8 453.7,271.4 455.0,271.6 456.2,269.1 457.5,268.0 458.8,268.9 460.0,267.3 461.3,268.4 462.5,268.5 463.8,269.3 465.1,268.9 466.3,270.3 467.6,270.4 468.8,269.9 470.1,268.3 471.3,269.3 472.6,269.7 473.9,268.4 475.1,266.5 476.4,266.6 477.6,267.5 478.9,268.9 480.2,270.0 481.4,269.6 482.7,269.2 483.9,269.7 485.2,270.5 486.5,270.4 487.7,270.4 489.0,269.8 490.2,270.8 491.5,269.7 492.7,269.1 494.0,268.1 495.3,268.8 496.5,267.3 497.8,268.8 499.0,267.9 500.3,268.8 501.6,268.3 502.8,266.2 504.1,267.1 505.3,266.0 506.6,265.2 507.8,265.5 509.1,266.0 510.4,265.2 511.6,265.4 512.9,266.2 514.1,265.5 515.4,265.1 516.7,265.4 517.9,267.1 519.2,268.0 520.4,268.4 521.7,268.9 523.0,268.2 524.2,266.4 525.5,266.3 526.7,266.4 528.0,265.7 529.2,265.2 530.5,264.9 531.8,265.0 533.0,263.4 534.3,263.1 535.5,261.4 536.8,262.2 538.1,260.9 539.3,261.3 540.6,259.8 541.8,259.7 543.1,258.6 544.4,260.2 545.6,259.7 546.9,259.0 548.1,260.1 549.4,260.3 550.6,259.6 551.9,259.8 553.2,262.2 554.4,261.3 555.7,263.1 556.9,262.8 558.2,263.5 559.5,263.8 560.7,264.0 562.0,262.7 563.2,263.8 564.5,262.2 565.8,263.1 567.0,263.2 568.3,262.1 569.5,260.4 570.8,260.7 572.0,259.4 573.3,259.1 574.6,259.8 575.8,260.2 577.1,260.0 578.3,261.2 579.6,259.6 580.9,260.5 582.1,260.3 583.4,259.4 584.6,257.9 585.9,257.2 587.1,257.0 588.4,256.1 589.7,258.3 590.9,258.8 592.2,259.1 593.4,258.7 594.7,258.8 596.0,258.0 597.2,258.8 598.5,258.0 599.7,257.3 601.0,255.2 602.3,253.4 603.5,252.3 604.8,252.9 606.0,251.8 607.3,252.0 608.5,253.2 609.8,254.6 611.1,256.8 612.3,256.9 613.6,256.4 614.8,256.1 616.1,255.3 617.4,253.8 618.6,254.9 619.9,255.2 621.1,253.1 622.4,252.2 623.7,252.1 624.9,250.6 626.2,250.6 627.4,248.9 628.7,248.6 629.9,246.7 631.2,246.0 632.5,245.5 633.7,246.6 635.0,245.8 636.2,247.6 637.5,247.4 638.8,247.2 640.0,246.8 641.3,247.3 642.5,245.4 643.8,244.7 645.1,244.5 646.3,245.2 647.6,244.2 648.8,242.6 650.1,239.4 651.3,236.9 652.6,235.4 653.9,233.9 655.1,231.4 656.4,228.3 657.0,228.0" fill="none" stroke="#b6992d" stroke-width="1.5" stroke-linejoin="round" stroke-linecap="round"/>
<polyline points="33.3,228.5 34.6,232.4 35.8,237.1 37.1,242.8 38.3,247.4 39.6,250.5 40.9,253.0 42.1,257.9 43.4,259.5 44.6,259.2 45.9,261.7 47.1,262.7 48.4,263.3 49.7,264.7 50.9,264.4 52.2,268.0 53.4,273.1 54.7,273.5 56.0,269.3 57.2,270.2 58.5,269.8 59.7,269.9 61.0,270.3 62.3,273.0 63.5,273.4 64.8,275.3 66.0,277.3 67.3,280.9 68.5,282.9 69.8,283.1 71.1,279.2 72.3,279.3 73.6,281.9 74.8,283.8 76.1,283.2 77.4,281.6 78.6,282.3 79.9,285.0 81.1,286.2 82.4,285.7 83.7,285.1 84.9,285.7 86.2,286.1 87.4,286.2 88.7,287.5 89.9,287.6 91.2,286.6 92.5,288.2 93.7,288.9 95.0,287.6 96.2,288.3 97.5,289.9 98.8,289.8 100.0,290.0 101.3,289.7 102.5,289.6 103.8,291.2 105.0,290.0 106.3,290.0 107.6,288.8 108.8,289.4 110.1,290.0 111.3,290.3 112.6,291.2 113.9,289.8 115.1,289.5 116.4,289.6 117.6,289.6 118.9,291.2 120.2,290.1 121.4,290.4 122.7,292.1 123.9,291.3 125.2,291.1 126.4,290.9 127.7,290.3 129.0,288.6 130.2,288.1 131.5,285.5 132.7,285.2 134.0,287.3 135.3,288.2 136.5,287.9 137.8,288.1 139.0,288.1 140.3,287.7 141.6,288.1 142.8,288.2 144.1,289.0 145.3,288.7 146.6,289.4 147.8,288.1 149.1,290.2 150.4,288.3 151.6,288.8 152.9,288.7 154.1,288.0 155.4,290.1 156.7,289.5 157.9,288.7 159.2,288.8 160.4,288.5 161.7,289.4 163.0,291.2 164.2,292.1 165.5,290.6 166.7,291.4 168.0,291.1 169.2,291.5 170.5,289.8 171.8,288.7 173.0,288.3 174.3,290.3 175.5,288.9 176.8,288.1 178.1,288.9 179.3,287.9 180.6,287.6 181.8,289.5 183.1,287.9 184.4,288.8 185.6,288.8 186.9,287.4 188.1,286.4 189.4,285.1 190.6,286.3 191.9,288.1 193.2,290.2 194.4,290.4 195.7,290.0 196.9,291.3 198.2,290.7 199.5,290.2 200.7,290.3 202.0,291.5 203.2,291.4 204.5,291.9 205.7,292.5 207.0,291.6 208.3,292.3 209.5,291.0 210.8,291.5 212.0,291.7 213.3,291.6 214.6,291.0 215.8,292.5 217.1,291.9 218.3,291.9 219.6,291.1 220.9,293.0 222.1,293.8 223.4,292.2 224.6,292.1 225.9,291.8 227.1,291.5 228.4,293.2 229.7,293.3 230.9,294.0 232.2,293.6 233.4,292.3 234.7,291.7 236.0,290.5 237.2,291.9 238.5,293.0 239.7,292.8 241.0,293.8 242.3,295.0 243.5,294.5 244.8,294.3 246.0,296.0 247.3,297.9 248.5,297.9 249.8,299.2 251.1,298.1 252.3,296.1 253.6,294.9 254.8,294.7 256.1,295.5 257.4,295.5 258.6,295.9 259.9,294.7 261.1,294.4 262.4,293.3 263.7,291.4 264.9,291.4 266.2,290.9 267.4,292.6 268.7,294.1 269.9,294.0 271.2,294.5 272.5,295.7 273.7,295.7 275.0,296.0 276.2,298.4 277.5,299.3 278.8,298.4 280.0,299.2 281.3,297.8 282.5,299.6 283.8,299.4 285.1,299.7 286.3,299.1 287.6,298.4 288.8,299.7 290.1,300.8 291.3,301.6 292.6,302.3 293.9,303.3 295.1,301.5 296.4,302.7 297.6,301.8 298.9,303.6 300.2,303.7 301.4,302.2 302.7,302.7 303.9,304.3 305.2,305.2 306.4,305.8 307.7,304.9 309.0,304.8 310.2,304.6 311.5,303.8 312.7,304.1 314.0,302.6 315.3,302.2 316.5,302.9 317.8,303.3 319.0,303.9 320.3,301.2 321.6,302.3 322.8,300.7 324.1,300.1 325.3,300.8 326.6,301.9 327.8,300.2 329.1,299.9 330.4,301.2 331.6,301.5 332.9,300.3 334.1,299.3 335.4,300.2 336.7,298.8 337.9,298.6 339.2,297.5 340.4,297.6 341.7,298.5 343.0,299.3 344.2,300.5 345.5,300.7 346.7,299.6 348.0,299.5 349.2,298.8 350.5,297.9 351.8,297.2 353.0,299.0 354.3,299.1 355.5,299.3 356.8,299.0 358.1,297.6 359.3,298.4 360.6,298.3 361.8,299.0 363.1,298.6 364.4,298.4 365.6,296.5 366.9,297.3 368.1,296.9 369.4,296.0 370.6,294.8 371.9,295.6 373.2,295.4 374.4,294.9 375.7,296.4 376.9,297.0 378.2,297.6 379.5,298.5 380.7,297.3 382.0,297.5 383.2,296.3 384.5,297.7 385.8,298.8 387.0,298.0 388.3,296.3 389.5,297.1 390.8,296.4 392.0,295.2 393.3,296.0 394.6,295.2 395.8,295.1 397.1,295.4 398.3,295.1 399.6,295.6 400.9,294.8 402.1,294.2 403.4,294.5 404.6,295.3 405.9,294.0 407.1,292.6 408.4,291.9 409.7,291.5 410.9,290.6 412.2,291.0 413.4,290.9 414.7,291.3 416.0,289.4 417.2,288.9 418.5,288.5 419.7,289.0 421.0,290.7 422.3,289.6 423.5,290.3 424.8,290.5 426.0,292.0 427.3,292.0 428.5,293.4 429.8,293.7 431.1,294.1 432.3,294.0 433.6,292.2 434.8,291.2 436.1,293.1 437.4,291.7 438.6,290.6 439.9,291.6 441.1,291.9 442.4,290.8 443.7,291.0 444.9,290.5 446.2,290.1 447.4,289.3 448.7,288.0 449.9,288.6 451.2,287.6 452.5,288.4 453.7,288.9 455.0,285.6 456.2,285.7 457.5,285.0 458.8,282.9 460.0,282.2 461.3,280.5 462.5,280.8 463.8,278.9 465.1,278.6 466.3,277.5 467.6,278.5 468.8,277.0 470.1,278.2 471.3,276.4 472.6,276.3 473.9,277.3 475.1,277.0 476.4,278.1 477.6,276.9 478.9,278.8 480.2,278.6 481.4,279.5 482.7,277.9 483.9,277.9 485.2,278.2 486.5,279.6 487.7,280.4 489.0,279.1 490.2,278.6 491.5,278.3 492.7,277.3 494.0,277.0 495.3,278.7 496.5,277.8 497.8,279.5 499.0,279.4 500.3,278.8 501.6,279.1 502.8,278.7 504.1,280.1 505.3,279.9 506.6,281.1 507.8,281.4 509.1,282.3 510.4,281.5 511.6,283.2 512.9,282.8 514.1,283.0 515.4,284.4 516.7,285.0 517.9,284.0 519.2,283.1 520.4,283.0 521.7,283.1 523.0,283.9 524.2,282.3 525.5,280.6 526.7,280.8 528.0,279.8 529.2,279.5 530.5,278.8 531.8,277.3 533.0,276.9 534.3,277.8 535.5,276.8 536.8,276.4 538.1,275.5 539.3,273.9 540.6,272.5 541.8,273.0 543.1,272.0 544.4,272.6 545.6,273.6 546.9,271.5 548.1,272.6 549.4,272.1 550.6,272.7 551.9,270.9 553.2,269.9 554.4,268.6 555.7,269.4 556.9,267.4 558.2,266.7 559.5,266.6 560.7,268.5 562.0,269.1 563.2,268.4 564.5,267.8 565.8,266.5 567.0,267.0 568.3,268.0 569.5,266.9 570.8,265.7 572.0,265.2 573.3,265.2 574.6,264.6 575.8,263.8 577.1,263.7 578.3,264.4 579.6,263.6 580.9,262.1 582.1,261.4 583.4,259.3 584.6,259.7 585.9,256.6 587.1,256.2 588.4,256.4 589.7,256.3 590.9,254.7 592.2,256.6 593.4,256.8 594.7,258.1 596.0,256.6 597.2,256.8 598.5,257.7 599.7,255.4 601.0,256.1 602.3,255.0 603.5,254.0 604.8,252.7 606.0,253.2 607.3,252.8 608.5,253.2 609.8,253.6 611.1,254.3 612.3,255.8 613.6,255.5 614.8,256.0 616.1,253.4 617.4,251.6 618.6,251.5 619.9,250.6 621.1,249.0 622.4,249.6 623.7,248.9 624.9,250.5 626.2,250.3 627.4,250.2 628.7,249.6 629.9,250.5 631.2,251.1 632.5,251.4 633.7,251.2 635.0,252.3 636.2,250.4 637.5,247.5 638.8,246.7 640.0,245.6 641.3,245.0 642.5,241.8 643.8,240.5 645.1,237.2 646.3,234.6 647.6,231.4 648.8,229.4 649.4,227.0" fill="none" stroke="#8cd17d" stroke-width="1.5" stroke-linejoin="round" stroke-linecap="round"/>
<polyline points="33.3,229.3 34.6,236.4 35.8,245.4 37.1,251.9 38.3,259.3 39.6,268.0 40.9,275.9 42.1,282.3 43.4,287.2 44.6,291.1 45.9,293.6 47.1,296.3 48.4,299.3 49.7,304.9 50.9,306.7 52.2,307.0 53.4,306.8 54.7,310.0 56.0,312.3 57.2,314.6 58.5,312.1 59.7,308.2 61.0,311.3 62.3,315.6 63.5,318.9 64.8,317.3 66.0,316.6 67.3,318.8 68.5,319.8 69.8,317.8 71.1,317.4 72.3,317.7 73.6,317.1 74.8,317.7 76.1,318.6 77.4,320.9 78.6,321.6 79.9,323.4 81.1,323.2 82.4,322.2 83.7,322.8 84.9,321.9 86.2,322.8 87.4,322.4 88.7,324.8 89.9,324.4 91.2,326.3 92.5,326.2 93.7,326.9 95.0,328.0 96.2,330.4 97.5,331.7 98.8,332.4 100.0,332.7 101.3,332.0 102.5,332.2 103.8,331.7 105.0,334.3 106.3,333.0 107.6,333.1 108.8,330.6 110.1,329.8 111.3,328.7 112.6,326.6 113.9,325.3 115.1,326.7 116.4,325.3 117.6,323.6 118.9,324.4 120.2,325.5 121.4,324.6 122.7,322.4 123.9,322.3 125.2,322.5 126.4,321.2 127.7,320.9 129.0,321.5 130.2,321.3 131.5,321.9 132.7,322.5 134.0,321.6 135.3,322.8 136.5,321.0 137.8,321.2 139.0,321.7 140.3,322.8 141.6,322.0 142.8,321.6 144.1,322.7 145.3,321.9 146.6,320.1 147.8,320.0 149.1,319.0 150.4,319.3 151.6,319.6 152.9,317.4 154.1,317.2 155.4,318.6 156.7,318.7 157.9,318.4 159.2,316.9 160.4,317.8 161.7,318.0 163.0,318.1 164.2,317.4 165.5,317.4 166.7,315.9 168.0,315.0 169.2,314.6 170.5,314.5 171.8,315.7 173.0,317.7 174.3,317.7 175.5,318.4 176.8,318.6 178.1,319.0 179.3,317.2 180.6,317.0 181.8,318.3 183.1,317.3 184.4,317.9 185.6,317.5 186.9,316.6 188.1,316.2 189.4,316.2 190.6,315.0 191.9,316.5 193.2,315.5 194.4,314.6 195.7,315.7 196.9,313.9 198.2,315.2 199.5,314.7 200.7,313.6 202.0,314.1 203.2,316.1 204.5,314.5 205.7,314.6 207.0,314.4 208.3,315.7 209.5,315.2 210.8,316.6 212.0,315.4 213.3,316.1 214.6,313.7 215.8,312.5 217.1,311.2 218.3,310.5 219.6,310.5 220.9,311.7 222.1,312.1 223.4,312.8 224.6,311.8 225.9,312.4 227.1,314.0 228.4,313.2 229.7,313.1 230.9,313.2 232.2,315.6 233.4,315.8 234.7,315.3 236.0,314.6 237.2,312.6 238.5,311.6 239.7,312.0 241.0,312.4 242.3,312.7 243.5,314.1 244.8,312.8 246.0,312.5 247.3,314.2 248.5,315.3 249.8,316.0 251.1,316.5 252.3,315.9 253.6,314.9 254.8,315.4 256.1,317.0 257.4,315.7 258.6,315.4 259.9,315.0 261.1,316.6 262.4,315.1 263.7,314.5 264.9,315.5 266.2,316.2 267.4,315.4 268.7,315.4 269.9,314.6 271.2,312.6 272.5,310.5 273.7,311.0 275.0,311.0 276.2,311.9 277.5,311.5 278.8,309.1 280.0,306.5 281.3,304.3 282.5,303.5 283.8,301.8 285.1,300.2 286.3,299.0 287.6,298.9 288.8,299.4 290.1,300.0 291.3,300.4 292.6,298.7 293.9,298.4 295.1,298.9 296.4,297.0 297.6,295.1 298.9,295.6 300.2,296.3 301.4,295.4 302.7,295.9 303.9,297.4 305.2,298.6 306.4,298.5 307.7,298.1 309.0,298.3 310.2,299.0 311.5,297.1 312.7,294.8 314.0,295.4 315.3,293.8 316.5,293.0 317.8,293.2 319.0,293.5 320.3,296.7 321.6,297.5 322.8,299.1 324.1,298.2 325.3,295.8 326.6,294.8 327.8,293.5 329.1,292.0 330.4,291.0 331.6,292.1 332.9,293.5 334.1,294.8 335.4,293.8 336.7,294.7 337.9,294.1 339.2,295.1 340.4,295.7 341.7,293.4 343.0,292.9 344.2,294.5 345.5,295.6 346.7,295.5 348.0,293.0 349.2,293.0 350.5,293.1 351.8,292.0 353.0,291.1 354.3,291.0 355.5,288.9 356.8,289.2 358.1,290.4 359.3,289.6 360.6,288.6 361.8,287.5 363.1,288.9 364.4,288.9 365.6,289.9 366.9,290.5 368.1,290.1 369.4,290.5 370.6,289.2 371.9,288.6 373.2,287.1 374.4,287.0 375.7,287.0 376.9,285.4 378.2,284.1 379.5,282.0 380.7,279.4 382.0,277.0 383.2,275.6 384.5,271.4 385.8,268.0 387.0,266.2 388.3,263.6 389.5,266.0 390.8,267.7 392.0,267.4 393.3,267.6 394.6,268.9 395.8,270.3 397.1,270.5 398.3,271.3 399.6,270.2 400.9,270.2 402.1,271.0 403.4,271.6 404.6,270.7 405.9,270.3 407.1,271.7 408.4,271.9 409.7,271.6 410.9,270.7 412.2,270.9 413.4,270.3 414.7,270.5 416.0,270.2 417.2,270.5 418.5,271.9 419.7,271.3 421.0,272.2 422.3,271.7 423.5,270.8 424.8,270.4 426.0,271.5 427.3,269.6 428.5,269.3 429.8,270.6 431.1,270.9 432.3,272.4 433.6,272.8 434.8,274.5 436.1,276.0 437.4,275.1 438.6,275.1 439.9,272.2 441.1,270.8 442.4,270.0 443.7,271.4 444.9,270.7 446.2,271.2 447.4,272.2 448.7,272.0 449.9,271.6 451.2,271.9 452.5,272.4 453.7,272.4 455.0,272.2 456.2,270.8 457.5,272.3 458.8,272.4 460.0,272.9 461.3,273.3 462.5,272.8 463.8,274.0 465.1,275.8 466.3,275.8 467.6,277.6 468.8,277.1 470.1,276.5 471.3,276.5 472.6,274.1 473.9,272.7 475.1,272.6 476.4,271.2 477.6,270.9 478.9,270.4 480.2,272.1 481.4,271.8 482.7,272.0 483.9,271.6 485.2,270.7 486.5,272.6 487.7,274.4 489.0,274.1 490.2,273.9 491.5,273.3 492.7,274.3 494.0,273.4 495.3,275.1 496.5,275.7 497.8,276.3 499.0,277.6 500.3,277.0 501.6,277.2 502.8,277.0 504.1,278.1 505.3,279.5 506.6,280.2 507.8,279.3 509.1,280.5 510.4,278.9 511.6,280.1 512.9,279.4 514.1,279.2 515.4,279.5 516.7,278.3 517.9,279.2 519.2,279.3 520.4,279.5 521.7,278.5 523.0,279.0 524.2,278.7 525.5,277.9 526.7,277.7 528.0,276.4 529.2,276.6 530.5,275.6 531.8,274.6 533.0,275.2 534.3,276.1 535.5,274.9 536.8,273.0 538.1,272.8 539.3,271.1 540.6,271.5 541.8,271.9 543.1,270.9 544.4,271.0 545.6,271.6 546.9,272.6 548.1,272.8 549.4,273.2 550.6,271.9 551.9,271.9 553.2,269.4 554.4,268.0 555.7,269.1 556.9,268.9 558.2,267.5 559.5,265.8 560.7,265.5 562.0,265.7 563.2,264.4 564.5,265.2 565.8,266.2 567.0,264.7 568.3,263.8 569.5,263.0 570.8,262.8 572.0,263.1 573.3,262.2 574.6,260.8 575.8,259.9 577.1,261.7 578.3,261.5 579.6,259.7 580.9,259.5 582.1,260.0 583.4,258.6 584.6,258.2 585.9,258.5 587.1,256.5 588.4,255.6 589.7,254.2 590.9,255.1 592.2,254.7 593.4,254.6 594.7,253.7 596.0,254.1 597.2,254.1 598.5,255.0 599.7,255.0 601.0,253.2 602.3,252.5 603.5,252.9 604.8,252.4 606.0,251.9 607.3,251.4 608.5,252.7 609.8,250.9 611.1,251.8 612.3,251.2 613.6,251.5 614.8,250.2 616.1,248.3 617.4,247.2 618.6,247.6 619.9,247.0 621.1,246.5 622.4,246.0 623.7,247.5 624.9,247.3 626.2,248.8 627.4,249.5 628.7,249.9 629.9,250.6 631.2,247.2 632.5,246.0 633.7,245.7 635.0,245.1 636.2,246.2 637.5,244.8 638.8,241.9 640.0,240.3 641.3,238.4 642.5,235.8 643.8,232.1 645.1,230.9 646.3,227.6 646.6,227.0" fill="none" stroke="#59a14f" stroke-width="1.5" stroke-linejoin="round" stroke-linecap="round"/>
<polyline points="33.3,229.0 34.6,233.9 35.8,239.3 37.1,243.9 38.3,249.9 39.6,254.6 40.9,259.1 42.1,265.5 43.4,270.1 44.6,272.4 45.9,275.7 47.1,280.3 48.4,283.8 49.7,283.0 50.9,284.6 52.2,286.3 53.4,289.6 54.7,291.0 56.0,293.0 57.2,294.8 58.5,295.8 59.7,293.3 61.0,293.0 62.3,297.8 63.5,299.1 64.8,299.8 66.0,299.3 67.3,298.0 68.5,298.8 69.8,298.1 71.1,299.7 72.3,299.5 73.6,297.1 74.8,297.1 76.1,298.7 77.4,301.6 78.6,304.0 79.9,306.3 81.1,307.7 82.4,308.9 83.7,309.2 84.9,309.3 86.2,308.7 87.4,309.1 88.7,309.1 89.9,308.7 91.2,309.0 92.5,309.7 93.7,311.1 95.0,309.9 96.2,310.4 97.5,311.9 98.8,313.4 100.0,313.7 101.3,316.0 102.5,316.1 103.8,317.4 105.0,316.1 106.3,316.3 107.6,315.8 108.8,317.5 110.1,318.4 111.3,320.5 112.6,320.9 113.9,320.0 115.1,320.3 116.4,320.7 117.6,320.7 118.9,320.7 120.2,322.4 121.4,322.4 122.7,323.1 123.9,324.4 125.2,324.0 126.4,324.6 127.7,324.8 129.0,325.3 130.2,326.6 131.5,325.8 132.7,326.6 134.0,326.3 135.3,327.4 136.5,326.8 137.8,328.2 139.0,327.4 140.3,327.7 141.6,328.1 142.8,329.6 144.1,330.3 145.3,330.7 146.6,329.4 147.8,329.3 149.1,331.1 150.4,331.1 151.6,332.9 152.9,332.8 154.1,333.6 155.4,334.1 156.7,335.2 157.9,335.1 159.2,336.2 160.4,335.3 161.7,334.5 163.0,333.8 164.2,333.9 165.5,335.9 166.7,336.1 168.0,334.6 169.2,334.4 170.5,335.7 171.8,336.7 173.0,336.9 174.3,336.2 175.5,336.6 176.8,338.7 178.1,339.3 179.3,340.0 180.6,338.7 181.8,339.0 183.1,337.8 184.4,337.4 185.6,339.0 186.9,337.8 188.1,337.7 189.4,337.6 190.6,339.5 191.9,339.9 193.2,340.0 194.4,340.8 195.7,339.2 196.9,339.3 198.2,338.5 199.5,336.3 200.7,334.9 202.0,334.9 203.2,334.5 204.5,335.0 205.7,334.7 207.0,334.5 208.3,333.4 209.5,330.9 210.8,330.0 212.0,329.8 213.3,329.7 214.6,330.0 215.8,328.9 217.1,328.3 218.3,329.1 219.6,330.1 220.9,330.1 222.1,328.8 223.4,328.0 224.6,325.8 225.9,324.3 227.1,324.7 228.4,325.8 229.7,326.5 230.9,326.9 232.2,328.1 233.4,328.1 234.7,329.5 236.0,330.2 237.2,330.6 238.5,330.0 239.7,327.5 241.0,326.3 242.3,327.5 243.5,326.7 244.8,326.4 246.0,323.9 247.3,323.5 248.5,323.1 249.8,324.2 251.1,324.4 252.3,324.6 253.6,322.8 254.8,321.2 256.1,321.0 257.4,322.0 258.6,321.4 259.9,320.5 261.1,318.4 262.4,318.5 263.7,319.3 264.9,320.9 266.2,321.5 267.4,323.3 268.7,322.2 269.9,322.2 271.2,319.7 272.5,318.5 273.7,319.4 275.0,319.8 276.2,318.3 277.5,317.1 278.8,318.5 280.0,317.9 281.3,316.2 282.5,317.9 283.8,317.3 285.1,316.1 286.3,316.1 287.6,315.3 288.8,315.4 290.1,314.7 291.3,314.1 292.6,314.6 293.9,313.5 295.1,314.2 296.4,314.1 297.6,314.4 298.9,312.1 300.2,312.9 301.4,312.5 302.7,310.6 303.9,311.5 305.2,310.6 306.4,308.7 307.7,306.5 309.0,306.2 310.2,305.0 311.5,303.1 312.7,304.0 314.0,301.7 315.3,302.3 316.5,302.1 317.8,302.5 319.0,302.5 320.3,301.8 321.6,301.6 322.8,300.2 324.1,301.0 325.3,299.9 326.6,300.4 327.8,300.6 329.1,299.8 330.4,300.8 331.6,300.8 332.9,299.1 334.1,299.4 335.4,299.2 336.7,299.3 337.9,297.7 339.2,298.8 340.4,298.1 341.7,299.4 343.0,298.7 344.2,298.1 345.5,299.3 346.7,300.6 348.0,302.0 349.2,302.3 350.5,303.7 351.8,302.6 353.0,301.5 354.3,301.4 355.5,301.9 356.8,302.2 358.1,300.2 359.3,300.7 360.6,299.7 361.8,299.4 363.1,297.8 364.4,296.8 365.6,297.2 366.9,296.2 368.1,297.2 369.4,296.0 370.6,294.8 371.9,293.6 373.2,294.8 374.4,295.7 375.7,295.9 376.9,298.3 378.2,298.4 379.5,298.7 380.7,298.4 382.0,298.4 383.2,296.2 384.5,297.3 385.8,296.4 387.0,294.5 388.3,294.7 389.5,293.1 390.8,292.3 392.0,291.7 393.3,291.2 394.6,292.0 395.8,293.2 397.1,293.1 398.3,293.2 399.6,292.5 400.9,291.4 402.1,290.7 403.4,291.2 404.6,289.0 405.9,288.8 407.1,288.5 408.4,286.5 409.7,287.9 410.9,287.7 412.2,286.8 413.4,288.1 414.7,288.6 416.0,290.2 417.2,290.9 418.5,292.3 419.7,291.5 421.0,289.3 422.3,289.3 423.5,286.7 424.8,285.7 426.0,285.7 427.3,284.9 428.5,283.0 429.8,284.8 431.1,286.4 432.3,286.1 433.6,285.6 434.8,285.9 436.1,285.7 437.4,283.8 438.6,284.9 439.9,284.4 441.1,283.3 442.4,283.8 443.7,282.1 444.9,283.0 446.2,282.6 447.4,280.6 448.7,277.9 449.9,277.1 451.2,275.3 452.5,275.7 453.7,274.8 455.0,275.6 456.2,275.8 457.5,275.7 458.8,276.2 460.0,276.0 461.3,277.0 462.5,276.7 463.8,277.3 465.1,278.3 466.3,277.3 467.6,277.8 468.8,276.7 470.1,277.0 471.3,276.7 472.6,277.5 473.9,277.7 475.1,275.6 476.4,275.9 477.6,274.2 478.9,272.3 480.2,271.7 481.4,270.3 482.7,271.1 483.9,271.2 485.2,268.9 486.5,270.6 487.7,271.1 489.0,269.3 490.2,270.0 491.5,269.6 492.7,268.0 494.0,268.4 495.3,266.3 496.5,266.0 497.8,266.0 499.0,266.5 500.3,265.4 501.6,264.3 502.8,263.8 504.1,263.1 505.3,261.9 506.6,260.2 507.8,261.4 509.1,260.1 510.4,259.5 511.6,259.3 512.9,261.3 514.1,259.6 515.4,260.1 516.7,259.9 517.9,258.5 519.2,259.3 520.4,257.8 521.7,256.9 523.0,256.1 524.2,257.4 525.5,256.0 526.7,256.7 528.0,256.7 529.2,254.9 530.5,256.2 531.8,254.3 533.0,253.9 534.3,255.3 535.5,254.8 536.8,256.3 538.1,256.9 539.3,257.4 540.6,256.2 541.8,255.1 543.1,254.6 544.4,254.2 545.6,251.9 546.9,250.7 548.1,250.6 549.4,249.9 550.6,251.7 551.9,253.4 553.2,253.0 554.4,252.3 555.7,252.3 556.9,253.2 558.2,252.6 559.5,251.0 560.7,249.7 562.0,249.1 563.2,247.6 564.5,245.7 565.8,246.9 567.0,245.3 568.3,245.1 569.5,245.4 570.8,246.1 572.0,246.9 573.3,247.7 574.6,246.0 575.8,246.4 577.1,246.3 578.3,245.5 579.6,244.7 580.9,243.5 582.1,242.6 583.4,241.7 584.6,242.4 585.9,242.5 587.1,242.9 588.4,242.0 589.7,243.8 590.9,242.1 592.2,240.4 593.4,239.5 594.7,239.6 596.0,237.0 597.2,237.5 598.5,235.9 599.7,235.3 601.0,233.7 602.3,232.3 603.5,231.7 604.8,229.5 606.0,228.5 607.0,226.0" fill="none" stroke="#ffbe7d" stroke-width="1.5" stroke-linejoin="round" stroke-linecap="round"/>
<polyline points="33.3,228.9 34.6,231.4 35.8,232.1 37.1,234.5 38.3,236.3 39.6,238.3 40.9,238.3 42.1,239.4 43.4,242.5 44.6,243.0 45.9,244.7 47.1,246.8 48.4,246.1 49.7,246.0 50.9,245.6 52.2,243.3 53.4,242.3 54.7,244.2 56.0,243.9 57.2,244.2 58.5,245.8 59.7,247.1 61.0,250.0 62.3,251.6 63.5,254.0 64.8,256.1 66.0,255.5 67.3,256.6 68.5,254.6 69.8,255.6 71.1,256.1 72.3,256.9 73.6,254.7 74.8,255.4 76.1,256.3 77.4,257.2 78.6,257.5 79.9,256.2 81.1,257.0 82.4,257.2 83.7,258.9 84.9,261.3 86.2,262.5 87.4,263.1 88.7,265.9 89.9,267.0 91.2,270.1 92.5,272.3 93.7,273.3 95.0,274.6 96.2,276.0 97.5,277.9 98.8,281.7 100.0,280.1 101.3,281.1 102.5,279.2 103.8,278.8 105.0,279.3 106.3,279.6 107.6,281.6 108.8,280.7 110.1,281.2 111.3,280.9 112.6,280.7 113.9,282.5 115.1,282.6 116.4,285.1 117.6,287.9 118.9,289.1 120.2,291.0 121.4,294.7 122.7,297.8 123.9,296.6 125.2,297.8 126.4,300.3 127.7,301.5 129.0,302.9 130.2,302.7 131.5,304.3 132.7,302.9 134.0,304.5 135.3,305.9 136.5,305.5 137.8,305.7 139.0,306.0 140.3,305.9 141.6,306.6 142.8,307.1 144.1,305.1 145.3,304.3 146.6,305.6 147.8,306.5 149.1,307.4 150.4,307.7 151.6,308.9 152.9,309.0 154.1,309.0 155.4,308.3 156.7,307.8 157.9,310.0 159.2,311.3 160.4,313.0 161.7,312.3 163.0,313.8 164.2,315.8 165.5,315.3 166.7,315.0 168.0,315.4 169.2,315.8 170.5,317.4 171.8,318.5 173.0,319.1 174.3,318.3 175.5,318.5 176.8,318.2 178.1,316.4 179.3,316.6 180.6,316.3 181.8,314.2 183.1,313.9 184.4,312.2 185.6,311.9 186.9,312.6 188.1,310.2 189.4,310.1 190.6,309.5 191.9,308.6 193.2,307.4 194.4,308.1 195.7,307.7 196.9,306.9 198.2,307.2 199.5,308.1 200.7,306.6 202.0,307.7 203.2,305.9 204.5,305.7 205.7,304.8 207.0,305.3 208.3,305.2 209.5,304.5 210.8,302.9 212.0,302.3 213.3,303.5 214.6,303.3 215.8,303.6 217.1,303.9 218.3,302.2 219.6,301.6 220.9,302.5 222.1,300.7 223.4,300.9 224.6,298.8 225.9,297.3 227.1,298.2 228.4,298.4 229.7,299.7 230.9,301.5 232.2,300.6 233.4,301.7 234.7,301.8 236.0,303.3 237.2,304.0 238.5,304.4 239.7,304.3 241.0,303.0 242.3,303.1 243.5,302.9 244.8,302.3 246.0,301.7 247.3,302.5 248.5,303.5 249.8,302.0 251.1,301.5 252.3,300.3 253.6,299.9 254.8,299.2 256.1,297.7 257.4,298.4 258.6,297.8 259.9,298.8 261.1,297.2 262.4,297.4 263.7,297.9 264.9,295.5 266.2,294.8 267.4,296.1 268.7,295.1 269.9,294.5 271.2,293.2 272.5,294.3 273.7,292.9 275.0,293.3 276.2,292.3 277.5,290.7 278.8,292.2 280.0,291.9 281.3,291.3 282.5,290.4 283.8,290.1 285.1,290.1 286.3,287.8 287.6,286.5 288.8,287.1 290.1,286.1 291.3,287.0 292.6,286.9 293.9,285.5 295.1,283.7 296.4,283.8 297.6,283.5 298.9,283.2 300.2,284.1 301.4,283.8 302.7,285.0 303.9,284.9 305.2,283.7 306.4,285.4 307.7,284.5 309.0,286.5 310.2,287.7 311.5,286.1 312.7,285.5 314.0,286.7 315.3,286.7 316.5,286.9 317.8,288.5 319.0,288.6 320.3,288.8 321.6,290.0 322.8,291.2 324.1,291.4 325.3,288.3 326.6,287.7 327.8,285.4 329.1,285.7 330.4,283.9 331.6,282.2 332.9,281.9 334.1,282.2 335.4,281.1 336.7,282.2 337.9,281.2 339.2,281.7 340.4,280.5 341.7,280.9 343.0,281.7 344.2,281.0 345.5,280.9 346.7,282.2 348.0,281.2 349.2,280.4 350.5,280.8 351.8,281.1 353.0,281.6 354.3,280.8 355.5,281.1 356.8,281.1 358.1,280.9 359.3,280.4 360.6,279.4 361.8,279.2 363.1,278.4 364.4,277.4 365.6,279.6 366.9,279.4 368.1,279.3 369.4,280.1 370.6,280.9 371.9,281.1 373.2,278.8 374.4,279.4 375.7,279.7 376.9,279.7 378.2,279.3 379.5,277.9 380.7,278.2 382.0,277.6 383.2,278.2 384.5,278.9 385.8,277.5 387.0,276.0 388.3,276.9 389.5,277.9 390.8,278.0 392.0,276.9 393.3,276.3 394.6,275.0 395.8,276.3 397.1,275.0 398.3,273.7 399.6,273.3 400.9,275.1 402.1,274.3 403.4,274.8 404.6,272.9 405.9,272.8 407.1,273.2 408.4,273.2 409.7,271.2 410.9,271.0 412.2,271.8 413.4,272.1 414.7,269.6 416.0,269.6 417.2,270.2 418.5,269.5 419.7,269.6 421.0,268.4 422.3,268.7 423.5,267.8 424.8,269.9 426.0,270.2 427.3,269.2 428.5,270.6 429.8,268.6 431.1,266.5 432.3,266.9 433.6,264.8 434.8,265.2 436.1,263.9 437.4,263.0 438.6,264.5 439.9,264.6 441.1,264.6 442.4,264.5 443.7,264.2 444.9,262.3 446.2,262.0 447.4,262.3 448.7,263.0 449.9,262.6 451.2,261.7 452.5,261.9 453.7,261.8 455.0,259.7 456.2,258.2 457.5,256.6 458.8,258.1 460.0,256.7 461.3,256.9 462.5,257.0 463.8,257.3 465.1,258.2 466.3,257.8 467.6,256.3 468.8,256.4 470.1,255.7 471.3,255.9 472.6,257.0 473.9,257.3 475.1,257.2 476.4,257.8 477.6,258.8 478.9,257.1 480.2,257.8 481.4,258.0 482.7,256.5 483.9,258.6 485.2,257.7 486.5,258.2 487.7,257.3 489.0,257.5 490.2,256.7 491.5,258.8 492.7,257.4 494.0,257.1 495.3,258.9 496.5,259.4 497.8,259.0 499.0,260.9 500.3,260.6 501.6,259.8 502.8,260.0 504.1,260.6 505.3,260.5 506.6,258.9 507.8,259.3 509.1,257.9 510.4,257.8 511.6,259.7 512.9,260.0 514.1,259.3 515.4,260.8 516.7,260.4 517.9,260.6 519.2,259.6 520.4,258.4 521.7,257.4 523.0,258.0 524.2,258.0 525.5,256.4 526.7,255.9 528.0,256.9 529.2,256.7 530.5,256.1 531.8,255.7 533.0,254.2 534.3,254.9 535.5,256.2 536.8,256.3 538.1,256.6 539.3,256.8 540.6,257.3 541.8,256.5 543.1,258.0 544.4,256.5 545.6,258.0 546.9,258.0 548.1,257.3 549.4,256.9 550.6,255.9 551.9,254.1 553.2,254.7 554.4,252.3 555.7,250.4 556.9,251.2 558.2,252.3 559.5,250.6 560.7,249.5 562.0,249.9 563.2,249.2 564.5,249.2 565.8,249.8 567.0,252.0 568.3,252.0 569.5,252.6 570.8,254.2 572.0,254.5 573.3,255.1 574.6,254.0 575.8,254.0 577.1,253.5 578.3,253.4 579.6,252.9 580.9,251.9 582.1,251.1 583.4,251.1 584.6,252.4 585.9,251.2 587.1,250.4 588.4,250.0 589.7,250.9 590.9,249.8 592.2,249.0 593.4,248.3 594.7,248.4 596.0,248.0 597.2,248.1 598.5,249.3 599.7,248.4 601.0,249.3 602.3,251.0 603.5,251.2 604.8,251.4 606.0,251.4 607.3,249.8 608.5,250.6 609.8,250.2 611.1,250.2 612.3,249.5 613.6,250.8 614.8,251.1 616.1,250.3 617.4,247.8 618.6,247.5 619.9,246.7 621.1,245.8 622.4,246.0 623.7,246.1 624.9,244.1 626.2,245.0 627.4,245.4 628.7,244.7 629.9,245.5 631.2,245.7 632.5,244.0 633.7,244.2 635.0,243.2 636.2,243.7 637.5,243.0 638.8,241.9 640.0,241.6 641.3,241.6 642.5,239.7 643.8,239.9 645.1,237.5 646.3,235.9 647.6,232.6 648.8,231.7 650.1,229.6 651.3,228.6 652.0,226.8" fill="none" stroke="#f28e2b" stroke-width="1.5" stroke-linejoin="round" stroke-linecap="round"/>
<polyline points="33.3,228.0 34.6,233.4 35.8,238.8 37.1,244.9 38.3,250.5 39.6,255.4 40.9,260.1 42.1,264.5 43.4,270.2 44.6,274.6 45.9,278.7 47.1,282.6 48.4,284.3 49.7,284.5 50.9,284.5 52.2,285.6 53.4,286.0 54.7,286.0 56.0,288.0 57.2,289.3 58.5,293.0 59.7,295.0 61.0,293.6 62.3,291.9 63.5,292.0 64.8,295.9 66.0,299.2 67.3,296.7 68.5,295.5 69.8,297.2 71.1,298.0 72.3,297.9 73.6,299.6 74.8,300.3 76.1,299.2 77.4,301.2 78.6,301.8 79.9,301.6 81.1,302.9 82.4,302.6 83.7,304.7 84.9,306.5 86.2,305.6 87.4,307.5 88.7,307.7 89.9,309.4 91.2,310.8 92.5,312.7 93.7,313.4 95.0,312.7 96.2,313.9 97.5,313.2 98.8,314.9 100.0,315.2 101.3,315.5 102.5,316.0 103.8,316.6 105.0,318.6 106.3,317.5 107.6,317.0 108.8,316.3 110.1,315.6 111.3,316.7 112.6,316.8 113.9,317.4 115.1,319.0 116.4,319.4 117.6,319.3 118.9,320.5 120.2,322.4 121.4,323.9 122.7,324.8 123.9,323.3 125.2,321.0 126.4,320.3 127.7,320.5 129.0,318.9 130.2,320.2 131.5,320.5 132.7,319.7 134.0,319.1 135.3,317.8 136.5,317.0 137.8,316.3 139.0,317.4 140.3,318.0 141.6,318.7 142.8,317.7 144.1,318.2 145.3,316.6 146.6,315.2 147.8,314.8 149.1,315.9 150.4,317.6 151.6,320.0 152.9,319.1 154.1,318.3 155.4,318.8 156.7,317.5 157.9,316.8 159.2,314.9 160.4,315.6 161.7,315.8 163.0,315.3 164.2,315.4 165.5,313.6 166.7,311.7 168.0,311.4 169.2,312.7 170.5,311.8 171.8,310.2 173.0,308.9 174.3,307.9 175.5,307.9 176.8,308.9 178.1,309.0 179.3,308.6 180.6,308.5 181.8,306.9 183.1,307.8 184.4,306.6 185.6,306.6 186.9,304.8 188.1,305.9 189.4,303.7 190.6,303.7 191.9,303.6 193.2,303.3 194.4,303.2 195.7,302.0 196.9,302.3 198.2,302.6 199.5,301.4 200.7,302.0 202.0,302.2 203.2,300.3 204.5,301.5 205.7,300.8 207.0,302.4 208.3,302.6 209.5,304.2 210.8,302.7 212.0,304.6 213.3,303.0 214.6,302.2 215.8,301.8 217.1,302.1 218.3,304.8 219.6,305.6 220.9,305.7 222.1,303.2 223.4,303.1 224.6,303.1 225.9,302.6 227.1,301.2 228.4,302.9 229.7,303.6 230.9,304.7 232.2,304.8 233.4,305.5 234.7,306.8 236.0,306.6 237.2,306.5 238.5,307.6 239.7,306.8 241.0,307.2 242.3,304.8 243.5,304.9 244.8,305.3 246.0,303.2 247.3,304.0 248.5,303.0 249.8,303.3 251.1,303.8 252.3,303.0 253.6,305.3 254.8,304.7 256.1,304.4 257.4,305.4 258.6,304.8 259.9,304.5 261.1,305.2 262.4,302.8 263.7,302.3 264.9,302.5 266.2,301.1 267.4,301.3 268.7,301.2 269.9,298.9 271.2,297.6 272.5,298.9 273.7,299.5 275.0,299.7 276.2,299.2 277.5,298.4 278.8,299.1 280.0,298.8 281.3,298.6 282.5,298.7 283.8,296.2 285.1,296.9 286.3,296.6 287.6,294.7 288.8,294.4 290.1,295.4 291.3,295.6 292.6,296.1 293.9,295.9 295.1,296.9 296.4,298.5 297.6,299.7 298.9,299.0 300.2,298.8 301.4,295.9 302.7,293.7 303.9,293.2 305.2,293.1 306.4,290.9 307.7,290.0 309.0,290.8 310.2,291.0 311.5,291.4 312.7,292.0 314.0,293.2 315.3,294.7 316.5,293.7 317.8,295.2 319.0,294.0 320.3,293.9 321.6,294.7 322.8,293.0 324.1,292.8 325.3,291.9 326.6,291.2 327.8,292.4 329.1,290.6 330.4,291.1 331.6,291.8 332.9,289.9 334.1,290.3 335.4,288.4 336.7,288.5 337.9,287.7 339.2,286.7 340.4,288.0 341.7,288.6 343.0,288.4 344.2,289.5 345.5,289.4 346.7,289.2 348.0,290.5 349.2,290.4 350.5,287.2 351.8,287.0 353.0,285.8 354.3,282.9 355.5,282.0 356.8,282.8 358.1,284.9 359.3,286.2 360.6,285.4 361.8,285.7 363.1,286.9 364.4,285.1 365.6,283.4 366.9,283.0 368.1,283.0 369.4,283.2 370.6,283.2 371.9,281.1 373.2,280.6 374.4,280.1 375.7,281.2 376.9,281.1 378.2,282.6 379.5,282.5 380.7,282.3 382.0,282.3 383.2,280.8 384.5,282.1 385.8,282.4 387.0,282.2 388.3,281.8 389.5,279.5 390.8,277.9 392.0,277.8 393.3,278.6 394.6,277.3 395.8,278.5 397.1,278.9 398.3,278.6 399.6,277.8 400.9,276.0 402.1,275.9 403.4,273.6 404.6,272.9 405.9,273.0 407.1,272.6 408.4,271.4 409.7,271.9 410.9,269.6 412.2,268.4 413.4,267.4 414.7,267.1 416.0,264.5 417.2,264.5 418.5,263.8 419.7,263.8 421.0,262.0 422.3,261.2 423.5,261.2 424.8,258.4 426.0,259.2 427.3,258.6 428.5,257.8 429.8,257.5 431.1,257.2 432.3,258.9 433.6,257.7 434.8,259.3 436.1,258.6 437.4,257.4 438.6,258.4 439.9,257.7 441.1,258.0 442.4,255.9 443.7,256.3 444.9,254.5 446.2,254.1 447.4,254.4 448.7,254.3 449.9,254.1 451.2,254.7 452.5,255.5 453.7,255.1 455.0,255.5 456.2,256.8 457.5,255.2 458.8,257.3 460.0,255.6 461.3,255.8 462.5,257.0 463.8,255.8 465.1,255.4 466.3,254.7 467.6,256.8 468.8,257.9 470.1,256.6 471.3,257.9 472.6,257.9 473.9,257.9 475.1,258.8 476.4,260.6 477.6,261.0 478.9,260.5 480.2,261.9 481.4,260.7 482.7,261.0 483.9,260.5 485.2,262.6 486.5,262.4 487.7,263.4 489.0,262.9 490.2,263.0 491.5,263.5 492.7,262.8 494.0,262.8 495.3,262.8 496.5,260.2 497.8,258.9 499.0,257.7 500.3,258.6 501.6,258.0 502.8,258.9 504.1,258.3 505.3,259.2 506.6,258.8 507.8,260.0 509.1,260.6 510.4,261.2 511.6,260.0 512.9,260.6 514.1,260.7 515.4,259.2 516.7,260.4 517.9,261.0 519.2,259.3 520.4,260.5 521.7,261.1 523.0,261.2 524.2,261.4 525.5,260.4 526.7,262.0 528.0,263.0 529.2,262.5 530.5,264.7 531.8,265.1 533.0,263.1 534.3,262.0 535.5,261.7 536.8,262.9 538.1,263.4 539.3,264.2 540.6,264.3 541.8,262.4 543.1,261.4 544.4,260.5 545.6,260.9 546.9,261.1 548.1,260.9 549.4,261.9 550.6,261.0 551.9,260.3 553.2,259.3 554.4,258.0 555.7,256.5 556.9,255.7 558.2,256.1 559.5,256.6 560.7,257.9 562.0,259.4 563.2,259.8 564.5,258.6 565.8,258.7 567.0,258.4 568.3,257.3 569.5,256.7 570.8,257.4 572.0,259.0 573.3,258.9 574.6,257.0 575.8,258.5 577.1,258.5 578.3,258.1 579.6,256.2 580.9,256.0 582.1,255.9 583.4,256.2 584.6,255.2 585.9,256.0 587.1,256.2 588.4,256.3 589.7,255.7 590.9,254.8 592.2,252.4 593.4,252.6 594.7,252.2 596.0,251.7 597.2,251.3 598.5,249.6 599.7,249.0 601.0,247.9 602.3,249.5 603.5,250.3 604.8,250.8 606.0,250.2 607.3,251.0 608.5,252.1 609.8,251.1 611.1,250.7 612.3,252.8 613.6,253.8 614.8,253.3 616.1,252.4 617.4,251.0 618.6,251.4 619.9,249.6 621.1,247.9 622.4,249.1 623.7,247.4 624.9,248.3 626.2,245.0 627.4,242.4 628.7,241.1 629.9,239.3 631.2,238.0 632.5,235.9 633.7,232.5 635.0,229.2 636.2,226.8 637.0,226.0" fill="none" stroke="#a0cbe8" stroke-width="1.5" stroke-linejoin="round" stroke-linecap="round"/>
<polyline points="33.3,228.3 34.6,237.7 35.8,246.1 37.1,254.4 38.3,262.1 39.6,270.2 40.9,279.9 42.1,284.8 43.4,289.9 44.6,293.3 45.9,296.9 47.1,299.9 48.4,300.5 49.7,302.4 50.9,302.5 52.2,302.3 53.4,301.2 54.7,301.0 56.0,301.4 57.2,302.1 58.5,303.2 59.7,302.9 61.0,302.2 62.3,303.2 63.5,304.9 64.8,308.7 66.0,311.4 67.3,312.8 68.5,313.6 69.8,311.8 71.1,310.2 72.3,309.2 73.6,310.5 74.8,310.3 76.1,313.3 77.4,313.1 78.6,314.7 79.9,314.3 81.1,315.7 82.4,314.8 83.7,316.6 84.9,315.0 86.2,316.2 87.4,316.0 88.7,315.0 89.9,313.3 91.2,314.9 92.5,316.6 93.7,317.5 95.0,318.6 96.2,321.5 97.5,321.5 98.8,321.0 100.0,322.0 101.3,322.7 102.5,321.5 103.8,321.8 105.0,321.5 106.3,319.7 107.6,318.9 108.8,320.5 110.1,320.7 111.3,320.1 112.6,320.6 113.9,321.4 115.1,322.2 116.4,323.0 117.6,321.2 118.9,320.4 120.2,322.8 121.4,322.4 122.7,322.5 123.9,322.5 125.2,322.6 126.4,324.2 127.7,323.5 129.0,324.6 130.2,326.2 131.5,324.1 132.7,324.4 134.0,323.4 135.3,321.4 136.5,322.6 137.8,322.7 139.0,321.9 140.3,322.9 141.6,321.0 142.8,322.1 144.1,322.6 145.3,320.6 146.6,322.1 147.8,322.7 149.1,323.8 150.4,322.6 151.6,323.4 152.9,323.9 154.1,322.7 155.4,321.0 156.7,319.6 157.9,320.0 159.2,318.8 160.4,316.1 161.7,315.0 163.0,312.4 164.2,312.5 165.5,312.2 166.7,310.9 168.0,309.5 169.2,317.7 170.5,319.8 171.8,319.5 173.0,317.8 174.3,318.4 175.5,320.0 176.8,320.1 178.1,319.9 179.3,318.1 180.6,318.9 181.8,318.4 183.1,320.3 184.4,318.5 185.6,318.2 186.9,319.9 188.1,318.6 189.4,318.8 190.6,319.1 191.9,320.9 193.2,321.1 194.4,321.6 195.7,319.9 196.9,319.0 198.2,319.5 199.5,321.1 200.7,320.9 202.0,322.7 203.2,323.1 204.5,321.5 205.7,321.3 207.0,320.9 208.3,321.4 209.5,322.7 210.8,323.1 212.0,324.5 213.3,323.6 214.6,326.1 215.8,325.3 217.1,326.7 218.3,327.7 219.6,325.7 220.9,327.5 222.1,327.9 223.4,324.8 224.6,324.4 225.9,323.8 227.1,323.4 228.4,322.8 229.7,322.7 230.9,323.0 232.2,322.1 233.4,322.2 234.7,322.4 236.0,323.0 237.2,321.1 238.5,319.4 239.7,319.2 241.0,318.3 242.3,315.0 243.5,313.1 244.8,307.3 246.0,301.2 247.3,300.4 248.5,301.2 249.8,300.7 251.1,301.5 252.3,301.0 253.6,300.9 254.8,299.9 256.1,301.9 257.4,300.7 258.6,301.5 259.9,303.2 261.1,303.1 262.4,301.5 263.7,302.2 264.9,300.3 266.2,300.3 267.4,300.1 268.7,300.3 269.9,299.0 271.2,298.9 272.5,298.2 273.7,299.3 275.0,299.1 276.2,297.8 277.5,297.1 278.8,295.7 280.0,293.2 281.3,293.3 282.5,292.1 283.8,291.7 285.1,291.1 286.3,290.8 287.6,292.2 288.8,293.3 290.1,293.7 291.3,292.0 292.6,293.1 293.9,291.6 295.1,292.6 296.4,292.0 297.6,291.2 298.9,291.3 300.2,291.6 301.4,290.8 302.7,289.4 303.9,289.4 305.2,288.8 306.4,287.4 307.7,288.7 309.0,288.2 310.2,287.5 311.5,290.3 312.7,291.8 314.0,291.3 315.3,291.4 316.5,291.2 317.8,289.3 319.0,290.4 320.3,290.4 321.6,291.6 322.8,290.8 324.1,289.7 325.3,290.0 326.6,288.8 327.8,288.7 329.1,285.9 330.4,286.3 331.6,286.8 332.9,284.9 334.1,283.7 335.4,284.3 336.7,284.9 337.9,284.9 339.2,284.3 340.4,283.3 341.7,284.1 343.0,285.3 344.2,284.5 345.5,283.8 346.7,285.0 348.0,283.1 349.2,283.5 350.5,284.8 351.8,285.8 353.0,286.4 354.3,286.7 355.5,286.2 356.8,287.0 358.1,284.0 359.3,283.1 360.6,282.0 361.8,281.6 363.1,280.1 364.4,279.2 365.6,279.8 366.9,280.8 368.1,281.1 369.4,282.3 370.6,281.9 371.9,281.2 373.2,282.5 374.4,283.0 375.7,282.8 376.9,284.2 378.2,284.3 379.5,285.9 380.7,286.9 382.0,286.1 383.2,285.8 384.5,282.9 385.8,283.1 387.0,282.8 388.3,281.1 389.5,280.9 390.8,279.7 392.0,279.7 393.3,280.2 394.6,280.0 395.8,279.7 397.1,280.4 398.3,280.6 399.6,279.3 400.9,279.9 402.1,280.7 403.4,278.9 404.6,279.9 405.9,278.0 407.1,277.9 408.4,277.5 409.7,275.9 410.9,275.2 412.2,276.5 413.4,275.6 414.7,275.6 416.0,274.2 417.2,274.6 418.5,275.4 419.7,275.5 421.0,274.1 422.3,275.0 423.5,273.6 424.8,272.7 426.0,272.5 427.3,274.1 428.5,273.0 429.8,272.0 431.1,272.2 432.3,272.4 433.6,272.8 434.8,273.1 436.1,273.3 437.4,272.8 438.6,272.7 439.9,274.3 441.1,273.7 442.4,273.6 443.7,272.5 444.9,271.1 446.2,272.1 447.4,273.4 448.7,274.0 449.9,274.0 451.2,273.9 452.5,273.3 453.7,273.5 455.0,273.2 456.2,273.4 457.5,273.3 458.8,272.8 460.0,272.7 461.3,273.1 462.5,273.7 463.8,274.0 465.1,274.5 466.3,273.5 467.6,275.0 468.8,275.6 470.1,275.9 471.3,276.6 472.6,276.9 473.9,276.8 475.1,276.8 476.4,277.3 477.6,275.7 478.9,275.9 480.2,276.8 481.4,275.2 482.7,274.1 483.9,273.7 485.2,272.9 486.5,272.2 487.7,270.4 489.0,269.1 490.2,266.3 491.5,264.5 492.7,261.5 494.0,256.8 495.3,251.0 496.5,250.3 497.8,249.4 499.0,247.5 500.3,248.2 501.6,246.2 502.8,246.7 504.1,244.8 505.3,244.2 506.6,243.7 507.8,243.1 509.1,242.1 510.4,242.9 511.6,242.6 512.9,242.3 514.1,241.8 515.4,240.8 516.7,241.8 517.9,243.8 519.2,245.1 520.4,247.1 521.7,247.8 523.0,249.4 524.2,247.2 525.5,245.7 526.7,246.7 528.0,245.1 529.2,244.5 530.5,244.6 531.8,242.1 533.0,240.6 534.3,240.4 535.5,239.2 536.8,238.6 538.1,239.4 539.3,239.4 540.6,239.2 541.8,239.6 543.1,238.7 544.4,238.4 545.6,237.9 546.9,239.0 548.1,239.7 549.4,240.8 550.6,241.7 551.9,242.6 553.2,242.0 554.4,244.3 555.7,246.2 556.9,244.5 558.2,245.7 559.5,245.9 560.7,246.7 562.0,245.1 563.2,244.5 564.5,245.4 565.8,245.5 567.0,243.8 568.3,244.5 569.5,242.5 570.8,243.5 572.0,243.9 573.3,244.3 574.6,245.3 575.8,244.6 577.1,245.8 578.3,245.0 579.6,246.7 580.9,245.6 582.1,244.7 583.4,246.3 584.6,245.1 585.9,246.2 587.1,247.4 588.4,246.6 589.7,245.9 590.9,245.7 592.2,244.9 593.4,243.3 594.7,241.1 596.0,242.4 597.2,242.2 598.5,241.2 599.7,241.4 601.0,239.8 602.3,239.0 603.5,237.7 604.8,237.6 606.0,236.4 607.3,234.5 608.5,233.4 609.8,232.6 611.1,230.6 612.3,230.9 613.6,228.8 614.8,228.5 616.1,226.6 617.0,225.0" fill="none" stroke="#4e79a7" stroke-width="1.5" stroke-linejoin="round" stroke-linecap="round"/>
<g transform="translate(66.6 256.0)"><rect x="-2.8" y="-2.1" width="5.6" height="4.3" rx="1.2" fill="#b2b2b2" stroke="#8e8e8e" stroke-width="0.45"/><rect x="-1.2" y="-2.7" width="2.4" height="1" rx="0.4" fill="#9a9a9a"/><circle r="1.5" fill="#f6f6f6"/><circle r="0.62" fill="#4a4a4a"/></g>
<g transform="translate(73.9 255.1)"><rect x="-2.8" y="-2.1" width="5.6" height="4.3" rx="1.2" fill="#b2b2b2" stroke="#8e8e8e" stroke-width="0.45"/><rect x="-1.2" y="-2.7" width="2.4" height="1" rx="0.4" fill="#9a9a9a"/><circle r="1.5" fill="#f6f6f6"/><circle r="0.62" fill="#4a4a4a"/></g>
<g transform="translate(82.5 264.2)"><rect x="-2.8" y="-2.1" width="5.6" height="4.3" rx="1.2" fill="#b2b2b2" stroke="#8e8e8e" stroke-width="0.45"/><rect x="-1.2" y="-2.7" width="2.4" height="1" rx="0.4" fill="#9a9a9a"/><circle r="1.5" fill="#f6f6f6"/><circle r="0.62" fill="#4a4a4a"/></g>
<g transform="translate(90.0 273.0)"><rect x="-2.8" y="-2.1" width="5.6" height="4.3" rx="1.2" fill="#b2b2b2" stroke="#8e8e8e" stroke-width="0.45"/><rect x="-1.2" y="-2.7" width="2.4" height="1" rx="0.4" fill="#9a9a9a"/><circle r="1.5" fill="#f6f6f6"/><circle r="0.62" fill="#4a4a4a"/></g>
<g transform="translate(108.7 273.6)"><rect x="-2.8" y="-2.1" width="5.6" height="4.3" rx="1.2" fill="#b2b2b2" stroke="#8e8e8e" stroke-width="0.45"/><rect x="-1.2" y="-2.7" width="2.4" height="1" rx="0.4" fill="#9a9a9a"/><circle r="1.5" fill="#f6f6f6"/><circle r="0.62" fill="#4a4a4a"/></g>
<g transform="translate(113.6 272.7)"><rect x="-2.8" y="-2.1" width="5.6" height="4.3" rx="1.2" fill="#b2b2b2" stroke="#8e8e8e" stroke-width="0.45"/><rect x="-1.2" y="-2.7" width="2.4" height="1" rx="0.4" fill="#9a9a9a"/><circle r="1.5" fill="#f6f6f6"/><circle r="0.62" fill="#4a4a4a"/></g>
<g transform="translate(110.9 265.7)"><rect x="-2.8" y="-2.1" width="5.6" height="4.3" rx="1.2" fill="#b2b2b2" stroke="#8e8e8e" stroke-width="0.45"/><rect x="-1.2" y="-2.7" width="2.4" height="1" rx="0.4" fill="#9a9a9a"/><circle r="1.5" fill="#f6f6f6"/><circle r="0.62" fill="#4a4a4a"/></g>
<g transform="translate(78.1 283.6)"><rect x="-2.8" y="-2.1" width="5.6" height="4.3" rx="1.2" fill="#b2b2b2" stroke="#8e8e8e" stroke-width="0.45"/><rect x="-1.2" y="-2.7" width="2.4" height="1" rx="0.4" fill="#9a9a9a"/><circle r="1.5" fill="#f6f6f6"/><circle r="0.62" fill="#4a4a4a"/></g>
<g transform="translate(98.2 285.3)"><rect x="-2.8" y="-2.1" width="5.6" height="4.3" rx="1.2" fill="#b2b2b2" stroke="#8e8e8e" stroke-width="0.45"/><rect x="-1.2" y="-2.7" width="2.4" height="1" rx="0.4" fill="#9a9a9a"/><circle r="1.5" fill="#f6f6f6"/><circle r="0.62" fill="#4a4a4a"/></g>
<g transform="translate(102.6 283.1)"><rect x="-2.8" y="-2.1" width="5.6" height="4.3" rx="1.2" fill="#b2b2b2" stroke="#8e8e8e" stroke-width="0.45"/><rect x="-1.2" y="-2.7" width="2.4" height="1" rx="0.4" fill="#9a9a9a"/><circle r="1.5" fill="#f6f6f6"/><circle r="0.62" fill="#4a4a4a"/></g>
<g transform="translate(113.2 289.1)"><rect x="-2.8" y="-2.1" width="5.6" height="4.3" rx="1.2" fill="#b2b2b2" stroke="#8e8e8e" stroke-width="0.45"/><rect x="-1.2" y="-2.7" width="2.4" height="1" rx="0.4" fill="#9a9a9a"/><circle r="1.5" fill="#f6f6f6"/><circle r="0.62" fill="#4a4a4a"/></g>
<g transform="translate(47.8 286.2)"><rect x="-2.8" y="-2.1" width="5.6" height="4.3" rx="1.2" fill="#b2b2b2" stroke="#8e8e8e" stroke-width="0.45"/><rect x="-1.2" y="-2.7" width="2.4" height="1" rx="0.4" fill="#9a9a9a"/><circle r="1.5" fill="#f6f6f6"/><circle r="0.62" fill="#4a4a4a"/></g>
<g transform="translate(154.4 265.2)"><rect x="-2.8" y="-2.1" width="5.6" height="4.3" rx="1.2" fill="#b2b2b2" stroke="#8e8e8e" stroke-width="0.45"/><rect x="-1.2" y="-2.7" width="2.4" height="1" rx="0.4" fill="#9a9a9a"/><circle r="1.5" fill="#f6f6f6"/><circle r="0.62" fill="#4a4a4a"/></g>
<g transform="translate(167.2 262.6)"><rect x="-2.8" y="-2.1" width="5.6" height="4.3" rx="1.2" fill="#b2b2b2" stroke="#8e8e8e" stroke-width="0.45"/><rect x="-1.2" y="-2.7" width="2.4" height="1" rx="0.4" fill="#9a9a9a"/><circle r="1.5" fill="#f6f6f6"/><circle r="0.62" fill="#4a4a4a"/></g>
<g transform="translate(172.7 280.9)"><rect x="-2.8" y="-2.1" width="5.6" height="4.3" rx="1.2" fill="#b2b2b2" stroke="#8e8e8e" stroke-width="0.45"/><rect x="-1.2" y="-2.7" width="2.4" height="1" rx="0.4" fill="#9a9a9a"/><circle r="1.5" fill="#f6f6f6"/><circle r="0.62" fill="#4a4a4a"/></g>
<g transform="translate(139.2 291.7)"><rect x="-2.8" y="-2.1" width="5.6" height="4.3" rx="1.2" fill="#b2b2b2" stroke="#8e8e8e" stroke-width="0.45"/><rect x="-1.2" y="-2.7" width="2.4" height="1" rx="0.4" fill="#9a9a9a"/><circle r="1.5" fill="#f6f6f6"/><circle r="0.62" fill="#4a4a4a"/></g>
<g transform="translate(167.9 291.7)"><rect x="-2.8" y="-2.1" width="5.6" height="4.3" rx="1.2" fill="#b2b2b2" stroke="#8e8e8e" stroke-width="0.45"/><rect x="-1.2" y="-2.7" width="2.4" height="1" rx="0.4" fill="#9a9a9a"/><circle r="1.5" fill="#f6f6f6"/><circle r="0.62" fill="#4a4a4a"/></g>
<g transform="translate(202.3 292.2)"><rect x="-2.8" y="-2.1" width="5.6" height="4.3" rx="1.2" fill="#b2b2b2" stroke="#8e8e8e" stroke-width="0.45"/><rect x="-1.2" y="-2.7" width="2.4" height="1" rx="0.4" fill="#9a9a9a"/><circle r="1.5" fill="#f6f6f6"/><circle r="0.62" fill="#4a4a4a"/></g>
<g transform="translate(219.6 268.4)"><rect x="-2.8" y="-2.1" width="5.6" height="4.3" rx="1.2" fill="#b2b2b2" stroke="#8e8e8e" stroke-width="0.45"/><rect x="-1.2" y="-2.7" width="2.4" height="1" rx="0.4" fill="#9a9a9a"/><circle r="1.5" fill="#f6f6f6"/><circle r="0.62" fill="#4a4a4a"/></g>
<g transform="translate(244.3 258.0)"><rect x="-2.8" y="-2.1" width="5.6" height="4.3" rx="1.2" fill="#b2b2b2" stroke="#8e8e8e" stroke-width="0.45"/><rect x="-1.2" y="-2.7" width="2.4" height="1" rx="0.4" fill="#9a9a9a"/><circle r="1.5" fill="#f6f6f6"/><circle r="0.62" fill="#4a4a4a"/></g>
<g transform="translate(265.2 248.3)"><rect x="-2.8" y="-2.1" width="5.6" height="4.3" rx="1.2" fill="#b2b2b2" stroke="#8e8e8e" stroke-width="0.45"/><rect x="-1.2" y="-2.7" width="2.4" height="1" rx="0.4" fill="#9a9a9a"/><circle r="1.5" fill="#f6f6f6"/><circle r="0.62" fill="#4a4a4a"/></g>
<g transform="translate(252.0 269.7)"><rect x="-2.8" y="-2.1" width="5.6" height="4.3" rx="1.2" fill="#b2b2b2" stroke="#8e8e8e" stroke-width="0.45"/><rect x="-1.2" y="-2.7" width="2.4" height="1" rx="0.4" fill="#9a9a9a"/><circle r="1.5" fill="#f6f6f6"/><circle r="0.62" fill="#4a4a4a"/></g>
<g transform="translate(269.4 269.7)"><rect x="-2.8" y="-2.1" width="5.6" height="4.3" rx="1.2" fill="#b2b2b2" stroke="#8e8e8e" stroke-width="0.45"/><rect x="-1.2" y="-2.7" width="2.4" height="1" rx="0.4" fill="#9a9a9a"/><circle r="1.5" fill="#f6f6f6"/><circle r="0.62" fill="#4a4a4a"/></g>
<g transform="translate(285.4 273.6)"><rect x="-2.8" y="-2.1" width="5.6" height="4.3" rx="1.2" fill="#b2b2b2" stroke="#8e8e8e" stroke-width="0.45"/><rect x="-1.2" y="-2.7" width="2.4" height="1" rx="0.4" fill="#9a9a9a"/><circle r="1.5" fill="#f6f6f6"/><circle r="0.62" fill="#4a4a4a"/></g>
<g transform="translate(300.4 278.1)"><rect x="-2.8" y="-2.1" width="5.6" height="4.3" rx="1.2" fill="#b2b2b2" stroke="#8e8e8e" stroke-width="0.45"/><rect x="-1.2" y="-2.7" width="2.4" height="1" rx="0.4" fill="#9a9a9a"/><circle r="1.5" fill="#f6f6f6"/><circle r="0.62" fill="#4a4a4a"/></g>
<g transform="translate(260.6 280.9)"><rect x="-2.8" y="-2.1" width="5.6" height="4.3" rx="1.2" fill="#b2b2b2" stroke="#8e8e8e" stroke-width="0.45"/><rect x="-1.2" y="-2.7" width="2.4" height="1" rx="0.4" fill="#9a9a9a"/><circle r="1.5" fill="#f6f6f6"/><circle r="0.62" fill="#4a4a4a"/></g>
<g transform="translate(240.1 291.7)"><rect x="-2.8" y="-2.1" width="5.6" height="4.3" rx="1.2" fill="#b2b2b2" stroke="#8e8e8e" stroke-width="0.45"/><rect x="-1.2" y="-2.7" width="2.4" height="1" rx="0.4" fill="#9a9a9a"/><circle r="1.5" fill="#f6f6f6"/><circle r="0.62" fill="#4a4a4a"/></g>
<g transform="translate(258.4 293.1)"><rect x="-2.8" y="-2.1" width="5.6" height="4.3" rx="1.2" fill="#b2b2b2" stroke="#8e8e8e" stroke-width="0.45"/><rect x="-1.2" y="-2.7" width="2.4" height="1" rx="0.4" fill="#9a9a9a"/><circle r="1.5" fill="#f6f6f6"/><circle r="0.62" fill="#4a4a4a"/></g>
<g transform="translate(276.7 293.7)"><rect x="-2.8" y="-2.1" width="5.6" height="4.3" rx="1.2" fill="#b2b2b2" stroke="#8e8e8e" stroke-width="0.45"/><rect x="-1.2" y="-2.7" width="2.4" height="1" rx="0.4" fill="#9a9a9a"/><circle r="1.5" fill="#f6f6f6"/><circle r="0.62" fill="#4a4a4a"/></g>
<g transform="translate(213.0 295.0)"><rect x="-2.8" y="-2.1" width="5.6" height="4.3" rx="1.2" fill="#b2b2b2" stroke="#8e8e8e" stroke-width="0.45"/><rect x="-1.2" y="-2.7" width="2.4" height="1" rx="0.4" fill="#9a9a9a"/><circle r="1.5" fill="#f6f6f6"/><circle r="0.62" fill="#4a4a4a"/></g>
<g transform="translate(151.0 300.0)"><rect x="-2.8" y="-2.1" width="5.6" height="4.3" rx="1.2" fill="#b2b2b2" stroke="#8e8e8e" stroke-width="0.45"/><rect x="-1.2" y="-2.7" width="2.4" height="1" rx="0.4" fill="#9a9a9a"/><circle r="1.5" fill="#f6f6f6"/><circle r="0.62" fill="#4a4a4a"/></g>
<g transform="translate(160.6 296.4)"><rect x="-2.8" y="-2.1" width="5.6" height="4.3" rx="1.2" fill="#b2b2b2" stroke="#8e8e8e" stroke-width="0.45"/><rect x="-1.2" y="-2.7" width="2.4" height="1" rx="0.4" fill="#9a9a9a"/><circle r="1.5" fill="#f6f6f6"/><circle r="0.62" fill="#4a4a4a"/></g>
<g transform="translate(134.6 306.0)"><rect x="-2.8" y="-2.1" width="5.6" height="4.3" rx="1.2" fill="#b2b2b2" stroke="#8e8e8e" stroke-width="0.45"/><rect x="-1.2" y="-2.7" width="2.4" height="1" rx="0.4" fill="#9a9a9a"/><circle r="1.5" fill="#f6f6f6"/><circle r="0.62" fill="#4a4a4a"/></g>
<g transform="translate(143.0 307.0)"><rect x="-2.8" y="-2.1" width="5.6" height="4.3" rx="1.2" fill="#b2b2b2" stroke="#8e8e8e" stroke-width="0.45"/><rect x="-1.2" y="-2.7" width="2.4" height="1" rx="0.4" fill="#9a9a9a"/><circle r="1.5" fill="#f6f6f6"/><circle r="0.62" fill="#4a4a4a"/></g>
<g transform="translate(141.4 311.0)"><rect x="-2.8" y="-2.1" width="5.6" height="4.3" rx="1.2" fill="#b2b2b2" stroke="#8e8e8e" stroke-width="0.45"/><rect x="-1.2" y="-2.7" width="2.4" height="1" rx="0.4" fill="#9a9a9a"/><circle r="1.5" fill="#f6f6f6"/><circle r="0.62" fill="#4a4a4a"/></g>
<g transform="translate(153.0 309.0)"><rect x="-2.8" y="-2.1" width="5.6" height="4.3" rx="1.2" fill="#b2b2b2" stroke="#8e8e8e" stroke-width="0.45"/><rect x="-1.2" y="-2.7" width="2.4" height="1" rx="0.4" fill="#9a9a9a"/><circle r="1.5" fill="#f6f6f6"/><circle r="0.62" fill="#4a4a4a"/></g>
<g transform="translate(157.0 308.0)"><rect x="-2.8" y="-2.1" width="5.6" height="4.3" rx="1.2" fill="#b2b2b2" stroke="#8e8e8e" stroke-width="0.45"/><rect x="-1.2" y="-2.7" width="2.4" height="1" rx="0.4" fill="#9a9a9a"/><circle r="1.5" fill="#f6f6f6"/><circle r="0.62" fill="#4a4a4a"/></g>
<g transform="translate(168.0 305.0)"><rect x="-2.8" y="-2.1" width="5.6" height="4.3" rx="1.2" fill="#b2b2b2" stroke="#8e8e8e" stroke-width="0.45"/><rect x="-1.2" y="-2.7" width="2.4" height="1" rx="0.4" fill="#9a9a9a"/><circle r="1.5" fill="#f6f6f6"/><circle r="0.62" fill="#4a4a4a"/></g>
<g transform="translate(167.0 310.0)"><rect x="-2.8" y="-2.1" width="5.6" height="4.3" rx="1.2" fill="#b2b2b2" stroke="#8e8e8e" stroke-width="0.45"/><rect x="-1.2" y="-2.7" width="2.4" height="1" rx="0.4" fill="#9a9a9a"/><circle r="1.5" fill="#f6f6f6"/><circle r="0.62" fill="#4a4a4a"/></g>
<g transform="translate(176.6 303.6)"><rect x="-2.8" y="-2.1" width="5.6" height="4.3" rx="1.2" fill="#b2b2b2" stroke="#8e8e8e" stroke-width="0.45"/><rect x="-1.2" y="-2.7" width="2.4" height="1" rx="0.4" fill="#9a9a9a"/><circle r="1.5" fill="#f6f6f6"/><circle r="0.62" fill="#4a4a4a"/></g>
<g transform="translate(188.0 313.6)"><rect x="-2.8" y="-2.1" width="5.6" height="4.3" rx="1.2" fill="#b2b2b2" stroke="#8e8e8e" stroke-width="0.45"/><rect x="-1.2" y="-2.7" width="2.4" height="1" rx="0.4" fill="#9a9a9a"/><circle r="1.5" fill="#f6f6f6"/><circle r="0.62" fill="#4a4a4a"/></g>
<g transform="translate(199.0 318.0)"><rect x="-2.8" y="-2.1" width="5.6" height="4.3" rx="1.2" fill="#b2b2b2" stroke="#8e8e8e" stroke-width="0.45"/><rect x="-1.2" y="-2.7" width="2.4" height="1" rx="0.4" fill="#9a9a9a"/><circle r="1.5" fill="#f6f6f6"/><circle r="0.62" fill="#4a4a4a"/></g>
<g transform="translate(197.0 322.0)"><rect x="-2.8" y="-2.1" width="5.6" height="4.3" rx="1.2" fill="#b2b2b2" stroke="#8e8e8e" stroke-width="0.45"/><rect x="-1.2" y="-2.7" width="2.4" height="1" rx="0.4" fill="#9a9a9a"/><circle r="1.5" fill="#f6f6f6"/><circle r="0.62" fill="#4a4a4a"/></g>
<g transform="translate(184.0 325.0)"><rect x="-2.8" y="-2.1" width="5.6" height="4.3" rx="1.2" fill="#b2b2b2" stroke="#8e8e8e" stroke-width="0.45"/><rect x="-1.2" y="-2.7" width="2.4" height="1" rx="0.4" fill="#9a9a9a"/><circle r="1.5" fill="#f6f6f6"/><circle r="0.62" fill="#4a4a4a"/></g>
<g transform="translate(148.0 323.6)"><rect x="-2.8" y="-2.1" width="5.6" height="4.3" rx="1.2" fill="#b2b2b2" stroke="#8e8e8e" stroke-width="0.45"/><rect x="-1.2" y="-2.7" width="2.4" height="1" rx="0.4" fill="#9a9a9a"/><circle r="1.5" fill="#f6f6f6"/><circle r="0.62" fill="#4a4a4a"/></g>
<g transform="translate(155.0 331.0)"><rect x="-2.8" y="-2.1" width="5.6" height="4.3" rx="1.2" fill="#b2b2b2" stroke="#8e8e8e" stroke-width="0.45"/><rect x="-1.2" y="-2.7" width="2.4" height="1" rx="0.4" fill="#9a9a9a"/><circle r="1.5" fill="#f6f6f6"/><circle r="0.62" fill="#4a4a4a"/></g>
<g transform="translate(216.0 330.0)"><rect x="-2.8" y="-2.1" width="5.6" height="4.3" rx="1.2" fill="#b2b2b2" stroke="#8e8e8e" stroke-width="0.45"/><rect x="-1.2" y="-2.7" width="2.4" height="1" rx="0.4" fill="#9a9a9a"/><circle r="1.5" fill="#f6f6f6"/><circle r="0.62" fill="#4a4a4a"/></g>
<g transform="translate(247.6 296.4)"><rect x="-2.8" y="-2.1" width="5.6" height="4.3" rx="1.2" fill="#b2b2b2" stroke="#8e8e8e" stroke-width="0.45"/><rect x="-1.2" y="-2.7" width="2.4" height="1" rx="0.4" fill="#9a9a9a"/><circle r="1.5" fill="#f6f6f6"/><circle r="0.62" fill="#4a4a4a"/></g>
<g transform="translate(264.4 295.0)"><rect x="-2.8" y="-2.1" width="5.6" height="4.3" rx="1.2" fill="#b2b2b2" stroke="#8e8e8e" stroke-width="0.45"/><rect x="-1.2" y="-2.7" width="2.4" height="1" rx="0.4" fill="#9a9a9a"/><circle r="1.5" fill="#f6f6f6"/><circle r="0.62" fill="#4a4a4a"/></g>
<g transform="translate(232.0 300.6)"><rect x="-2.8" y="-2.1" width="5.6" height="4.3" rx="1.2" fill="#b2b2b2" stroke="#8e8e8e" stroke-width="0.45"/><rect x="-1.2" y="-2.7" width="2.4" height="1" rx="0.4" fill="#9a9a9a"/><circle r="1.5" fill="#f6f6f6"/><circle r="0.62" fill="#4a4a4a"/></g>
<g transform="translate(236.4 300.0)"><rect x="-2.8" y="-2.1" width="5.6" height="4.3" rx="1.2" fill="#b2b2b2" stroke="#8e8e8e" stroke-width="0.45"/><rect x="-1.2" y="-2.7" width="2.4" height="1" rx="0.4" fill="#9a9a9a"/><circle r="1.5" fill="#f6f6f6"/><circle r="0.62" fill="#4a4a4a"/></g>
<g transform="translate(264.0 300.0)"><rect x="-2.8" y="-2.1" width="5.6" height="4.3" rx="1.2" fill="#b2b2b2" stroke="#8e8e8e" stroke-width="0.45"/><rect x="-1.2" y="-2.7" width="2.4" height="1" rx="0.4" fill="#9a9a9a"/><circle r="1.5" fill="#f6f6f6"/><circle r="0.62" fill="#4a4a4a"/></g>
<g transform="translate(237.0 308.0)"><rect x="-2.8" y="-2.1" width="5.6" height="4.3" rx="1.2" fill="#b2b2b2" stroke="#8e8e8e" stroke-width="0.45"/><rect x="-1.2" y="-2.7" width="2.4" height="1" rx="0.4" fill="#9a9a9a"/><circle r="1.5" fill="#f6f6f6"/><circle r="0.62" fill="#4a4a4a"/></g>
<g transform="translate(235.0 312.0)"><rect x="-2.8" y="-2.1" width="5.6" height="4.3" rx="1.2" fill="#b2b2b2" stroke="#8e8e8e" stroke-width="0.45"/><rect x="-1.2" y="-2.7" width="2.4" height="1" rx="0.4" fill="#9a9a9a"/><circle r="1.5" fill="#f6f6f6"/><circle r="0.62" fill="#4a4a4a"/></g>
<g transform="translate(224.0 318.0)"><rect x="-2.8" y="-2.1" width="5.6" height="4.3" rx="1.2" fill="#b2b2b2" stroke="#8e8e8e" stroke-width="0.45"/><rect x="-1.2" y="-2.7" width="2.4" height="1" rx="0.4" fill="#9a9a9a"/><circle r="1.5" fill="#f6f6f6"/><circle r="0.62" fill="#4a4a4a"/></g>
<g transform="translate(228.0 318.0)"><rect x="-2.8" y="-2.1" width="5.6" height="4.3" rx="1.2" fill="#b2b2b2" stroke="#8e8e8e" stroke-width="0.45"/><rect x="-1.2" y="-2.7" width="2.4" height="1" rx="0.4" fill="#9a9a9a"/><circle r="1.5" fill="#f6f6f6"/><circle r="0.62" fill="#4a4a4a"/></g>
<g transform="translate(237.0 318.0)"><rect x="-2.8" y="-2.1" width="5.6" height="4.3" rx="1.2" fill="#b2b2b2" stroke="#8e8e8e" stroke-width="0.45"/><rect x="-1.2" y="-2.7" width="2.4" height="1" rx="0.4" fill="#9a9a9a"/><circle r="1.5" fill="#f6f6f6"/><circle r="0.62" fill="#4a4a4a"/></g>
<g transform="translate(262.0 313.0)"><rect x="-2.8" y="-2.1" width="5.6" height="4.3" rx="1.2" fill="#b2b2b2" stroke="#8e8e8e" stroke-width="0.45"/><rect x="-1.2" y="-2.7" width="2.4" height="1" rx="0.4" fill="#9a9a9a"/><circle r="1.5" fill="#f6f6f6"/><circle r="0.62" fill="#4a4a4a"/></g>
<g transform="translate(271.0 311.6)"><rect x="-2.8" y="-2.1" width="5.6" height="4.3" rx="1.2" fill="#b2b2b2" stroke="#8e8e8e" stroke-width="0.45"/><rect x="-1.2" y="-2.7" width="2.4" height="1" rx="0.4" fill="#9a9a9a"/><circle r="1.5" fill="#f6f6f6"/><circle r="0.62" fill="#4a4a4a"/></g>
<g transform="translate(286.0 318.0)"><rect x="-2.8" y="-2.1" width="5.6" height="4.3" rx="1.2" fill="#b2b2b2" stroke="#8e8e8e" stroke-width="0.45"/><rect x="-1.2" y="-2.7" width="2.4" height="1" rx="0.4" fill="#9a9a9a"/><circle r="1.5" fill="#f6f6f6"/><circle r="0.62" fill="#4a4a4a"/></g>
<g transform="translate(303.0 311.6)"><rect x="-2.8" y="-2.1" width="5.6" height="4.3" rx="1.2" fill="#b2b2b2" stroke="#8e8e8e" stroke-width="0.45"/><rect x="-1.2" y="-2.7" width="2.4" height="1" rx="0.4" fill="#9a9a9a"/><circle r="1.5" fill="#f6f6f6"/><circle r="0.62" fill="#4a4a4a"/></g>
<g transform="translate(310.0 301.0)"><rect x="-2.8" y="-2.1" width="5.6" height="4.3" rx="1.2" fill="#b2b2b2" stroke="#8e8e8e" stroke-width="0.45"/><rect x="-1.2" y="-2.7" width="2.4" height="1" rx="0.4" fill="#9a9a9a"/><circle r="1.5" fill="#f6f6f6"/><circle r="0.62" fill="#4a4a4a"/></g>
<g transform="translate(316.0 318.0)"><rect x="-2.8" y="-2.1" width="5.6" height="4.3" rx="1.2" fill="#b2b2b2" stroke="#8e8e8e" stroke-width="0.45"/><rect x="-1.2" y="-2.7" width="2.4" height="1" rx="0.4" fill="#9a9a9a"/><circle r="1.5" fill="#f6f6f6"/><circle r="0.62" fill="#4a4a4a"/></g>
<g transform="translate(266.6 322.6)"><rect x="-2.8" y="-2.1" width="5.6" height="4.3" rx="1.2" fill="#b2b2b2" stroke="#8e8e8e" stroke-width="0.45"/><rect x="-1.2" y="-2.7" width="2.4" height="1" rx="0.4" fill="#9a9a9a"/><circle r="1.5" fill="#f6f6f6"/><circle r="0.62" fill="#4a4a4a"/></g>
<g transform="translate(251.4 325.6)"><rect x="-2.8" y="-2.1" width="5.6" height="4.3" rx="1.2" fill="#b2b2b2" stroke="#8e8e8e" stroke-width="0.45"/><rect x="-1.2" y="-2.7" width="2.4" height="1" rx="0.4" fill="#9a9a9a"/><circle r="1.5" fill="#f6f6f6"/><circle r="0.62" fill="#4a4a4a"/></g>
<g transform="translate(232.0 328.6)"><rect x="-2.8" y="-2.1" width="5.6" height="4.3" rx="1.2" fill="#b2b2b2" stroke="#8e8e8e" stroke-width="0.45"/><rect x="-1.2" y="-2.7" width="2.4" height="1" rx="0.4" fill="#9a9a9a"/><circle r="1.5" fill="#f6f6f6"/><circle r="0.62" fill="#4a4a4a"/></g>
<g transform="translate(224.4 330.6)"><rect x="-2.8" y="-2.1" width="5.6" height="4.3" rx="1.2" fill="#b2b2b2" stroke="#8e8e8e" stroke-width="0.45"/><rect x="-1.2" y="-2.7" width="2.4" height="1" rx="0.4" fill="#9a9a9a"/><circle r="1.5" fill="#f6f6f6"/><circle r="0.62" fill="#4a4a4a"/></g>
<g transform="translate(367.0 268.0)"><rect x="-2.8" y="-2.1" width="5.6" height="4.3" rx="1.2" fill="#b2b2b2" stroke="#8e8e8e" stroke-width="0.45"/><rect x="-1.2" y="-2.7" width="2.4" height="1" rx="0.4" fill="#9a9a9a"/><circle r="1.5" fill="#f6f6f6"/><circle r="0.62" fill="#4a4a4a"/></g>
<g transform="translate(372.6 276.0)"><rect x="-2.8" y="-2.1" width="5.6" height="4.3" rx="1.2" fill="#b2b2b2" stroke="#8e8e8e" stroke-width="0.45"/><rect x="-1.2" y="-2.7" width="2.4" height="1" rx="0.4" fill="#9a9a9a"/><circle r="1.5" fill="#f6f6f6"/><circle r="0.62" fill="#4a4a4a"/></g>
<g transform="translate(400.0 263.4)"><rect x="-2.8" y="-2.1" width="5.6" height="4.3" rx="1.2" fill="#b2b2b2" stroke="#8e8e8e" stroke-width="0.45"/><rect x="-1.2" y="-2.7" width="2.4" height="1" rx="0.4" fill="#9a9a9a"/><circle r="1.5" fill="#f6f6f6"/><circle r="0.62" fill="#4a4a4a"/></g>
<g transform="translate(400.0 270.4)"><rect x="-2.8" y="-2.1" width="5.6" height="4.3" rx="1.2" fill="#b2b2b2" stroke="#8e8e8e" stroke-width="0.45"/><rect x="-1.2" y="-2.7" width="2.4" height="1" rx="0.4" fill="#9a9a9a"/><circle r="1.5" fill="#f6f6f6"/><circle r="0.62" fill="#4a4a4a"/></g>
<g transform="translate(393.0 277.0)"><rect x="-2.8" y="-2.1" width="5.6" height="4.3" rx="1.2" fill="#b2b2b2" stroke="#8e8e8e" stroke-width="0.45"/><rect x="-1.2" y="-2.7" width="2.4" height="1" rx="0.4" fill="#9a9a9a"/><circle r="1.5" fill="#f6f6f6"/><circle r="0.62" fill="#4a4a4a"/></g>
<g transform="translate(413.6 276.6)"><rect x="-2.8" y="-2.1" width="5.6" height="4.3" rx="1.2" fill="#b2b2b2" stroke="#8e8e8e" stroke-width="0.45"/><rect x="-1.2" y="-2.7" width="2.4" height="1" rx="0.4" fill="#9a9a9a"/><circle r="1.5" fill="#f6f6f6"/><circle r="0.62" fill="#4a4a4a"/></g>
<g transform="translate(338.0 285.0)"><rect x="-2.8" y="-2.1" width="5.6" height="4.3" rx="1.2" fill="#b2b2b2" stroke="#8e8e8e" stroke-width="0.45"/><rect x="-1.2" y="-2.7" width="2.4" height="1" rx="0.4" fill="#9a9a9a"/><circle r="1.5" fill="#f6f6f6"/><circle r="0.62" fill="#4a4a4a"/></g>
<g transform="translate(324.4 289.4)"><rect x="-2.8" y="-2.1" width="5.6" height="4.3" rx="1.2" fill="#b2b2b2" stroke="#8e8e8e" stroke-width="0.45"/><rect x="-1.2" y="-2.7" width="2.4" height="1" rx="0.4" fill="#9a9a9a"/><circle r="1.5" fill="#f6f6f6"/><circle r="0.62" fill="#4a4a4a"/></g>
<g transform="translate(330.0 287.0)"><rect x="-2.8" y="-2.1" width="5.6" height="4.3" rx="1.2" fill="#b2b2b2" stroke="#8e8e8e" stroke-width="0.45"/><rect x="-1.2" y="-2.7" width="2.4" height="1" rx="0.4" fill="#9a9a9a"/><circle r="1.5" fill="#f6f6f6"/><circle r="0.62" fill="#4a4a4a"/></g>
<g transform="translate(343.0 293.0)"><rect x="-2.8" y="-2.1" width="5.6" height="4.3" rx="1.2" fill="#b2b2b2" stroke="#8e8e8e" stroke-width="0.45"/><rect x="-1.2" y="-2.7" width="2.4" height="1" rx="0.4" fill="#9a9a9a"/><circle r="1.5" fill="#f6f6f6"/><circle r="0.62" fill="#4a4a4a"/></g>
<g transform="translate(351.0 292.6)"><rect x="-2.8" y="-2.1" width="5.6" height="4.3" rx="1.2" fill="#b2b2b2" stroke="#8e8e8e" stroke-width="0.45"/><rect x="-1.2" y="-2.7" width="2.4" height="1" rx="0.4" fill="#9a9a9a"/><circle r="1.5" fill="#f6f6f6"/><circle r="0.62" fill="#4a4a4a"/></g>
<g transform="translate(361.0 289.0)"><rect x="-2.8" y="-2.1" width="5.6" height="4.3" rx="1.2" fill="#b2b2b2" stroke="#8e8e8e" stroke-width="0.45"/><rect x="-1.2" y="-2.7" width="2.4" height="1" rx="0.4" fill="#9a9a9a"/><circle r="1.5" fill="#f6f6f6"/><circle r="0.62" fill="#4a4a4a"/></g>
<g transform="translate(369.0 291.0)"><rect x="-2.8" y="-2.1" width="5.6" height="4.3" rx="1.2" fill="#b2b2b2" stroke="#8e8e8e" stroke-width="0.45"/><rect x="-1.2" y="-2.7" width="2.4" height="1" rx="0.4" fill="#9a9a9a"/><circle r="1.5" fill="#f6f6f6"/><circle r="0.62" fill="#4a4a4a"/></g>
<g transform="translate(378.0 292.0)"><rect x="-2.8" y="-2.1" width="5.6" height="4.3" rx="1.2" fill="#b2b2b2" stroke="#8e8e8e" stroke-width="0.45"/><rect x="-1.2" y="-2.7" width="2.4" height="1" rx="0.4" fill="#9a9a9a"/><circle r="1.5" fill="#f6f6f6"/><circle r="0.62" fill="#4a4a4a"/></g>
<g transform="translate(379.4 298.0)"><rect x="-2.8" y="-2.1" width="5.6" height="4.3" rx="1.2" fill="#b2b2b2" stroke="#8e8e8e" stroke-width="0.45"/><rect x="-1.2" y="-2.7" width="2.4" height="1" rx="0.4" fill="#9a9a9a"/><circle r="1.5" fill="#f6f6f6"/><circle r="0.62" fill="#4a4a4a"/></g>
<g transform="translate(398.0 293.6)"><rect x="-2.8" y="-2.1" width="5.6" height="4.3" rx="1.2" fill="#b2b2b2" stroke="#8e8e8e" stroke-width="0.45"/><rect x="-1.2" y="-2.7" width="2.4" height="1" rx="0.4" fill="#9a9a9a"/><circle r="1.5" fill="#f6f6f6"/><circle r="0.62" fill="#4a4a4a"/></g>
<g transform="translate(405.0 287.0)"><rect x="-2.8" y="-2.1" width="5.6" height="4.3" rx="1.2" fill="#b2b2b2" stroke="#8e8e8e" stroke-width="0.45"/><rect x="-1.2" y="-2.7" width="2.4" height="1" rx="0.4" fill="#9a9a9a"/><circle r="1.5" fill="#f6f6f6"/><circle r="0.62" fill="#4a4a4a"/></g>
<g transform="translate(405.6 291.0)"><rect x="-2.8" y="-2.1" width="5.6" height="4.3" rx="1.2" fill="#b2b2b2" stroke="#8e8e8e" stroke-width="0.45"/><rect x="-1.2" y="-2.7" width="2.4" height="1" rx="0.4" fill="#9a9a9a"/><circle r="1.5" fill="#f6f6f6"/><circle r="0.62" fill="#4a4a4a"/></g>
<g transform="translate(353.4 302.4)"><rect x="-2.8" y="-2.1" width="5.6" height="4.3" rx="1.2" fill="#b2b2b2" stroke="#8e8e8e" stroke-width="0.45"/><rect x="-1.2" y="-2.7" width="2.4" height="1" rx="0.4" fill="#9a9a9a"/><circle r="1.5" fill="#f6f6f6"/><circle r="0.62" fill="#4a4a4a"/></g>
<g transform="translate(435.0 253.8)"><rect x="-2.8" y="-2.1" width="5.6" height="4.3" rx="1.2" fill="#b2b2b2" stroke="#8e8e8e" stroke-width="0.45"/><rect x="-1.2" y="-2.7" width="2.4" height="1" rx="0.4" fill="#9a9a9a"/><circle r="1.5" fill="#f6f6f6"/><circle r="0.62" fill="#4a4a4a"/></g>
<g transform="translate(433.2 259.9)"><rect x="-2.8" y="-2.1" width="5.6" height="4.3" rx="1.2" fill="#b2b2b2" stroke="#8e8e8e" stroke-width="0.45"/><rect x="-1.2" y="-2.7" width="2.4" height="1" rx="0.4" fill="#9a9a9a"/><circle r="1.5" fill="#f6f6f6"/><circle r="0.62" fill="#4a4a4a"/></g>
<g transform="translate(428.8 268.4)"><rect x="-2.8" y="-2.1" width="5.6" height="4.3" rx="1.2" fill="#b2b2b2" stroke="#8e8e8e" stroke-width="0.45"/><rect x="-1.2" y="-2.7" width="2.4" height="1" rx="0.4" fill="#9a9a9a"/><circle r="1.5" fill="#f6f6f6"/><circle r="0.62" fill="#4a4a4a"/></g>
<g transform="translate(441.0 267.9)"><rect x="-2.8" y="-2.1" width="5.6" height="4.3" rx="1.2" fill="#b2b2b2" stroke="#8e8e8e" stroke-width="0.45"/><rect x="-1.2" y="-2.7" width="2.4" height="1" rx="0.4" fill="#9a9a9a"/><circle r="1.5" fill="#f6f6f6"/><circle r="0.62" fill="#4a4a4a"/></g>
<g transform="translate(446.9 267.9)"><rect x="-2.8" y="-2.1" width="5.6" height="4.3" rx="1.2" fill="#b2b2b2" stroke="#8e8e8e" stroke-width="0.45"/><rect x="-1.2" y="-2.7" width="2.4" height="1" rx="0.4" fill="#9a9a9a"/><circle r="1.5" fill="#f6f6f6"/><circle r="0.62" fill="#4a4a4a"/></g>
<g transform="translate(452.0 268.4)"><rect x="-2.8" y="-2.1" width="5.6" height="4.3" rx="1.2" fill="#b2b2b2" stroke="#8e8e8e" stroke-width="0.45"/><rect x="-1.2" y="-2.7" width="2.4" height="1" rx="0.4" fill="#9a9a9a"/><circle r="1.5" fill="#f6f6f6"/><circle r="0.62" fill="#4a4a4a"/></g>
<g transform="translate(467.0 268.4)"><rect x="-2.8" y="-2.1" width="5.6" height="4.3" rx="1.2" fill="#b2b2b2" stroke="#8e8e8e" stroke-width="0.45"/><rect x="-1.2" y="-2.7" width="2.4" height="1" rx="0.4" fill="#9a9a9a"/><circle r="1.5" fill="#f6f6f6"/><circle r="0.62" fill="#4a4a4a"/></g>
<g transform="translate(484.0 263.0)"><rect x="-2.8" y="-2.1" width="5.6" height="4.3" rx="1.2" fill="#b2b2b2" stroke="#8e8e8e" stroke-width="0.45"/><rect x="-1.2" y="-2.7" width="2.4" height="1" rx="0.4" fill="#9a9a9a"/><circle r="1.5" fill="#f6f6f6"/><circle r="0.62" fill="#4a4a4a"/></g>
<g transform="translate(489.5 248.9)"><rect x="-2.8" y="-2.1" width="5.6" height="4.3" rx="1.2" fill="#b2b2b2" stroke="#8e8e8e" stroke-width="0.45"/><rect x="-1.2" y="-2.7" width="2.4" height="1" rx="0.4" fill="#9a9a9a"/><circle r="1.5" fill="#f6f6f6"/><circle r="0.62" fill="#4a4a4a"/></g>
<g transform="translate(515.4 253.8)"><rect x="-2.8" y="-2.1" width="5.6" height="4.3" rx="1.2" fill="#b2b2b2" stroke="#8e8e8e" stroke-width="0.45"/><rect x="-1.2" y="-2.7" width="2.4" height="1" rx="0.4" fill="#9a9a9a"/><circle r="1.5" fill="#f6f6f6"/><circle r="0.62" fill="#4a4a4a"/></g>
<g transform="translate(436.8 276.3)"><rect x="-2.8" y="-2.1" width="5.6" height="4.3" rx="1.2" fill="#b2b2b2" stroke="#8e8e8e" stroke-width="0.45"/><rect x="-1.2" y="-2.7" width="2.4" height="1" rx="0.4" fill="#9a9a9a"/><circle r="1.5" fill="#f6f6f6"/><circle r="0.62" fill="#4a4a4a"/></g>
<g transform="translate(492.2 289.1)"><rect x="-2.8" y="-2.1" width="5.6" height="4.3" rx="1.2" fill="#b2b2b2" stroke="#8e8e8e" stroke-width="0.45"/><rect x="-1.2" y="-2.7" width="2.4" height="1" rx="0.4" fill="#9a9a9a"/><circle r="1.5" fill="#f6f6f6"/><circle r="0.62" fill="#4a4a4a"/></g>
<g transform="translate(510.5 286.7)"><rect x="-2.8" y="-2.1" width="5.6" height="4.3" rx="1.2" fill="#b2b2b2" stroke="#8e8e8e" stroke-width="0.45"/><rect x="-1.2" y="-2.7" width="2.4" height="1" rx="0.4" fill="#9a9a9a"/><circle r="1.5" fill="#f6f6f6"/><circle r="0.62" fill="#4a4a4a"/></g>
<g transform="translate(517.8 289.5)"><rect x="-2.8" y="-2.1" width="5.6" height="4.3" rx="1.2" fill="#b2b2b2" stroke="#8e8e8e" stroke-width="0.45"/><rect x="-1.2" y="-2.7" width="2.4" height="1" rx="0.4" fill="#9a9a9a"/><circle r="1.5" fill="#f6f6f6"/><circle r="0.62" fill="#4a4a4a"/></g>
<g transform="translate(540.1 239.2)"><rect x="-2.8" y="-2.1" width="5.6" height="4.3" rx="1.2" fill="#b2b2b2" stroke="#8e8e8e" stroke-width="0.45"/><rect x="-1.2" y="-2.7" width="2.4" height="1" rx="0.4" fill="#9a9a9a"/><circle r="1.5" fill="#f6f6f6"/><circle r="0.62" fill="#4a4a4a"/></g>
<g transform="translate(558.0 241.9)"><rect x="-2.8" y="-2.1" width="5.6" height="4.3" rx="1.2" fill="#b2b2b2" stroke="#8e8e8e" stroke-width="0.45"/><rect x="-1.2" y="-2.7" width="2.4" height="1" rx="0.4" fill="#9a9a9a"/><circle r="1.5" fill="#f6f6f6"/><circle r="0.62" fill="#4a4a4a"/></g>
<g transform="translate(543.8 247.4)"><rect x="-2.8" y="-2.1" width="5.6" height="4.3" rx="1.2" fill="#b2b2b2" stroke="#8e8e8e" stroke-width="0.45"/><rect x="-1.2" y="-2.7" width="2.4" height="1" rx="0.4" fill="#9a9a9a"/><circle r="1.5" fill="#f6f6f6"/><circle r="0.62" fill="#4a4a4a"/></g>
<g transform="translate(558.4 247.4)"><rect x="-2.8" y="-2.1" width="5.6" height="4.3" rx="1.2" fill="#b2b2b2" stroke="#8e8e8e" stroke-width="0.45"/><rect x="-1.2" y="-2.7" width="2.4" height="1" rx="0.4" fill="#9a9a9a"/><circle r="1.5" fill="#f6f6f6"/><circle r="0.62" fill="#4a4a4a"/></g>
<g transform="translate(578.5 243.8)"><rect x="-2.8" y="-2.1" width="5.6" height="4.3" rx="1.2" fill="#b2b2b2" stroke="#8e8e8e" stroke-width="0.45"/><rect x="-1.2" y="-2.7" width="2.4" height="1" rx="0.4" fill="#9a9a9a"/><circle r="1.5" fill="#f6f6f6"/><circle r="0.62" fill="#4a4a4a"/></g>
<g transform="translate(588.6 241.0)"><rect x="-2.8" y="-2.1" width="5.6" height="4.3" rx="1.2" fill="#b2b2b2" stroke="#8e8e8e" stroke-width="0.45"/><rect x="-1.2" y="-2.7" width="2.4" height="1" rx="0.4" fill="#9a9a9a"/><circle r="1.5" fill="#f6f6f6"/><circle r="0.62" fill="#4a4a4a"/></g>
<g transform="translate(592.2 240.1)"><rect x="-2.8" y="-2.1" width="5.6" height="4.3" rx="1.2" fill="#b2b2b2" stroke="#8e8e8e" stroke-width="0.45"/><rect x="-1.2" y="-2.7" width="2.4" height="1" rx="0.4" fill="#9a9a9a"/><circle r="1.5" fill="#f6f6f6"/><circle r="0.62" fill="#4a4a4a"/></g>
<g transform="translate(563.0 253.8)"><rect x="-2.8" y="-2.1" width="5.6" height="4.3" rx="1.2" fill="#b2b2b2" stroke="#8e8e8e" stroke-width="0.45"/><rect x="-1.2" y="-2.7" width="2.4" height="1" rx="0.4" fill="#9a9a9a"/><circle r="1.5" fill="#f6f6f6"/><circle r="0.62" fill="#4a4a4a"/></g>
<g transform="translate(577.6 255.6)"><rect x="-2.8" y="-2.1" width="5.6" height="4.3" rx="1.2" fill="#b2b2b2" stroke="#8e8e8e" stroke-width="0.45"/><rect x="-1.2" y="-2.7" width="2.4" height="1" rx="0.4" fill="#9a9a9a"/><circle r="1.5" fill="#f6f6f6"/><circle r="0.62" fill="#4a4a4a"/></g>
<g transform="translate(596.8 252.5)"><rect x="-2.8" y="-2.1" width="5.6" height="4.3" rx="1.2" fill="#b2b2b2" stroke="#8e8e8e" stroke-width="0.45"/><rect x="-1.2" y="-2.7" width="2.4" height="1" rx="0.4" fill="#9a9a9a"/><circle r="1.5" fill="#f6f6f6"/><circle r="0.62" fill="#4a4a4a"/></g>
<g transform="translate(604.5 252.9)"><rect x="-2.8" y="-2.1" width="5.6" height="4.3" rx="1.2" fill="#b2b2b2" stroke="#8e8e8e" stroke-width="0.45"/><rect x="-1.2" y="-2.7" width="2.4" height="1" rx="0.4" fill="#9a9a9a"/><circle r="1.5" fill="#f6f6f6"/><circle r="0.62" fill="#4a4a4a"/></g>
<g transform="translate(566.6 263.5)"><rect x="-2.8" y="-2.1" width="5.6" height="4.3" rx="1.2" fill="#b2b2b2" stroke="#8e8e8e" stroke-width="0.45"/><rect x="-1.2" y="-2.7" width="2.4" height="1" rx="0.4" fill="#9a9a9a"/><circle r="1.5" fill="#f6f6f6"/><circle r="0.62" fill="#4a4a4a"/></g>
<g transform="translate(560.6 269.4)"><rect x="-2.8" y="-2.1" width="5.6" height="4.3" rx="1.2" fill="#b2b2b2" stroke="#8e8e8e" stroke-width="0.45"/><rect x="-1.2" y="-2.7" width="2.4" height="1" rx="0.4" fill="#9a9a9a"/><circle r="1.5" fill="#f6f6f6"/><circle r="0.62" fill="#4a4a4a"/></g>
<g transform="translate(538.3 278.5)"><rect x="-2.8" y="-2.1" width="5.6" height="4.3" rx="1.2" fill="#b2b2b2" stroke="#8e8e8e" stroke-width="0.45"/><rect x="-1.2" y="-2.7" width="2.4" height="1" rx="0.4" fill="#9a9a9a"/><circle r="1.5" fill="#f6f6f6"/><circle r="0.62" fill="#4a4a4a"/></g>
<g transform="translate(523.7 282.7)"><rect x="-2.8" y="-2.1" width="5.6" height="4.3" rx="1.2" fill="#b2b2b2" stroke="#8e8e8e" stroke-width="0.45"/><rect x="-1.2" y="-2.7" width="2.4" height="1" rx="0.4" fill="#9a9a9a"/><circle r="1.5" fill="#f6f6f6"/><circle r="0.62" fill="#4a4a4a"/></g>
<g transform="translate(582.5 274.8)"><rect x="-2.8" y="-2.1" width="5.6" height="4.3" rx="1.2" fill="#b2b2b2" stroke="#8e8e8e" stroke-width="0.45"/><rect x="-1.2" y="-2.7" width="2.4" height="1" rx="0.4" fill="#9a9a9a"/><circle r="1.5" fill="#f6f6f6"/><circle r="0.62" fill="#4a4a4a"/></g>
<g transform="translate(62.0 306.0)"><rect x="-2.8" y="-2.1" width="5.6" height="4.3" rx="1.2" fill="#b2b2b2" stroke="#8e8e8e" stroke-width="0.45"/><rect x="-1.2" y="-2.7" width="2.4" height="1" rx="0.4" fill="#9a9a9a"/><circle r="1.5" fill="#f6f6f6"/><circle r="0.62" fill="#4a4a4a"/></g>
<g transform="translate(92.0 316.0)"><rect x="-2.8" y="-2.1" width="5.6" height="4.3" rx="1.2" fill="#b2b2b2" stroke="#8e8e8e" stroke-width="0.45"/><rect x="-1.2" y="-2.7" width="2.4" height="1" rx="0.4" fill="#9a9a9a"/><circle r="1.5" fill="#f6f6f6"/><circle r="0.62" fill="#4a4a4a"/></g>
<g transform="translate(103.0 333.6)"><rect x="-2.8" y="-2.1" width="5.6" height="4.3" rx="1.2" fill="#b2b2b2" stroke="#8e8e8e" stroke-width="0.45"/><rect x="-1.2" y="-2.7" width="2.4" height="1" rx="0.4" fill="#9a9a9a"/><circle r="1.5" fill="#f6f6f6"/><circle r="0.62" fill="#4a4a4a"/></g>
<g transform="translate(115.0 337.6)"><rect x="-2.8" y="-2.1" width="5.6" height="4.3" rx="1.2" fill="#b2b2b2" stroke="#8e8e8e" stroke-width="0.45"/><rect x="-1.2" y="-2.7" width="2.4" height="1" rx="0.4" fill="#9a9a9a"/><circle r="1.5" fill="#f6f6f6"/><circle r="0.62" fill="#4a4a4a"/></g>
<g transform="translate(71.0 354.4)"><rect x="-2.8" y="-2.1" width="5.6" height="4.3" rx="1.2" fill="#b2b2b2" stroke="#8e8e8e" stroke-width="0.45"/><rect x="-1.2" y="-2.7" width="2.4" height="1" rx="0.4" fill="#9a9a9a"/><circle r="1.5" fill="#f6f6f6"/><circle r="0.62" fill="#4a4a4a"/></g>
<g transform="translate(91.6 351.0)"><rect x="-2.8" y="-2.1" width="5.6" height="4.3" rx="1.2" fill="#b2b2b2" stroke="#8e8e8e" stroke-width="0.45"/><rect x="-1.2" y="-2.7" width="2.4" height="1" rx="0.4" fill="#9a9a9a"/><circle r="1.5" fill="#f6f6f6"/><circle r="0.62" fill="#4a4a4a"/></g>
<g transform="translate(118.0 322.0)"><rect x="-2.8" y="-2.1" width="5.6" height="4.3" rx="1.2" fill="#b2b2b2" stroke="#8e8e8e" stroke-width="0.45"/><rect x="-1.2" y="-2.7" width="2.4" height="1" rx="0.4" fill="#9a9a9a"/><circle r="1.5" fill="#f6f6f6"/><circle r="0.62" fill="#4a4a4a"/></g>
<g transform="translate(632.0 231.2)"><rect x="-2.8" y="-2.1" width="5.6" height="4.3" rx="1.2" fill="#b2b2b2" stroke="#8e8e8e" stroke-width="0.45"/><rect x="-1.2" y="-2.7" width="2.4" height="1" rx="0.4" fill="#9a9a9a"/><circle r="1.5" fill="#f6f6f6"/><circle r="0.62" fill="#4a4a4a"/></g>
<g transform="translate(624.1 241.4)"><rect x="-2.8" y="-2.1" width="5.6" height="4.3" rx="1.2" fill="#b2b2b2" stroke="#8e8e8e" stroke-width="0.45"/><rect x="-1.2" y="-2.7" width="2.4" height="1" rx="0.4" fill="#9a9a9a"/><circle r="1.5" fill="#f6f6f6"/><circle r="0.62" fill="#4a4a4a"/></g>
<g transform="translate(627.4 241.4)"><rect x="-2.8" y="-2.1" width="5.6" height="4.3" rx="1.2" fill="#b2b2b2" stroke="#8e8e8e" stroke-width="0.45"/><rect x="-1.2" y="-2.7" width="2.4" height="1" rx="0.4" fill="#9a9a9a"/><circle r="1.5" fill="#f6f6f6"/><circle r="0.62" fill="#4a4a4a"/></g>
<g transform="translate(603.7 252.4)"><rect x="-2.8" y="-2.1" width="5.6" height="4.3" rx="1.2" fill="#b2b2b2" stroke="#8e8e8e" stroke-width="0.45"/><rect x="-1.2" y="-2.7" width="2.4" height="1" rx="0.4" fill="#9a9a9a"/><circle r="1.5" fill="#f6f6f6"/><circle r="0.62" fill="#4a4a4a"/></g>
<g transform="translate(606.4 252.4)"><rect x="-2.8" y="-2.1" width="5.6" height="4.3" rx="1.2" fill="#b2b2b2" stroke="#8e8e8e" stroke-width="0.45"/><rect x="-1.2" y="-2.7" width="2.4" height="1" rx="0.4" fill="#9a9a9a"/><circle r="1.5" fill="#f6f6f6"/><circle r="0.62" fill="#4a4a4a"/></g>
<g transform="translate(624.1 261.9)"><rect x="-2.8" y="-2.1" width="5.6" height="4.3" rx="1.2" fill="#b2b2b2" stroke="#8e8e8e" stroke-width="0.45"/><rect x="-1.2" y="-2.7" width="2.4" height="1" rx="0.4" fill="#9a9a9a"/><circle r="1.5" fill="#f6f6f6"/><circle r="0.62" fill="#4a4a4a"/></g>
<g transform="translate(662.5 246.3)"><rect x="-2.8" y="-2.1" width="5.6" height="4.3" rx="1.2" fill="#b2b2b2" stroke="#8e8e8e" stroke-width="0.45"/><rect x="-1.2" y="-2.7" width="2.4" height="1" rx="0.4" fill="#9a9a9a"/><circle r="1.5" fill="#f6f6f6"/><circle r="0.62" fill="#4a4a4a"/></g>
</svg>
<div class="abs" style="left:0;top:399px;width:728px;height:11px;background:#f0f1f3"></div>
<svg class="abs" style="left:0;top:399px" width="728" height="11" viewBox="0 399 728 11">
<g stroke="#555" stroke-width="0.5" fill="none">
<circle cx="9.1" cy="404.7" r="2.6" stroke-dasharray="0.9 0.7"/>
<path d="M9.1 403.2V406.2M7.6 404.7H10.6"/>
</g>
<text x="15" y="406.6" style="font-size:6.2px;letter-spacing:1.7px;fill:#444;font-family:'Liberation Sans',sans-serif">+ableau</text>
<g stroke="#6f6f6f" stroke-width="0.6" fill="none">
<path d="M671.3 404.7H676.4M673.2 402.8L671.3 404.7L673.2 406.6"/>
<path d="M692 404.7H687.3M690.1 402.8L692 404.7L690.1 406.6" stroke="#cfcfcf"/>
<path d="M703.4 404.7H707.9M705.2 402.8L703.4 404.7L705.2 406.6M702.3 402.4V407"/>
<rect x="717.5" y="402.4" width="6.4" height="5" stroke-width="0.9" fill="#ececec"/>
</g></svg>
</body></html>
